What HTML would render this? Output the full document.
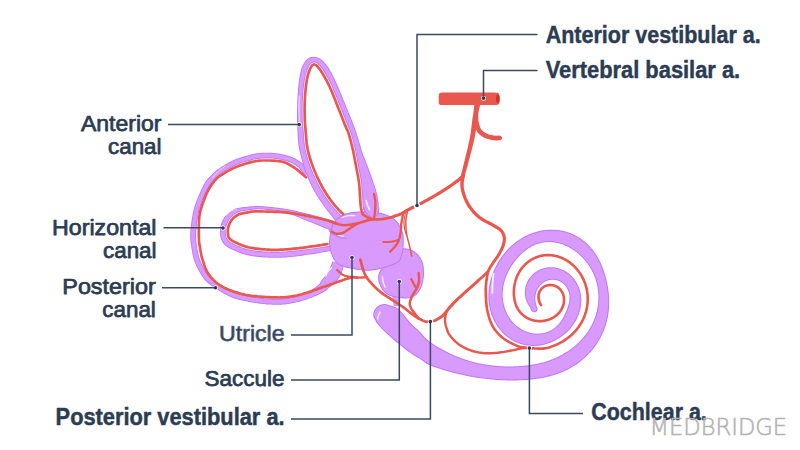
<!DOCTYPE html>
<html><head><meta charset="utf-8"><title>Inner ear arteries</title>
<style>
html,body{margin:0;padding:0;background:#fff;}
body{width:800px;height:450px;overflow:hidden;}
svg{display:block;}
text{font-family:"Liberation Sans",sans-serif;fill:#2b3c53;}
.b{font-weight:bold;}
</style></head><body>
<svg width="800" height="450" viewBox="0 0 800 450">
<rect width="800" height="450" fill="#fff"/>
<path d="M309.0 172.0 L308.6 171.4 L308.2 170.9 L307.8 170.3 L307.3 169.7 L306.9 169.1 L306.5 168.6 L306.1 168.0 L305.7 167.5 L305.4 167.0 L305.0 166.5 L304.7 166.1 L304.5 165.7 L304.3 165.4 L304.2 165.1 L304.0 164.8 L303.8 164.5 L303.6 164.2 L303.2 163.8 L302.8 163.4 L302.2 163.0 L301.5 162.5 L300.6 161.9 L299.7 161.3 L298.7 160.6 L297.6 159.9 L296.5 159.3 L295.3 158.6 L294.1 158.0 L292.8 157.4 L291.6 156.9 L290.3 156.4 L289.0 156.0 L287.5 155.6 L286.1 155.2 L284.6 154.8 L283.1 154.5 L281.6 154.2 L280.2 153.9 L278.8 153.6 L277.4 153.4 L276.1 153.2 L274.8 153.1 L273.5 152.9 L272.2 152.8 L270.9 152.8 L269.7 152.7 L268.5 152.7 L267.3 152.7 L266.1 152.7 L265.0 152.7 L263.9 152.7 L262.8 152.8 L261.8 152.8 L260.7 152.9 L259.7 153.0 L258.7 153.1 L257.8 153.2 L256.8 153.3 L255.9 153.5 L255.0 153.6 L254.1 153.8 L253.3 153.9 L252.5 154.1 L251.8 154.3 L251.0 154.5 L250.3 154.7 L249.6 154.9 L248.8 155.1 L248.0 155.4 L247.2 155.6 L246.3 155.8 L245.5 156.1 L244.5 156.3 L243.6 156.6 L242.7 156.8 L241.7 157.1 L240.8 157.4 L240.0 157.7 L239.1 157.9 L238.3 158.2 L237.6 158.5 L236.9 158.7 L236.2 159.0 L235.5 159.2 L234.9 159.5 L234.3 159.8 L233.7 160.1 L233.1 160.3 L232.4 160.7 L231.7 161.0 L231.0 161.4 L230.2 161.7 L229.5 162.1 L228.7 162.5 L227.9 162.9 L227.1 163.4 L226.4 163.8 L225.6 164.3 L224.8 164.7 L224.0 165.2 L223.2 165.7 L222.4 166.2 L221.6 166.7 L220.7 167.3 L219.9 167.8 L219.1 168.4 L218.3 168.9 L217.5 169.5 L216.8 170.1 L216.1 170.6 L215.4 171.1 L214.8 171.7 L214.2 172.2 L213.7 172.7 L213.1 173.2 L212.6 173.8 L212.1 174.3 L211.6 174.9 L211.0 175.4 L210.5 176.0 L210.0 176.6 L209.4 177.1 L208.9 177.6 L208.4 178.1 L207.9 178.7 L207.4 179.2 L206.8 179.9 L206.3 180.5 L205.8 181.3 L205.2 182.2 L204.6 183.2 L204.0 184.3 L203.4 185.5 L202.7 186.8 L202.1 188.1 L201.4 189.4 L200.8 190.8 L200.2 192.1 L199.6 193.4 L199.0 194.7 L198.5 196.0 L197.9 197.2 L197.4 198.5 L196.9 199.7 L196.4 201.0 L195.9 202.3 L195.5 203.5 L195.1 204.7 L194.7 205.9 L194.3 207.1 L194.0 208.2 L193.7 209.4 L193.4 210.4 L193.2 211.5 L193.0 212.6 L192.7 213.6 L192.6 214.7 L192.4 215.8 L192.2 216.9 L192.0 218.0 L191.8 219.2 L191.6 220.4 L191.4 221.6 L191.3 222.8 L191.1 224.1 L191.0 225.3 L190.8 226.5 L190.7 227.7 L190.6 228.9 L190.5 230.0 L190.4 231.1 L190.4 232.0 L190.3 233.0 L190.2 233.9 L190.2 234.8 L190.2 235.7 L190.2 236.7 L190.2 237.7 L190.3 238.8 L190.4 240.0 L190.5 241.4 L190.7 242.9 L190.9 244.5 L191.2 246.2 L191.4 247.9 L191.7 249.6 L192.0 251.3 L192.3 252.9 L192.5 254.3 L192.8 255.6 L193.1 256.7 L193.3 257.8 L193.6 258.7 L193.8 259.5 L194.1 260.3 L194.3 261.1 L194.6 261.8 L194.9 262.5 L195.2 263.2 L195.5 264.0 L195.8 264.8 L196.1 265.5 L196.4 266.2 L196.7 266.8 L197.0 267.5 L197.4 268.2 L197.7 268.8 L198.1 269.6 L198.5 270.3 L199.0 271.1 L199.5 271.9 L200.0 272.8 L200.5 273.8 L201.1 274.7 L201.7 275.7 L202.3 276.7 L202.9 277.6 L203.6 278.6 L204.4 279.5 L205.2 280.4 L206.0 281.3 L206.9 282.1 L207.8 282.9 L208.8 283.7 L209.8 284.5 L210.8 285.3 L211.9 286.0 L213.1 286.8 L214.3 287.7 L215.6 288.5 L217.0 289.4 L218.5 290.3 L220.0 291.3 L221.7 292.3 L223.3 293.2 L225.0 294.2 L226.7 295.1 L228.4 296.0 L230.1 296.8 L231.7 297.5 L233.3 298.1 L234.8 298.7 L236.4 299.1 L237.9 299.6 L239.5 300.0 L241.0 300.3 L242.6 300.6 L244.1 301.0 L245.6 301.3 L247.2 301.6 L248.8 301.9 L250.4 302.2 L252.0 302.5 L253.6 302.8 L255.2 303.0 L256.8 303.2 L258.4 303.5 L259.9 303.7 L261.4 303.8 L262.8 304.0 L264.2 304.1 L265.5 304.3 L266.8 304.4 L268.0 304.5 L269.2 304.5 L270.4 304.6 L271.6 304.6 L272.8 304.7 L273.9 304.7 L275.0 304.7 L276.1 304.7 L277.1 304.7 L278.1 304.7 L279.1 304.7 L280.0 304.7 L281.0 304.7 L281.9 304.7 L282.9 304.6 L283.9 304.5 L285.0 304.4 L286.1 304.3 L287.2 304.1 L288.3 304.0 L289.5 303.8 L290.6 303.6 L291.8 303.4 L293.0 303.1 L294.2 302.9 L295.5 302.6 L296.7 302.3 L298.0 302.0 L299.3 301.7 L300.6 301.3 L301.9 300.9 L303.2 300.5 L304.6 300.1 L306.0 299.7 L307.3 299.3 L308.7 298.8 L310.0 298.3 L311.4 297.8 L312.8 297.2 L314.2 296.6 L315.6 296.0 L317.1 295.4 L318.5 294.7 L319.8 294.1 L321.1 293.5 L322.2 292.9 L323.3 292.3 L324.2 291.7 L325.1 291.2 L325.8 290.7 L326.5 290.2 L327.1 289.7 L327.6 289.1 L328.2 288.6 L328.8 288.1 L329.4 287.6 L330.0 287.0 L330.7 286.4 L331.4 285.8 L332.1 285.3 L332.8 284.7 L333.5 284.0 L334.2 283.4 L334.9 282.8 L335.5 282.2 L336.1 281.6 L336.7 281.0 L337.2 280.4 L337.7 279.8 L338.2 279.2 L338.6 278.6 L339.0 278.0 L339.4 277.3 L339.7 276.7 L340.1 276.2 L340.4 275.6 L340.7 275.0 L341.0 274.4 L341.2 273.9 L341.5 273.4 L341.7 272.8 L341.9 272.3 L342.0 271.8 L342.2 271.3 L342.4 270.8 L342.5 270.2 L342.7 269.7 L342.9 269.1 L343.0 268.6 L343.1 268.0 L343.3 267.4 L343.4 266.9 L343.5 266.3 L343.6 265.7 L343.8 265.1 L343.9 264.6 L344.0 264.0 L332.3 261.4 L332.1 262.0 L331.9 262.7 L331.7 263.3 L331.6 263.8 L331.4 264.3 L331.2 264.8 L331.1 265.2 L331.0 265.6 L330.8 265.9 L330.7 266.2 L330.5 266.6 L330.3 267.1 L330.2 267.5 L330.0 267.8 L329.9 268.1 L329.8 268.3 L329.7 268.5 L329.6 268.6 L329.5 268.8 L329.4 269.1 L329.2 269.5 L328.9 269.9 L328.7 270.3 L328.5 270.7 L328.3 271.0 L328.1 271.4 L327.9 271.7 L327.7 272.0 L327.5 272.4 L327.4 272.7 L327.2 273.0 L327.0 273.4 L326.6 273.9 L326.2 274.5 L325.8 275.1 L325.2 275.7 L324.7 276.4 L324.1 277.1 L323.5 277.9 L322.9 278.6 L322.2 279.5 L321.6 280.3 L321.1 281.0 L320.8 281.6 L320.5 282.1 L320.3 282.5 L320.0 283.0 L319.8 283.4 L319.4 283.9 L318.9 284.5 L318.1 285.1 L317.2 285.8 L316.2 286.6 L315.0 287.4 L313.8 288.2 L312.6 288.9 L311.3 289.7 L310.0 290.4 L308.8 291.1 L307.5 291.7 L306.4 292.3 L305.1 292.8 L303.9 293.3 L302.7 293.8 L301.4 294.3 L300.1 294.7 L298.9 295.1 L297.6 295.5 L296.4 295.8 L295.2 296.2 L294.1 296.5 L292.9 296.8 L291.8 297.1 L290.7 297.3 L289.6 297.6 L288.5 297.8 L287.4 298.0 L286.4 298.1 L285.4 298.3 L284.3 298.4 L283.4 298.6 L282.5 298.6 L281.6 298.7 L280.8 298.8 L279.9 298.8 L279.0 298.8 L278.1 298.8 L277.2 298.8 L276.2 298.8 L275.1 298.8 L274.0 298.8 L272.9 298.8 L271.8 298.7 L270.7 298.7 L269.6 298.6 L268.4 298.6 L267.2 298.5 L266.0 298.4 L264.7 298.3 L263.4 298.1 L262.1 298.0 L260.6 297.8 L259.1 297.6 L257.6 297.4 L256.1 297.2 L254.5 296.9 L253.0 296.7 L251.4 296.4 L249.9 296.1 L248.4 295.8 L246.8 295.5 L245.3 295.2 L243.8 294.9 L242.3 294.6 L240.9 294.2 L239.5 293.9 L238.1 293.5 L236.7 293.1 L235.3 292.6 L234.0 292.1 L232.5 291.4 L231.0 290.7 L229.5 289.9 L227.9 289.1 L226.2 288.2 L224.6 287.3 L223.1 286.3 L221.5 285.4 L220.1 284.5 L218.7 283.6 L217.5 282.8 L216.3 282.0 L215.3 281.3 L214.3 280.6 L213.3 279.9 L212.4 279.2 L211.6 278.5 L210.8 277.8 L210.1 277.1 L209.4 276.4 L208.8 275.7 L208.2 275.0 L207.7 274.3 L207.1 273.5 L206.6 272.6 L206.1 271.8 L205.6 270.9 L205.0 270.0 L204.5 269.1 L204.0 268.2 L203.6 267.4 L203.2 266.7 L202.8 266.1 L202.5 265.5 L202.2 264.9 L202.0 264.4 L201.7 263.8 L201.4 263.2 L201.2 262.5 L200.9 261.8 L200.6 261.1 L200.3 260.4 L200.0 259.7 L199.8 259.1 L199.6 258.4 L199.4 257.8 L199.1 257.1 L198.9 256.3 L198.7 255.4 L198.5 254.4 L198.2 253.2 L198.0 251.8 L197.7 250.3 L197.4 248.7 L197.2 247.0 L196.9 245.3 L196.7 243.7 L196.5 242.2 L196.3 240.7 L196.2 239.5 L196.1 238.4 L196.0 237.4 L196.0 236.5 L196.0 235.7 L196.0 234.9 L196.0 234.1 L196.1 233.3 L196.1 232.4 L196.2 231.5 L196.3 230.4 L196.4 229.4 L196.5 228.3 L196.6 227.1 L196.7 226.0 L196.9 224.8 L197.0 223.6 L197.2 222.4 L197.4 221.2 L197.5 220.1 L197.7 218.9 L197.9 217.8 L198.1 216.7 L198.2 215.7 L198.4 214.7 L198.6 213.7 L198.8 212.7 L199.0 211.8 L199.2 210.8 L199.5 209.8 L199.8 208.7 L200.1 207.7 L200.5 206.5 L200.9 205.4 L201.3 204.2 L201.7 203.0 L202.2 201.8 L202.7 200.6 L203.2 199.4 L203.7 198.2 L204.2 197.0 L204.8 195.7 L205.3 194.5 L205.9 193.2 L206.6 191.9 L207.2 190.6 L207.8 189.3 L208.4 188.1 L209.0 187.0 L209.6 186.0 L210.1 185.2 L210.5 184.5 L210.9 183.9 L211.3 183.4 L211.7 183.0 L212.1 182.5 L212.5 182.1 L212.9 181.6 L213.5 181.1 L214.0 180.5 L214.6 179.9 L215.2 179.3 L215.7 178.8 L216.2 178.3 L216.7 177.8 L217.1 177.3 L217.6 176.8 L218.1 176.4 L218.6 175.9 L219.1 175.5 L219.7 175.1 L220.3 174.6 L220.9 174.1 L221.6 173.6 L222.4 173.1 L223.1 172.5 L223.9 172.0 L224.7 171.5 L225.5 171.0 L226.2 170.5 L227.0 170.1 L227.7 169.6 L228.4 169.2 L229.2 168.8 L229.9 168.4 L230.6 168.0 L231.4 167.6 L232.1 167.2 L232.8 166.8 L233.5 166.5 L234.2 166.1 L234.9 165.8 L235.5 165.5 L236.1 165.2 L236.6 165.0 L237.2 164.7 L237.7 164.5 L238.3 164.3 L238.9 164.1 L239.5 163.8 L240.2 163.6 L240.9 163.3 L241.7 163.1 L242.5 162.8 L243.3 162.6 L244.2 162.3 L245.1 162.1 L246.1 161.8 L247.0 161.6 L247.9 161.3 L248.7 161.1 L249.6 160.9 L250.4 160.6 L251.2 160.4 L251.9 160.2 L252.6 160.0 L253.2 159.8 L253.9 159.6 L254.5 159.5 L255.2 159.4 L255.9 159.2 L256.8 159.1 L257.6 159.0 L258.5 158.9 L259.4 158.7 L260.3 158.7 L261.2 158.6 L262.1 158.5 L263.1 158.5 L264.0 158.4 L265.1 158.4 L266.2 158.4 L267.3 158.4 L268.4 158.4 L269.5 158.4 L270.7 158.5 L271.8 158.5 L273.0 158.6 L274.2 158.7 L275.3 158.9 L276.5 159.0 L277.8 159.2 L279.1 159.5 L280.5 159.7 L281.9 160.0 L283.3 160.4 L284.7 160.7 L286.0 161.0 L287.3 161.4 L288.5 161.8 L289.5 162.2 L290.5 162.6 L291.6 163.1 L292.6 163.7 L293.6 164.3 L294.6 164.9 L295.6 165.5 L296.5 166.1 L297.4 166.7 L298.1 167.2 L298.8 167.7 L299.2 168.0 L299.3 168.1 L299.2 168.0 L299.1 167.9 L299.0 167.7 L299.0 167.7 L299.1 168.0 L299.4 168.5 L299.8 169.2 L300.3 169.9 L300.7 170.4 L301.1 170.9 L301.4 171.4 L301.8 172.0 L302.2 172.5 L302.6 173.1 L303.1 173.7 L303.5 174.3 L303.9 174.8 L304.3 175.4Z" fill="#c176fc"/>
<path d="M308.3 172.5 L307.9 172.0 L307.5 171.4 L307.0 170.8 L306.6 170.2 L306.2 169.7 L305.8 169.1 L305.4 168.5 L305.0 168.0 L304.6 167.5 L304.3 167.0 L304.0 166.6 L303.7 166.2 L303.5 165.8 L303.4 165.5 L303.2 165.2 L303.1 165.0 L302.9 164.8 L302.6 164.5 L302.2 164.1 L301.7 163.7 L301.0 163.2 L300.1 162.6 L299.2 162.0 L298.2 161.4 L297.1 160.7 L296.0 160.1 L294.9 159.4 L293.7 158.8 L292.5 158.2 L291.3 157.7 L290.0 157.3 L288.7 156.8 L287.3 156.4 L285.9 156.0 L284.4 155.7 L282.9 155.4 L281.5 155.0 L280.0 154.8 L278.6 154.5 L277.3 154.3 L276.0 154.1 L274.7 154.0 L273.4 153.8 L272.1 153.7 L270.9 153.7 L269.7 153.6 L268.5 153.6 L267.3 153.6 L266.1 153.6 L265.0 153.6 L263.9 153.6 L262.9 153.7 L261.8 153.7 L260.8 153.8 L259.8 153.9 L258.8 154.0 L257.9 154.1 L256.9 154.2 L256.0 154.3 L255.1 154.5 L254.3 154.6 L253.5 154.8 L252.7 155.0 L252.0 155.2 L251.3 155.4 L250.5 155.6 L249.8 155.8 L249.0 156.0 L248.3 156.2 L247.4 156.5 L246.6 156.7 L245.7 156.9 L244.8 157.2 L243.9 157.5 L242.9 157.7 L242.0 158.0 L241.1 158.2 L240.2 158.5 L239.4 158.8 L238.6 159.1 L237.9 159.3 L237.2 159.6 L236.5 159.8 L235.9 160.1 L235.3 160.3 L234.7 160.6 L234.1 160.9 L233.4 161.2 L232.8 161.5 L232.1 161.8 L231.4 162.2 L230.6 162.5 L229.9 162.9 L229.1 163.3 L228.4 163.7 L227.6 164.2 L226.8 164.6 L226.0 165.0 L225.2 165.5 L224.5 166.0 L223.7 166.5 L222.9 167.0 L222.1 167.5 L221.2 168.0 L220.4 168.6 L219.6 169.1 L218.8 169.7 L218.1 170.2 L217.3 170.8 L216.7 171.3 L216.0 171.8 L215.4 172.3 L214.9 172.9 L214.3 173.4 L213.8 173.9 L213.3 174.4 L212.7 174.9 L212.2 175.5 L211.7 176.0 L211.2 176.6 L210.6 177.2 L210.1 177.7 L209.6 178.2 L209.0 178.7 L208.5 179.3 L208.0 179.8 L207.5 180.4 L207.0 181.1 L206.5 181.8 L206.0 182.7 L205.4 183.6 L204.8 184.7 L204.2 185.9 L203.5 187.2 L202.9 188.5 L202.2 189.8 L201.6 191.1 L201.0 192.5 L200.4 193.8 L199.8 195.1 L199.3 196.3 L198.8 197.6 L198.2 198.8 L197.7 200.1 L197.2 201.3 L196.8 202.6 L196.3 203.8 L195.9 205.0 L195.5 206.2 L195.2 207.4 L194.8 208.5 L194.5 209.6 L194.3 210.7 L194.0 211.7 L193.8 212.8 L193.6 213.8 L193.4 214.9 L193.3 215.9 L193.1 217.0 L192.9 218.1 L192.7 219.3 L192.5 220.5 L192.3 221.7 L192.2 222.9 L192.0 224.2 L191.9 225.4 L191.7 226.6 L191.6 227.8 L191.5 229.0 L191.4 230.1 L191.3 231.1 L191.2 232.1 L191.2 233.0 L191.1 233.9 L191.1 234.8 L191.1 235.7 L191.1 236.6 L191.1 237.6 L191.2 238.7 L191.3 239.9 L191.4 241.3 L191.6 242.8 L191.8 244.4 L192.1 246.1 L192.3 247.8 L192.6 249.5 L192.9 251.1 L193.1 252.7 L193.4 254.1 L193.7 255.4 L193.9 256.5 L194.2 257.5 L194.4 258.4 L194.7 259.3 L194.9 260.0 L195.2 260.8 L195.5 261.5 L195.7 262.2 L196.0 262.9 L196.3 263.7 L196.6 264.4 L196.9 265.1 L197.2 265.8 L197.5 266.4 L197.8 267.1 L198.2 267.8 L198.5 268.4 L198.9 269.1 L199.3 269.9 L199.8 270.6 L200.3 271.5 L200.8 272.4 L201.3 273.3 L201.9 274.3 L202.4 275.2 L203.0 276.2 L203.7 277.1 L204.4 278.0 L205.1 278.9 L205.9 279.8 L206.7 280.6 L207.5 281.4 L208.4 282.2 L209.4 283.0 L210.3 283.8 L211.4 284.5 L212.4 285.3 L213.6 286.1 L214.8 286.9 L216.1 287.7 L217.5 288.6 L218.9 289.6 L220.5 290.5 L222.1 291.5 L223.8 292.5 L225.5 293.4 L227.2 294.3 L228.8 295.2 L230.5 296.0 L232.0 296.7 L233.6 297.3 L235.1 297.8 L236.6 298.3 L238.2 298.7 L239.7 299.1 L241.2 299.4 L242.7 299.8 L244.3 300.1 L245.8 300.4 L247.4 300.7 L248.9 301.0 L250.5 301.3 L252.1 301.6 L253.7 301.9 L255.3 302.1 L256.9 302.4 L258.5 302.6 L260.0 302.8 L261.5 302.9 L262.9 303.1 L264.3 303.2 L265.6 303.4 L266.8 303.5 L268.1 303.6 L269.3 303.6 L270.5 303.7 L271.6 303.7 L272.8 303.8 L273.9 303.8 L275.0 303.8 L276.1 303.8 L277.1 303.8 L278.1 303.8 L279.1 303.8 L280.0 303.8 L280.9 303.8 L281.9 303.8 L282.9 303.7 L283.9 303.6 L284.9 303.5 L286.0 303.4 L287.1 303.2 L288.2 303.1 L289.3 302.9 L290.5 302.7 L291.7 302.5 L292.8 302.2 L294.0 302.0 L295.3 301.7 L296.5 301.4 L297.7 301.1 L299.0 300.8 L300.3 300.4 L301.7 300.1 L303.0 299.7 L304.3 299.3 L305.7 298.9 L307.0 298.4 L308.4 297.9 L309.7 297.5 L311.0 296.9 L312.4 296.4 L313.8 295.8 L315.3 295.2 L316.7 294.6 L318.1 293.9 L319.4 293.3 L320.7 292.7 L321.8 292.1 L322.9 291.5 L323.8 291.0 L324.6 290.5 L325.3 290.0 L325.9 289.5 L326.5 289.0 L327.0 288.5 L327.6 288.0 L328.2 287.4 L328.8 286.9 L329.4 286.3 L330.1 285.7 L330.8 285.2 L331.5 284.6 L332.2 284.0 L332.9 283.4 L333.6 282.8 L334.3 282.2 L334.9 281.6 L335.5 281.0 L336.0 280.4 L336.5 279.8 L337.0 279.2 L337.4 278.6 L337.8 278.1 L338.2 277.5 L338.6 276.9 L339.0 276.3 L339.3 275.7 L339.6 275.1 L339.9 274.6 L340.2 274.0 L340.4 273.5 L340.6 273.0 L340.8 272.5 L341.0 272.0 L341.2 271.5 L341.4 271.0 L341.5 270.5 L341.7 270.0 L341.8 269.4 L342.0 268.9 L342.1 268.4 L342.3 267.8 L342.4 267.3 L342.5 266.7 L342.6 266.1 L342.8 265.5 L342.9 265.0 L343.0 264.4 L343.1 263.8 L333.2 261.6 L333.0 262.2 L332.8 262.8 L332.6 263.5 L332.4 264.0 L332.3 264.5 L332.1 265.0 L332.0 265.4 L331.8 265.8 L331.7 266.1 L331.6 266.4 L331.4 266.9 L331.2 267.4 L331.0 267.8 L330.9 268.1 L330.8 268.4 L330.6 268.6 L330.5 268.8 L330.4 269.0 L330.3 269.2 L330.2 269.5 L329.9 269.9 L329.7 270.3 L329.5 270.8 L329.2 271.2 L329.0 271.5 L328.8 271.9 L328.6 272.3 L328.4 272.6 L328.2 272.9 L328.1 273.3 L327.9 273.6 L327.6 274.1 L327.2 274.6 L326.8 275.1 L326.3 275.8 L325.8 276.4 L325.3 277.1 L324.7 277.8 L324.1 278.5 L323.4 279.3 L322.8 280.1 L322.2 280.9 L321.7 281.6 L321.4 282.2 L321.1 282.8 L320.8 283.2 L320.6 283.7 L320.3 284.2 L319.9 284.7 L319.3 285.3 L318.5 285.9 L317.6 286.6 L316.6 287.4 L315.4 288.2 L314.2 289.0 L312.9 289.8 L311.6 290.5 L310.4 291.3 L309.1 292.0 L307.9 292.6 L306.7 293.2 L305.4 293.7 L304.2 294.2 L302.9 294.7 L301.7 295.1 L300.4 295.6 L299.1 296.0 L297.9 296.3 L296.6 296.7 L295.4 297.1 L294.3 297.4 L293.1 297.7 L292.0 298.0 L290.8 298.2 L289.7 298.4 L288.6 298.7 L287.6 298.9 L286.5 299.0 L285.5 299.2 L284.4 299.3 L283.5 299.4 L282.6 299.5 L281.7 299.6 L280.8 299.7 L279.9 299.7 L279.0 299.7 L278.1 299.7 L277.2 299.7 L276.2 299.7 L275.1 299.7 L274.0 299.7 L272.9 299.7 L271.8 299.6 L270.6 299.6 L269.5 299.5 L268.3 299.5 L267.1 299.4 L265.9 299.3 L264.7 299.2 L263.3 299.0 L262.0 298.9 L260.5 298.7 L259.0 298.5 L257.5 298.3 L255.9 298.1 L254.4 297.8 L252.8 297.6 L251.3 297.3 L249.7 297.0 L248.2 296.7 L246.6 296.4 L245.1 296.1 L243.6 295.8 L242.1 295.4 L240.7 295.1 L239.2 294.7 L237.8 294.3 L236.4 293.9 L235.0 293.4 L233.6 292.9 L232.2 292.3 L230.6 291.5 L229.1 290.7 L227.4 289.9 L225.8 289.0 L224.2 288.0 L222.6 287.1 L221.1 286.2 L219.6 285.2 L218.3 284.4 L217.0 283.6 L215.8 282.8 L214.7 282.0 L213.7 281.3 L212.8 280.6 L211.9 279.9 L211.0 279.2 L210.2 278.5 L209.5 277.8 L208.8 277.0 L208.1 276.3 L207.5 275.6 L206.9 274.8 L206.4 274.0 L205.8 273.1 L205.3 272.2 L204.8 271.3 L204.3 270.4 L203.7 269.5 L203.2 268.6 L202.8 267.9 L202.4 267.2 L202.0 266.5 L201.7 265.9 L201.4 265.3 L201.2 264.8 L200.9 264.2 L200.6 263.5 L200.3 262.9 L200.0 262.2 L199.7 261.4 L199.5 260.7 L199.2 260.0 L198.9 259.4 L198.7 258.7 L198.5 258.1 L198.3 257.3 L198.0 256.5 L197.8 255.6 L197.6 254.6 L197.3 253.4 L197.1 252.0 L196.8 250.4 L196.5 248.8 L196.3 247.1 L196.0 245.5 L195.8 243.8 L195.6 242.3 L195.4 240.8 L195.3 239.6 L195.2 238.4 L195.1 237.4 L195.1 236.5 L195.1 235.7 L195.1 234.9 L195.1 234.1 L195.2 233.3 L195.2 232.4 L195.3 231.4 L195.4 230.4 L195.5 229.3 L195.6 228.2 L195.7 227.0 L195.8 225.9 L196.0 224.7 L196.1 223.5 L196.3 222.3 L196.5 221.1 L196.7 219.9 L196.8 218.8 L197.0 217.7 L197.2 216.6 L197.4 215.5 L197.5 214.5 L197.7 213.5 L197.9 212.5 L198.1 211.5 L198.3 210.5 L198.6 209.5 L198.9 208.5 L199.2 207.4 L199.6 206.3 L200.0 205.1 L200.4 203.9 L200.9 202.7 L201.4 201.5 L201.8 200.3 L202.4 199.1 L202.9 197.8 L203.4 196.6 L203.9 195.4 L204.5 194.1 L205.1 192.8 L205.7 191.5 L206.4 190.2 L207.0 188.9 L207.6 187.7 L208.2 186.6 L208.8 185.6 L209.3 184.7 L209.7 184.0 L210.2 183.4 L210.6 182.9 L211.0 182.4 L211.4 181.9 L211.8 181.5 L212.3 181.0 L212.8 180.5 L213.4 179.9 L214.0 179.3 L214.5 178.7 L215.0 178.2 L215.5 177.6 L216.0 177.1 L216.5 176.7 L217.0 176.2 L217.5 175.7 L218.0 175.3 L218.5 174.8 L219.1 174.3 L219.7 173.9 L220.4 173.4 L221.1 172.9 L221.8 172.3 L222.6 171.8 L223.4 171.3 L224.2 170.8 L225.0 170.3 L225.8 169.8 L226.5 169.3 L227.2 168.8 L228.0 168.4 L228.7 168.0 L229.5 167.6 L230.2 167.2 L231.0 166.8 L231.7 166.4 L232.4 166.0 L233.1 165.7 L233.8 165.3 L234.5 165.0 L235.1 164.7 L235.7 164.4 L236.3 164.2 L236.8 163.9 L237.4 163.7 L237.9 163.4 L238.5 163.2 L239.2 163.0 L239.9 162.7 L240.6 162.5 L241.4 162.2 L242.2 162.0 L243.1 161.7 L244.0 161.5 L244.9 161.2 L245.8 161.0 L246.7 160.7 L247.6 160.5 L248.5 160.2 L249.3 160.0 L250.1 159.8 L250.9 159.5 L251.6 159.3 L252.3 159.1 L253.0 158.9 L253.7 158.8 L254.3 158.6 L255.0 158.5 L255.8 158.3 L256.6 158.2 L257.5 158.1 L258.4 158.0 L259.3 157.9 L260.2 157.8 L261.1 157.7 L262.1 157.6 L263.0 157.6 L264.0 157.5 L265.1 157.5 L266.1 157.5 L267.3 157.5 L268.4 157.5 L269.6 157.5 L270.7 157.6 L271.9 157.6 L273.1 157.7 L274.3 157.8 L275.5 158.0 L276.7 158.1 L277.9 158.4 L279.3 158.6 L280.7 158.9 L282.1 159.2 L283.5 159.5 L284.9 159.8 L286.2 160.2 L287.5 160.6 L288.8 161.0 L289.9 161.4 L290.9 161.8 L292.0 162.3 L293.0 162.9 L294.1 163.5 L295.1 164.1 L296.1 164.7 L297.0 165.3 L297.9 165.9 L298.7 166.5 L299.3 167.0 L299.7 167.3 L299.9 167.4 L299.9 167.4 L299.8 167.4 L299.8 167.3 L299.8 167.3 L299.9 167.6 L300.2 168.1 L300.6 168.8 L301.0 169.4 L301.4 169.9 L301.8 170.4 L302.2 170.9 L302.5 171.4 L303.0 172.0 L303.4 172.6 L303.8 173.2 L304.2 173.7 L304.6 174.3 L305.0 174.9Z" fill="#d99afd"/>
<path d="M344.0 224.0 L343.5 223.8 L343.0 223.6 L342.5 223.3 L342.0 223.1 L341.5 222.9 L341.0 222.7 L340.5 222.5 L339.9 222.3 L339.2 222.0 L338.5 221.8 L337.7 221.6 L336.9 221.4 L336.0 221.1 L335.0 220.9 L334.0 220.7 L333.0 220.5 L332.0 220.2 L330.9 220.0 L329.8 219.7 L328.7 219.4 L327.5 219.1 L326.3 218.7 L325.1 218.4 L323.8 218.0 L322.5 217.6 L321.1 217.2 L319.8 216.9 L318.5 216.5 L317.2 216.1 L316.0 215.8 L314.8 215.5 L313.6 215.2 L312.5 214.9 L311.3 214.6 L310.2 214.3 L309.0 214.0 L307.9 213.7 L306.8 213.5 L305.6 213.2 L304.4 212.9 L303.2 212.6 L302.0 212.3 L300.7 212.0 L299.5 211.7 L298.2 211.4 L297.0 211.1 L295.7 210.8 L294.5 210.5 L293.2 210.3 L292.0 210.0 L290.8 209.8 L289.6 209.5 L288.4 209.3 L287.2 209.1 L286.0 208.9 L284.9 208.7 L283.7 208.5 L282.5 208.3 L281.2 208.2 L280.0 208.0 L278.7 207.8 L277.4 207.7 L276.1 207.5 L274.8 207.4 L273.5 207.2 L272.1 207.1 L270.8 206.9 L269.5 206.8 L268.2 206.7 L267.0 206.6 L265.8 206.5 L264.7 206.4 L263.6 206.3 L262.6 206.2 L261.5 206.1 L260.4 206.0 L259.3 206.0 L258.2 206.0 L256.9 206.0 L255.6 206.0 L254.1 206.1 L252.5 206.2 L250.8 206.3 L249.0 206.5 L247.2 206.7 L245.4 206.9 L243.7 207.1 L242.1 207.3 L240.7 207.5 L239.4 207.7 L238.3 207.9 L237.4 208.1 L236.6 208.3 L235.9 208.6 L235.3 208.8 L234.7 209.1 L234.2 209.3 L233.6 209.6 L233.1 209.9 L232.5 210.2 L231.9 210.5 L231.3 210.9 L230.7 211.2 L230.1 211.6 L229.6 212.0 L229.0 212.4 L228.5 212.9 L228.0 213.3 L227.5 213.7 L227.0 214.2 L226.5 214.7 L226.1 215.2 L225.6 215.7 L225.2 216.2 L224.8 216.8 L224.4 217.3 L224.0 217.9 L223.7 218.4 L223.3 219.0 L223.0 219.5 L222.7 220.0 L222.4 220.6 L222.2 221.2 L221.9 221.7 L221.7 222.3 L221.5 222.8 L221.3 223.4 L221.1 223.9 L221.0 224.5 L220.8 225.0 L220.7 225.5 L220.5 226.0 L220.4 226.5 L220.3 227.0 L220.2 227.5 L220.2 228.0 L220.1 228.4 L220.1 228.9 L220.0 229.5 L220.0 230.0 L220.0 230.6 L220.0 231.2 L220.0 231.8 L220.0 232.4 L220.0 233.0 L220.0 233.6 L220.1 234.2 L220.1 234.8 L220.2 235.4 L220.3 236.0 L220.4 236.5 L220.5 237.1 L220.6 237.6 L220.7 238.1 L220.8 238.6 L221.0 239.1 L221.2 239.6 L221.3 240.0 L221.6 240.5 L221.8 241.0 L222.1 241.5 L222.4 242.0 L222.7 242.4 L223.0 242.9 L223.4 243.4 L223.8 243.9 L224.2 244.3 L224.6 244.8 L225.0 245.2 L225.5 245.6 L225.9 246.0 L226.3 246.3 L226.7 246.7 L227.1 247.0 L227.6 247.3 L228.1 247.6 L228.6 248.0 L229.3 248.3 L230.2 248.7 L231.2 249.2 L232.4 249.7 L233.7 250.3 L235.1 251.0 L236.6 251.6 L238.2 252.3 L239.9 253.0 L241.7 253.7 L243.6 254.3 L245.5 254.8 L247.5 255.3 L249.6 255.7 L251.9 256.1 L254.2 256.4 L256.7 256.7 L259.2 257.0 L261.8 257.2 L264.3 257.4 L266.9 257.6 L269.4 257.7 L271.9 257.8 L274.3 257.8 L276.6 257.8 L278.9 257.8 L281.2 257.7 L283.5 257.6 L285.9 257.5 L288.3 257.3 L290.8 257.1 L293.4 256.8 L296.2 256.5 L299.2 256.1 L302.5 255.7 L306.0 255.1 L309.6 254.6 L313.3 254.0 L316.8 253.4 L320.2 252.8 L323.4 252.2 L326.3 251.7 L328.7 251.3 L330.7 250.9 L332.3 250.6 L333.6 250.4 L334.7 250.1 L335.7 249.9 L336.5 249.7 L337.3 249.5 L338.1 249.3 L339.0 249.0 L340.0 248.8 L338.8 243.6 L337.7 243.9 L336.8 244.1 L335.9 244.4 L335.2 244.6 L334.4 244.8 L333.6 245.0 L332.5 245.2 L331.3 245.5 L329.7 245.8 L327.8 246.1 L325.3 246.5 L322.5 246.9 L319.3 247.4 L315.9 247.9 L312.3 248.4 L308.7 248.9 L305.1 249.4 L301.7 249.8 L298.4 250.2 L295.5 250.5 L292.8 250.8 L290.2 251.1 L287.8 251.3 L285.5 251.4 L283.2 251.6 L281.0 251.7 L278.8 251.8 L276.6 251.8 L274.4 251.8 L272.0 251.8 L269.7 251.7 L267.2 251.6 L264.7 251.5 L262.3 251.3 L259.8 251.0 L257.4 250.8 L255.0 250.5 L252.8 250.2 L250.7 249.8 L248.8 249.4 L247.0 249.0 L245.3 248.5 L243.6 248.0 L242.0 247.4 L240.5 246.8 L239.0 246.1 L237.5 245.5 L236.2 244.9 L234.9 244.3 L233.7 243.7 L232.7 243.3 L232.0 243.0 L231.5 242.7 L231.2 242.5 L230.9 242.4 L230.7 242.3 L230.5 242.1 L230.2 241.9 L229.9 241.6 L229.4 241.2 L229.1 240.9 L228.8 240.6 L228.5 240.3 L228.2 240.0 L228.0 239.7 L227.7 239.4 L227.5 239.1 L227.3 238.8 L227.1 238.5 L226.9 238.3 L226.8 238.0 L226.7 237.8 L226.6 237.6 L226.5 237.3 L226.4 237.0 L226.3 236.7 L226.3 236.4 L226.2 236.0 L226.1 235.5 L226.0 235.1 L226.0 234.7 L225.9 234.2 L225.9 233.7 L225.8 233.2 L225.8 232.7 L225.8 232.2 L225.8 231.7 L225.8 231.2 L225.8 230.7 L225.8 230.3 L225.8 229.8 L225.8 229.4 L225.9 229.1 L225.9 228.7 L226.0 228.4 L226.0 228.0 L226.1 227.7 L226.2 227.4 L226.3 227.0 L226.4 226.6 L226.5 226.1 L226.6 225.7 L226.8 225.2 L226.9 224.8 L227.1 224.3 L227.2 223.9 L227.4 223.5 L227.6 223.1 L227.8 222.7 L228.0 222.3 L228.2 221.9 L228.4 221.4 L228.7 221.0 L228.9 220.5 L229.2 220.1 L229.5 219.6 L229.8 219.2 L230.1 218.8 L230.4 218.4 L230.7 218.0 L231.0 217.6 L231.4 217.2 L231.8 216.8 L232.2 216.5 L232.6 216.1 L233.0 215.8 L233.4 215.4 L233.8 215.1 L234.3 214.8 L234.8 214.4 L235.3 214.1 L235.8 213.7 L236.3 213.5 L236.6 213.2 L237.0 213.0 L237.4 212.8 L237.9 212.6 L238.5 212.3 L239.2 212.1 L240.1 211.8 L241.3 211.6 L242.7 211.3 L244.2 211.0 L245.9 210.7 L247.6 210.4 L249.4 210.1 L251.1 209.9 L252.8 209.7 L254.3 209.5 L255.7 209.4 L257.0 209.3 L258.1 209.3 L259.2 209.3 L260.2 209.3 L261.3 209.4 L262.3 209.5 L263.3 209.6 L264.4 209.7 L265.5 209.8 L266.7 209.9 L268.0 210.0 L269.2 210.1 L270.5 210.2 L271.8 210.3 L273.1 210.5 L274.4 210.6 L275.7 210.8 L277.0 211.0 L278.3 211.2 L279.5 211.4 L280.8 211.6 L281.9 211.9 L283.1 212.1 L284.3 212.4 L285.4 212.7 L286.5 213.0 L287.7 213.3 L288.8 213.7 L290.0 214.0 L291.1 214.4 L292.3 214.8 L293.4 215.3 L294.6 215.7 L295.8 216.2 L296.9 216.7 L298.1 217.2 L299.3 217.7 L300.5 218.2 L301.7 218.7 L302.9 219.2 L304.0 219.7 L305.1 220.1 L306.3 220.5 L307.3 221.0 L308.4 221.4 L309.5 221.8 L310.6 222.2 L311.7 222.6 L312.8 223.1 L313.9 223.5 L315.1 224.0 L316.3 224.5 L317.5 225.0 L318.7 225.6 L320.0 226.1 L321.3 226.7 L322.5 227.2 L323.8 227.7 L325.0 228.2 L326.2 228.7 L327.4 229.1 L328.6 229.5 L329.7 229.9 L330.8 230.2 L331.8 230.6 L332.7 230.9 L333.6 231.1 L334.3 231.4 L335.0 231.6 L335.5 231.9 L335.9 232.1 L336.3 232.3 L336.6 232.4 L336.9 232.6 L337.2 232.8 L337.6 233.0 L338.0 233.3 L338.6 233.5 L339.2 233.9 L339.8 234.2Z" fill="#c176fc"/>
<path d="M343.7 224.8 L343.1 224.6 L342.6 224.4 L342.1 224.2 L341.6 224.0 L341.2 223.7 L340.7 223.5 L340.1 223.3 L339.6 223.1 L338.9 222.9 L338.2 222.7 L337.5 222.4 L336.6 222.2 L335.8 222.0 L334.8 221.8 L333.8 221.6 L332.8 221.3 L331.8 221.1 L330.7 220.8 L329.6 220.6 L328.5 220.3 L327.3 220.0 L326.1 219.6 L324.8 219.3 L323.5 218.9 L322.2 218.5 L320.9 218.1 L319.6 217.7 L318.3 217.4 L317.0 217.0 L315.8 216.7 L314.6 216.4 L313.4 216.0 L312.2 215.8 L311.1 215.5 L310.0 215.2 L308.8 214.9 L307.7 214.6 L306.5 214.3 L305.4 214.1 L304.2 213.8 L303.0 213.5 L301.8 213.2 L300.5 212.9 L299.3 212.6 L298.0 212.3 L296.8 212.0 L295.5 211.7 L294.3 211.4 L293.0 211.1 L291.8 210.9 L290.6 210.6 L289.4 210.4 L288.2 210.2 L287.1 210.0 L285.9 209.8 L284.7 209.6 L283.5 209.4 L282.3 209.2 L281.1 209.1 L279.9 208.9 L278.6 208.7 L277.3 208.6 L276.0 208.4 L274.7 208.3 L273.4 208.1 L272.0 208.0 L270.7 207.8 L269.4 207.7 L268.2 207.6 L266.9 207.5 L265.7 207.4 L264.6 207.3 L263.5 207.2 L262.5 207.1 L261.4 207.0 L260.4 206.9 L259.3 206.9 L258.2 206.9 L256.9 206.9 L255.6 206.9 L254.2 207.0 L252.6 207.1 L250.9 207.2 L249.1 207.4 L247.3 207.6 L245.5 207.7 L243.8 208.0 L242.2 208.2 L240.8 208.4 L239.6 208.6 L238.5 208.8 L237.6 209.0 L236.9 209.2 L236.2 209.4 L235.6 209.6 L235.1 209.9 L234.6 210.1 L234.1 210.4 L233.5 210.7 L232.9 211.0 L232.3 211.3 L231.8 211.7 L231.2 212.0 L230.6 212.4 L230.1 212.8 L229.6 213.1 L229.1 213.6 L228.6 214.0 L228.1 214.4 L227.6 214.8 L227.2 215.3 L226.7 215.8 L226.3 216.3 L225.9 216.8 L225.5 217.3 L225.1 217.8 L224.8 218.4 L224.4 218.9 L224.1 219.4 L223.8 219.9 L223.5 220.5 L223.2 221.0 L223.0 221.5 L222.8 222.1 L222.5 222.6 L222.3 223.1 L222.2 223.7 L222.0 224.2 L221.8 224.7 L221.7 225.2 L221.5 225.7 L221.4 226.2 L221.3 226.7 L221.2 227.2 L221.1 227.6 L221.1 228.1 L221.0 228.5 L221.0 229.0 L220.9 229.5 L220.9 230.0 L220.9 230.6 L220.9 231.2 L220.9 231.7 L220.9 232.4 L220.9 233.0 L220.9 233.6 L221.0 234.2 L221.0 234.8 L221.1 235.3 L221.2 235.9 L221.3 236.4 L221.4 236.9 L221.5 237.4 L221.6 237.9 L221.7 238.3 L221.8 238.8 L222.0 239.2 L222.2 239.7 L222.4 240.1 L222.6 240.6 L222.8 241.0 L223.1 241.5 L223.4 241.9 L223.7 242.4 L224.1 242.8 L224.5 243.3 L224.8 243.7 L225.2 244.1 L225.7 244.5 L226.1 244.9 L226.5 245.3 L226.9 245.7 L227.3 246.0 L227.7 246.3 L228.1 246.6 L228.5 246.9 L229.1 247.2 L229.8 247.5 L230.6 247.9 L231.6 248.4 L232.7 248.9 L234.0 249.5 L235.4 250.1 L236.9 250.8 L238.5 251.5 L240.2 252.2 L242.0 252.8 L243.8 253.4 L245.7 254.0 L247.7 254.4 L249.8 254.8 L252.0 255.2 L254.3 255.5 L256.8 255.8 L259.3 256.1 L261.8 256.3 L264.4 256.5 L266.9 256.7 L269.5 256.8 L271.9 256.9 L274.3 256.9 L276.6 256.9 L278.9 256.9 L281.2 256.8 L283.5 256.7 L285.8 256.6 L288.2 256.4 L290.7 256.2 L293.3 255.9 L296.1 255.6 L299.1 255.2 L302.4 254.8 L305.9 254.3 L309.5 253.7 L313.1 253.1 L316.7 252.5 L320.1 251.9 L323.3 251.3 L326.1 250.8 L328.5 250.4 L330.5 250.1 L332.1 249.7 L333.5 249.5 L334.5 249.2 L335.5 249.0 L336.3 248.8 L337.1 248.6 L337.9 248.4 L338.8 248.2 L339.8 247.9 L339.0 244.5 L337.9 244.8 L337.0 245.0 L336.2 245.2 L335.4 245.4 L334.6 245.7 L333.8 245.9 L332.7 246.1 L331.5 246.4 L329.9 246.6 L327.9 247.0 L325.5 247.4 L322.6 247.8 L319.5 248.3 L316.0 248.8 L312.5 249.3 L308.9 249.8 L305.3 250.3 L301.8 250.7 L298.6 251.1 L295.6 251.4 L292.9 251.7 L290.3 251.9 L287.9 252.2 L285.5 252.3 L283.3 252.5 L281.0 252.6 L278.8 252.7 L276.6 252.7 L274.3 252.7 L272.0 252.7 L269.6 252.6 L267.2 252.5 L264.7 252.4 L262.2 252.2 L259.7 251.9 L257.3 251.7 L254.9 251.4 L252.7 251.1 L250.5 250.7 L248.6 250.3 L246.8 249.9 L245.0 249.4 L243.4 248.8 L241.7 248.2 L240.1 247.6 L238.6 246.9 L237.2 246.3 L235.8 245.7 L234.5 245.1 L233.3 244.6 L232.3 244.1 L231.6 243.8 L231.1 243.5 L230.7 243.3 L230.4 243.1 L230.2 243.0 L229.9 242.8 L229.6 242.6 L229.3 242.2 L228.8 241.9 L228.5 241.5 L228.1 241.3 L227.8 240.9 L227.5 240.6 L227.3 240.3 L227.0 240.0 L226.7 239.6 L226.5 239.3 L226.3 239.0 L226.1 238.7 L226.0 238.4 L225.8 238.1 L225.7 237.9 L225.6 237.6 L225.5 237.3 L225.5 236.9 L225.4 236.6 L225.3 236.1 L225.2 235.7 L225.1 235.2 L225.1 234.8 L225.0 234.3 L225.0 233.8 L224.9 233.3 L224.9 232.8 L224.9 232.2 L224.9 231.7 L224.9 231.2 L224.9 230.7 L224.9 230.2 L224.9 229.8 L225.0 229.4 L225.0 229.0 L225.0 228.6 L225.1 228.2 L225.2 227.9 L225.2 227.5 L225.3 227.2 L225.4 226.8 L225.5 226.3 L225.6 225.9 L225.8 225.4 L225.9 224.9 L226.1 224.5 L226.2 224.0 L226.4 223.6 L226.6 223.1 L226.8 222.7 L227.0 222.3 L227.2 221.9 L227.4 221.4 L227.7 220.9 L227.9 220.5 L228.2 220.0 L228.5 219.5 L228.8 219.0 L229.1 218.6 L229.4 218.2 L229.8 217.7 L230.1 217.3 L230.4 216.9 L230.8 216.5 L231.2 216.1 L231.6 215.8 L232.0 215.4 L232.5 215.0 L232.9 214.7 L233.4 214.3 L233.8 214.0 L234.3 213.6 L234.9 213.3 L235.4 212.9 L235.8 212.7 L236.2 212.4 L236.6 212.2 L237.1 211.9 L237.6 211.7 L238.2 211.5 L239.0 211.2 L240.0 210.9 L241.2 210.7 L242.6 210.4 L244.1 210.1 L245.8 209.8 L247.5 209.5 L249.3 209.2 L251.0 209.0 L252.7 208.8 L254.3 208.6 L255.7 208.5 L257.0 208.4 L258.1 208.4 L259.2 208.4 L260.3 208.4 L261.3 208.5 L262.3 208.6 L263.4 208.7 L264.5 208.8 L265.6 208.9 L266.8 209.0 L268.0 209.1 L269.3 209.2 L270.6 209.3 L271.9 209.4 L273.2 209.6 L274.5 209.7 L275.8 209.9 L277.1 210.1 L278.4 210.3 L279.7 210.5 L280.9 210.7 L282.1 211.0 L283.2 211.2 L284.4 211.5 L285.6 211.8 L286.7 212.1 L287.8 212.4 L289.0 212.8 L290.1 213.1 L291.3 213.5 L292.4 213.9 L293.6 214.4 L294.8 214.8 L296.0 215.3 L297.2 215.8 L298.3 216.4 L299.5 216.9 L300.7 217.4 L301.9 217.9 L303.1 218.3 L304.2 218.8 L305.4 219.2 L306.5 219.7 L307.6 220.1 L308.6 220.5 L309.7 220.9 L310.8 221.3 L311.9 221.8 L313.0 222.2 L314.2 222.7 L315.3 223.1 L316.5 223.6 L317.7 224.2 L319.0 224.7 L320.2 225.3 L321.5 225.8 L322.8 226.3 L324.0 226.9 L325.3 227.3 L326.5 227.8 L327.7 228.2 L328.8 228.6 L329.9 229.0 L331.0 229.4 L332.0 229.7 L332.9 230.0 L333.8 230.3 L334.5 230.5 L335.2 230.8 L335.7 231.0 L336.2 231.2 L336.6 231.4 L336.9 231.6 L337.2 231.8 L337.6 232.0 L337.9 232.2 L338.4 232.4 L338.9 232.7 L339.5 233.0 L340.1 233.3Z" fill="#d99afd"/>
<path d="M336.0 222.0 L335.7 221.6 L335.5 221.3 L335.3 221.1 L335.1 220.8 L334.9 220.5 L334.6 220.2 L334.4 219.8 L334.0 219.3 L333.6 218.7 L333.0 218.0 L332.3 217.1 L331.6 216.2 L330.7 215.1 L329.8 214.0 L328.9 212.8 L327.9 211.5 L326.8 210.1 L325.8 208.8 L324.8 207.4 L323.8 206.0 L322.8 204.6 L321.8 203.1 L320.7 201.5 L319.6 199.9 L318.6 198.3 L317.5 196.7 L316.4 195.0 L315.4 193.3 L314.4 191.7 L313.5 190.0 L312.6 188.3 L311.7 186.6 L310.9 184.8 L310.0 183.1 L309.2 181.3 L308.4 179.6 L307.7 177.8 L307.0 176.2 L306.3 174.5 L305.7 173.0 L305.1 171.5 L304.7 170.2 L304.2 168.8 L303.8 167.6 L303.5 166.3 L303.1 165.1 L302.8 163.8 L302.5 162.6 L302.1 161.3 L301.8 160.0 L301.4 158.6 L301.1 157.3 L300.7 155.9 L300.4 154.6 L300.0 153.2 L299.7 151.8 L299.4 150.4 L299.1 148.9 L298.8 147.5 L298.6 146.0 L298.4 144.5 L298.2 142.8 L298.1 141.2 L297.9 139.5 L297.8 137.8 L297.7 136.1 L297.6 134.4 L297.6 132.8 L297.5 131.4 L297.4 130.0 L297.3 128.8 L297.3 127.8 L297.2 126.9 L297.1 126.0 L297.1 125.2 L297.1 124.4 L297.0 123.5 L297.0 122.5 L297.0 121.4 L297.0 120.0 L297.0 118.4 L297.0 116.6 L297.0 114.7 L297.0 112.7 L297.1 110.6 L297.1 108.5 L297.2 106.3 L297.2 104.2 L297.3 102.0 L297.4 100.0 L297.5 98.0 L297.6 95.9 L297.7 93.8 L297.9 91.7 L298.0 89.6 L298.2 87.5 L298.4 85.5 L298.6 83.6 L298.8 81.7 L299.0 80.0 L299.2 78.4 L299.5 76.9 L299.7 75.4 L300.0 74.1 L300.3 72.8 L300.6 71.5 L300.9 70.3 L301.2 69.2 L301.6 68.1 L302.0 67.0 L302.4 66.0 L302.9 65.0 L303.4 64.0 L303.9 63.2 L304.5 62.3 L305.0 61.5 L305.6 60.8 L306.1 60.1 L306.7 59.5 L307.3 59.0 L307.9 58.5 L308.5 58.1 L309.1 57.8 L309.7 57.5 L310.3 57.3 L310.9 57.1 L311.5 57.0 L312.2 56.9 L312.8 56.9 L313.5 56.9 L314.2 56.9 L314.9 57.0 L315.6 57.1 L316.4 57.2 L317.1 57.4 L317.9 57.6 L318.7 57.9 L319.4 58.3 L320.2 58.8 L321.0 59.3 L321.8 59.9 L322.6 60.6 L323.3 61.3 L324.1 62.1 L324.9 63.0 L325.7 63.9 L326.5 64.9 L327.3 66.0 L328.2 67.2 L329.0 68.5 L329.8 69.9 L330.7 71.4 L331.6 73.0 L332.5 74.7 L333.3 76.5 L334.2 78.3 L335.1 80.2 L336.0 82.1 L336.9 84.0 L337.8 86.0 L338.7 88.0 L339.6 90.2 L340.5 92.4 L341.5 94.7 L342.4 97.0 L343.3 99.3 L344.2 101.6 L345.1 103.8 L346.0 105.9 L346.8 108.0 L347.6 110.0 L348.4 111.9 L349.2 113.8 L349.9 115.7 L350.7 117.5 L351.4 119.3 L352.1 121.0 L352.7 122.7 L353.4 124.4 L354.0 126.0 L354.6 127.6 L355.1 129.1 L355.6 130.5 L356.1 131.9 L356.6 133.3 L357.0 134.7 L357.4 136.0 L357.9 137.3 L358.3 138.7 L358.7 140.0 L359.1 141.4 L359.5 142.8 L359.9 144.2 L360.3 145.6 L360.7 146.9 L361.1 148.3 L361.5 149.6 L361.8 150.8 L362.2 151.9 L362.5 153.0 L362.8 153.9 L363.1 154.6 L363.3 155.2 L363.5 155.7 L363.7 156.2 L363.9 156.7 L364.2 157.3 L364.5 158.0 L364.9 158.9 L365.3 160.0 L365.8 161.4 L366.4 162.9 L367.1 164.7 L367.8 166.5 L368.5 168.4 L369.3 170.4 L370.0 172.4 L370.7 174.4 L371.4 176.2 L372.0 178.0 L372.6 179.7 L373.2 181.4 L373.7 183.1 L374.3 184.7 L374.8 186.4 L375.3 188.0 L375.8 189.6 L376.2 191.1 L376.6 192.6 L377.0 194.0 L377.3 195.4 L377.6 196.7 L377.8 198.0 L378.0 199.3 L378.2 200.5 L378.4 201.7 L378.5 202.8 L378.6 203.9 L378.6 205.0 L378.7 206.0 L378.7 207.0 L378.7 207.9 L378.7 208.7 L378.6 209.5 L378.5 210.2 L378.5 211.0 L378.3 211.7 L378.2 212.5 L378.1 213.2 L378.0 214.0 L377.9 214.8 L377.8 215.6 L377.6 216.4 L377.5 217.2 L377.3 218.0 L377.1 218.8 L377.0 219.6 L376.8 220.4 L376.7 221.2 L376.5 222.0 L367.0 222.0 L366.8 221.2 L366.6 220.4 L366.4 219.5 L366.2 218.7 L366.0 217.9 L365.8 217.1 L365.6 216.3 L365.4 215.5 L365.2 214.7 L365.0 214.0 L364.8 213.3 L364.6 212.8 L364.4 212.2 L364.2 211.7 L363.9 211.2 L363.7 210.7 L363.5 210.2 L363.3 209.6 L363.2 208.8 L363.0 208.0 L362.9 207.1 L362.7 206.0 L362.6 204.9 L362.5 203.7 L362.4 202.5 L362.4 201.2 L362.3 199.9 L362.2 198.6 L362.1 197.3 L362.0 196.0 L361.9 194.7 L361.8 193.4 L361.8 192.0 L361.7 190.6 L361.6 189.2 L361.5 187.8 L361.4 186.4 L361.3 185.0 L361.2 183.5 L361.0 182.0 L360.8 180.5 L360.5 178.9 L360.2 177.3 L359.9 175.7 L359.6 174.1 L359.3 172.5 L359.0 170.9 L358.6 169.2 L358.3 167.6 L358.0 166.0 L357.7 164.4 L357.4 162.8 L357.1 161.2 L356.9 159.6 L356.6 158.1 L356.3 156.5 L356.0 154.9 L355.7 153.3 L355.4 151.6 L355.0 150.0 L354.6 148.3 L354.2 146.5 L353.7 144.7 L353.3 142.8 L352.8 140.9 L352.3 139.1 L351.9 137.4 L351.4 135.8 L351.0 134.3 L350.6 133.0 L350.3 131.9 L350.0 131.1 L349.7 130.5 L349.5 130.0 L349.3 129.6 L349.0 129.1 L348.8 128.6 L348.4 127.9 L348.1 127.1 L347.6 126.0 L347.1 124.7 L346.5 123.1 L345.8 121.5 L345.1 119.7 L344.4 117.8 L343.6 115.9 L342.8 113.9 L342.1 111.9 L341.3 110.0 L340.5 108.0 L339.7 106.0 L338.9 104.0 L338.1 101.9 L337.2 99.7 L336.4 97.5 L335.5 95.4 L334.7 93.3 L333.8 91.3 L333.0 89.3 L332.2 87.5 L331.4 85.8 L330.6 84.1 L329.8 82.5 L329.0 80.9 L328.2 79.4 L327.5 78.0 L326.7 76.6 L325.9 75.3 L325.2 74.0 L324.5 72.8 L323.8 71.7 L323.1 70.6 L322.4 69.6 L321.7 68.6 L321.1 67.7 L320.4 66.9 L319.8 66.2 L319.2 65.5 L318.6 64.9 L318.1 64.3 L317.6 63.8 L317.1 63.5 L316.6 63.1 L316.2 62.9 L315.8 62.7 L315.4 62.6 L315.0 62.5 L314.6 62.5 L314.2 62.5 L313.8 62.5 L313.4 62.5 L313.1 62.6 L312.7 62.7 L312.4 62.8 L312.0 63.0 L311.7 63.2 L311.4 63.5 L311.0 63.8 L310.7 64.1 L310.4 64.5 L310.1 64.9 L309.8 65.3 L309.4 65.8 L309.1 66.3 L308.8 66.8 L308.5 67.4 L308.2 68.0 L307.9 68.7 L307.6 69.5 L307.3 70.3 L307.0 71.2 L306.7 72.2 L306.4 73.2 L306.1 74.3 L305.8 75.4 L305.5 76.6 L305.2 77.8 L305.0 79.2 L304.7 80.5 L304.5 82.0 L304.3 83.5 L304.1 85.2 L303.9 86.9 L303.7 88.7 L303.5 90.5 L303.3 92.4 L303.2 94.3 L303.0 96.2 L302.9 98.1 L302.8 100.0 L302.7 102.0 L302.7 104.0 L302.6 106.2 L302.6 108.3 L302.6 110.5 L302.7 112.6 L302.7 114.7 L302.7 116.6 L302.8 118.4 L302.8 120.0 L302.8 121.4 L302.9 122.5 L302.9 123.4 L303.0 124.2 L303.1 125.0 L303.1 125.8 L303.2 126.6 L303.3 127.5 L303.5 128.6 L303.6 130.0 L303.7 131.6 L303.9 133.4 L304.0 135.3 L304.1 137.3 L304.3 139.4 L304.5 141.5 L304.7 143.7 L305.0 145.8 L305.3 148.0 L305.7 150.0 L306.1 152.0 L306.7 154.0 L307.2 156.1 L307.8 158.1 L308.4 160.1 L309.1 162.1 L309.8 164.1 L310.5 166.1 L311.3 168.1 L312.0 170.0 L312.8 171.9 L313.5 173.8 L314.4 175.6 L315.2 177.5 L316.0 179.3 L316.9 181.1 L317.8 182.9 L318.7 184.6 L319.6 186.3 L320.5 188.0 L321.4 189.6 L322.4 191.3 L323.3 192.8 L324.3 194.4 L325.3 195.9 L326.3 197.4 L327.3 198.9 L328.2 200.3 L329.2 201.7 L330.2 203.0 L331.2 204.3 L332.2 205.5 L333.3 206.8 L334.3 207.9 L335.3 209.1 L336.4 210.2 L337.3 211.2 L338.2 212.2 L339.1 213.1 L339.8 214.0 L340.4 214.8 L341.0 215.5 L341.5 216.2 L341.9 216.8 L342.2 217.3 L342.6 217.8 L342.9 218.4 L343.2 218.9 L343.6 219.4 L344.0 220.0Z" fill="#c176fc"/>
<path d="M336.7 221.5 L336.4 221.1 L336.2 220.8 L336.0 220.5 L335.8 220.2 L335.6 220.0 L335.4 219.6 L335.1 219.2 L334.7 218.8 L334.3 218.2 L333.7 217.5 L333.0 216.6 L332.3 215.6 L331.4 214.6 L330.5 213.4 L329.6 212.2 L328.6 210.9 L327.6 209.6 L326.5 208.2 L325.5 206.9 L324.5 205.5 L323.5 204.1 L322.5 202.6 L321.5 201.0 L320.4 199.4 L319.3 197.8 L318.3 196.2 L317.2 194.5 L316.2 192.9 L315.2 191.2 L314.3 189.6 L313.4 187.9 L312.5 186.2 L311.7 184.5 L310.8 182.7 L310.0 180.9 L309.2 179.2 L308.5 177.5 L307.8 175.8 L307.1 174.2 L306.5 172.7 L306.0 171.2 L305.5 169.9 L305.1 168.6 L304.7 167.3 L304.3 166.1 L304.0 164.8 L303.7 163.6 L303.3 162.4 L303.0 161.1 L302.7 159.8 L302.3 158.4 L302.0 157.1 L301.6 155.7 L301.2 154.3 L300.9 153.0 L300.6 151.6 L300.3 150.2 L300.0 148.8 L299.7 147.3 L299.5 145.9 L299.3 144.3 L299.1 142.7 L299.0 141.1 L298.8 139.4 L298.7 137.7 L298.6 136.0 L298.5 134.4 L298.5 132.8 L298.4 131.3 L298.3 129.9 L298.2 128.7 L298.2 127.7 L298.1 126.8 L298.0 126.0 L298.0 125.2 L298.0 124.4 L297.9 123.5 L297.9 122.5 L297.9 121.4 L297.9 120.0 L297.9 118.4 L297.9 116.6 L297.9 114.7 L297.9 112.7 L298.0 110.6 L298.0 108.5 L298.1 106.3 L298.1 104.2 L298.2 102.1 L298.3 100.0 L298.4 98.0 L298.5 95.9 L298.6 93.8 L298.8 91.7 L298.9 89.6 L299.1 87.6 L299.3 85.6 L299.5 83.6 L299.7 81.8 L299.9 80.1 L300.1 78.5 L300.4 77.0 L300.6 75.6 L300.9 74.2 L301.1 72.9 L301.4 71.7 L301.8 70.6 L302.1 69.4 L302.4 68.4 L302.8 67.3 L303.3 66.3 L303.7 65.4 L304.2 64.5 L304.7 63.6 L305.2 62.8 L305.7 62.1 L306.3 61.4 L306.8 60.7 L307.4 60.2 L307.9 59.7 L308.4 59.3 L308.9 58.9 L309.5 58.6 L310.0 58.4 L310.5 58.2 L311.1 58.0 L311.7 57.9 L312.2 57.8 L312.8 57.8 L313.5 57.8 L314.1 57.8 L314.8 57.9 L315.5 58.0 L316.2 58.1 L316.9 58.3 L317.6 58.5 L318.3 58.8 L319.0 59.1 L319.7 59.5 L320.5 60.0 L321.2 60.6 L322.0 61.2 L322.7 61.9 L323.5 62.7 L324.2 63.6 L325.0 64.5 L325.8 65.5 L326.6 66.5 L327.4 67.7 L328.2 69.0 L329.1 70.4 L329.9 71.8 L330.8 73.4 L331.7 75.1 L332.5 76.8 L333.4 78.7 L334.3 80.5 L335.2 82.5 L336.1 84.4 L337.0 86.4 L337.9 88.4 L338.8 90.5 L339.7 92.7 L340.6 95.0 L341.6 97.3 L342.5 99.6 L343.4 101.9 L344.3 104.1 L345.1 106.3 L346.0 108.3 L346.8 110.3 L347.6 112.3 L348.3 114.2 L349.1 116.0 L349.8 117.8 L350.6 119.6 L351.2 121.4 L351.9 123.0 L352.5 124.7 L353.2 126.3 L353.7 127.9 L354.3 129.4 L354.8 130.8 L355.3 132.2 L355.7 133.6 L356.1 134.9 L356.6 136.3 L357.0 137.6 L357.4 138.9 L357.8 140.3 L358.3 141.6 L358.7 143.0 L359.1 144.4 L359.5 145.8 L359.9 147.2 L360.2 148.5 L360.6 149.8 L361.0 151.1 L361.3 152.2 L361.6 153.3 L362.0 154.2 L362.2 154.9 L362.5 155.5 L362.7 156.1 L362.9 156.6 L363.1 157.1 L363.4 157.6 L363.7 158.3 L364.0 159.2 L364.5 160.3 L365.0 161.7 L365.6 163.2 L366.2 165.0 L366.9 166.8 L367.7 168.8 L368.4 170.7 L369.1 172.7 L369.9 174.7 L370.5 176.5 L371.1 178.3 L371.7 180.0 L372.3 181.7 L372.9 183.4 L373.4 185.0 L374.0 186.6 L374.5 188.2 L374.9 189.8 L375.4 191.3 L375.8 192.8 L376.1 194.2 L376.4 195.6 L376.7 196.9 L376.9 198.2 L377.1 199.4 L377.3 200.6 L377.5 201.8 L377.6 202.9 L377.7 204.0 L377.7 205.0 L377.8 206.0 L377.8 207.0 L377.8 207.8 L377.8 208.6 L377.7 209.4 L377.7 210.1 L377.6 210.9 L377.5 211.6 L377.3 212.3 L377.2 213.1 L377.1 213.9 L377.0 214.7 L376.9 215.4 L376.7 216.2 L376.6 217.0 L376.4 217.8 L376.3 218.6 L376.1 219.4 L375.9 220.2 L375.8 221.0 L375.6 221.8 L367.9 221.8 L367.7 221.0 L367.5 220.2 L367.3 219.3 L367.1 218.5 L366.9 217.7 L366.7 216.8 L366.5 216.0 L366.3 215.2 L366.1 214.5 L365.9 213.7 L365.6 213.1 L365.4 212.4 L365.2 211.9 L365.0 211.4 L364.8 210.9 L364.6 210.4 L364.4 209.9 L364.2 209.3 L364.0 208.6 L363.9 207.9 L363.8 206.9 L363.6 205.9 L363.5 204.8 L363.4 203.7 L363.3 202.4 L363.3 201.2 L363.2 199.9 L363.1 198.6 L363.0 197.2 L362.9 195.9 L362.8 194.6 L362.7 193.3 L362.7 192.0 L362.6 190.6 L362.5 189.2 L362.4 187.8 L362.3 186.3 L362.2 184.9 L362.1 183.4 L361.9 181.9 L361.7 180.3 L361.4 178.8 L361.1 177.2 L360.8 175.6 L360.5 173.9 L360.2 172.3 L359.8 170.7 L359.5 169.1 L359.2 167.4 L358.9 165.8 L358.6 164.2 L358.3 162.7 L358.0 161.1 L357.8 159.5 L357.5 157.9 L357.2 156.3 L356.9 154.7 L356.6 153.1 L356.2 151.5 L355.9 149.8 L355.5 148.1 L355.1 146.3 L354.6 144.4 L354.1 142.6 L353.7 140.7 L353.2 138.9 L352.7 137.2 L352.3 135.5 L351.9 134.0 L351.5 132.7 L351.1 131.7 L350.8 130.8 L350.6 130.2 L350.3 129.6 L350.1 129.1 L349.8 128.7 L349.6 128.2 L349.3 127.6 L348.9 126.7 L348.4 125.7 L347.9 124.3 L347.3 122.8 L346.6 121.2 L346.0 119.4 L345.2 117.5 L344.5 115.6 L343.7 113.6 L342.9 111.6 L342.1 109.6 L341.3 107.7 L340.6 105.7 L339.7 103.6 L338.9 101.5 L338.1 99.4 L337.2 97.2 L336.4 95.1 L335.5 93.0 L334.7 90.9 L333.8 89.0 L333.0 87.1 L332.2 85.4 L331.4 83.7 L330.6 82.1 L329.8 80.5 L329.0 79.0 L328.2 77.5 L327.5 76.1 L326.7 74.8 L326.0 73.5 L325.3 72.3 L324.6 71.2 L323.9 70.1 L323.2 69.1 L322.5 68.1 L321.8 67.2 L321.1 66.4 L320.5 65.6 L319.9 64.9 L319.3 64.2 L318.7 63.6 L318.2 63.1 L317.6 62.7 L317.1 62.4 L316.6 62.1 L316.1 61.9 L315.6 61.7 L315.1 61.7 L314.6 61.6 L314.2 61.6 L313.8 61.6 L313.3 61.6 L312.8 61.7 L312.4 61.9 L312.0 62.0 L311.6 62.3 L311.2 62.5 L310.8 62.8 L310.4 63.2 L310.1 63.5 L309.7 63.9 L309.4 64.3 L309.0 64.8 L308.7 65.3 L308.4 65.8 L308.0 66.4 L307.7 67.0 L307.4 67.6 L307.1 68.4 L306.8 69.1 L306.4 70.0 L306.1 70.9 L305.8 71.9 L305.5 72.9 L305.2 74.0 L304.9 75.2 L304.6 76.4 L304.4 77.7 L304.1 79.0 L303.8 80.4 L303.6 81.9 L303.4 83.4 L303.2 85.1 L303.0 86.8 L302.8 88.6 L302.6 90.4 L302.4 92.3 L302.3 94.2 L302.1 96.1 L302.0 98.0 L301.9 100.0 L301.8 101.9 L301.8 104.0 L301.7 106.2 L301.7 108.3 L301.7 110.5 L301.8 112.6 L301.8 114.7 L301.8 116.6 L301.9 118.4 L301.9 120.0 L301.9 121.4 L302.0 122.5 L302.0 123.5 L302.1 124.3 L302.2 125.1 L302.3 125.9 L302.3 126.7 L302.4 127.6 L302.6 128.7 L302.7 130.1 L302.8 131.7 L303.0 133.4 L303.1 135.3 L303.2 137.3 L303.4 139.4 L303.6 141.6 L303.8 143.8 L304.1 146.0 L304.4 148.1 L304.8 150.2 L305.3 152.2 L305.8 154.3 L306.3 156.3 L307.0 158.4 L307.6 160.4 L308.3 162.4 L309.0 164.4 L309.7 166.4 L310.4 168.4 L311.2 170.3 L311.9 172.2 L312.7 174.1 L313.5 176.0 L314.4 177.9 L315.2 179.7 L316.1 181.5 L317.0 183.3 L317.9 185.0 L318.8 186.8 L319.7 188.4 L320.6 190.1 L321.6 191.7 L322.6 193.3 L323.5 194.9 L324.5 196.4 L325.5 197.9 L326.5 199.4 L327.5 200.8 L328.5 202.2 L329.5 203.5 L330.5 204.8 L331.5 206.1 L332.6 207.3 L333.6 208.5 L334.7 209.7 L335.7 210.8 L336.7 211.8 L337.6 212.8 L338.4 213.7 L339.1 214.6 L339.7 215.4 L340.3 216.1 L340.7 216.7 L341.1 217.3 L341.5 217.8 L341.8 218.3 L342.2 218.8 L342.5 219.4 L342.9 219.9 L343.3 220.5Z" fill="#d99afd"/>
<path d="M376.0 322.0 L376.7 322.9 L377.4 323.7 L378.1 324.6 L378.8 325.4 L379.5 326.3 L380.3 327.1 L381.1 328.1 L382.0 329.0 L383.0 330.0 L384.0 331.0 L385.2 332.1 L386.3 333.2 L387.5 334.3 L388.7 335.4 L389.9 336.5 L391.0 337.5 L392.1 338.5 L393.2 339.4 L394.3 340.4 L395.4 341.3 L396.6 342.2 L397.7 343.1 L398.8 344.1 L400.0 345.0 L401.2 346.0 L402.4 346.9 L403.7 347.9 L404.9 348.9 L406.2 349.9 L407.5 350.9 L408.7 351.8 L410.0 352.7 L411.3 353.6 L412.5 354.4 L413.8 355.2 L415.0 355.9 L416.3 356.7 L417.5 357.5 L418.8 358.2 L420.0 359.0 L421.2 359.8 L422.2 360.6 L423.2 361.3 L424.3 362.1 L425.4 362.9 L426.6 363.7 L428.1 364.5 L429.7 365.3 L431.7 366.1 L434.0 366.9 L436.4 367.7 L439.0 368.6 L441.7 369.4 L444.3 370.2 L446.9 371.0 L449.3 371.7 L451.6 372.3 L453.9 372.9 L456.2 373.5 L458.4 374.1 L460.6 374.6 L462.8 375.1 L464.9 375.5 L467.1 376.0 L469.2 376.4 L471.2 376.8 L473.3 377.1 L475.3 377.5 L477.3 377.8 L479.3 378.1 L481.2 378.3 L483.2 378.6 L485.1 378.8 L487.0 379.1 L488.8 379.3 L490.7 379.4 L492.5 379.6 L494.3 379.8 L496.1 379.9 L497.8 380.0 L499.6 380.1 L501.3 380.2 L503.0 380.3 L504.7 380.3 L506.4 380.4 L508.0 380.4 L509.6 380.4 L511.3 380.5 L512.9 380.5 L514.4 380.4 L516.0 380.4 L517.6 380.4 L519.1 380.3 L520.6 380.3 L522.1 380.2 L523.6 380.1 L525.1 380.0 L526.6 379.9 L528.1 379.8 L529.5 379.7 L531.0 379.5 L532.4 379.4 L533.8 379.2 L535.2 379.0 L536.6 378.8 L538.0 378.6 L539.4 378.4 L540.7 378.2 L542.1 377.9 L543.4 377.7 L544.7 377.4 L546.1 377.1 L547.4 376.8 L548.7 376.5 L550.0 376.2 L551.2 375.8 L552.5 375.5 L553.8 375.1 L555.0 374.7 L556.3 374.3 L557.5 373.9 L558.7 373.4 L559.9 373.0 L561.1 372.5 L562.3 372.0 L563.5 371.5 L564.6 371.0 L565.8 370.5 L566.9 369.9 L568.0 369.4 L569.1 368.8 L570.2 368.2 L571.3 367.6 L572.4 367.0 L573.4 366.3 L574.4 365.7 L575.5 365.0 L576.5 364.4 L577.5 363.7 L578.4 363.0 L579.4 362.2 L580.4 361.5 L581.3 360.8 L582.2 360.0 L583.1 359.3 L584.0 358.5 L584.9 357.7 L585.8 356.9 L586.6 356.1 L587.4 355.3 L588.2 354.5 L589.0 353.6 L589.8 352.8 L590.6 352.0 L591.3 351.1 L592.1 350.2 L592.8 349.4 L593.5 348.5 L594.2 347.6 L594.8 346.7 L595.5 345.8 L596.1 344.9 L596.8 344.0 L597.4 343.1 L598.0 342.1 L598.5 341.2 L599.1 340.3 L599.6 339.3 L600.1 338.4 L600.7 337.5 L601.1 336.5 L601.6 335.6 L602.1 334.6 L602.5 333.6 L603.0 332.7 L603.4 331.7 L603.8 330.7 L604.2 329.8 L604.5 328.8 L604.9 327.8 L605.2 326.9 L605.5 325.9 L605.8 324.9 L606.1 324.0 L606.4 323.0 L606.7 322.0 L606.9 321.0 L607.1 320.1 L607.4 319.1 L607.6 318.1 L607.8 317.2 L608.0 316.2 L608.1 315.2 L608.3 314.3 L608.4 313.3 L608.5 312.3 L608.7 311.4 L608.8 310.4 L608.9 309.5 L608.9 308.5 L609.0 307.6 L609.1 306.6 L609.1 305.7 L609.1 304.7 L609.2 303.8 L609.2 302.9 L609.2 301.9 L609.2 301.0 L609.2 300.1 L609.1 299.2 L609.1 298.2 L609.1 297.3 L609.0 296.4 L608.9 295.5 L608.9 294.6 L608.8 293.7 L608.7 292.8 L608.6 291.9 L608.5 291.0 L608.4 290.1 L608.2 289.2 L608.1 288.3 L608.0 287.5 L607.8 286.6 L607.7 285.7 L607.5 284.8 L607.3 284.0 L607.2 283.1 L607.0 282.2 L606.8 281.4 L606.6 280.5 L606.4 279.7 L606.2 278.8 L605.9 277.9 L605.7 277.1 L605.5 276.2 L605.3 275.4 L605.0 274.6 L604.8 273.7 L604.5 272.9 L604.2 272.0 L603.9 271.2 L603.7 270.4 L603.4 269.5 L603.1 268.7 L602.7 267.9 L602.4 267.0 L602.1 266.2 L601.7 265.4 L601.4 264.6 L601.0 263.7 L600.6 262.9 L600.3 262.1 L599.9 261.3 L599.5 260.5 L599.1 259.7 L598.6 258.9 L598.2 258.1 L597.7 257.3 L597.3 256.6 L596.8 255.8 L596.3 255.0 L595.8 254.3 L595.3 253.5 L594.8 252.7 L594.3 252.0 L593.7 251.3 L593.2 250.5 L592.6 249.8 L592.0 249.1 L591.4 248.4 L590.8 247.7 L590.2 247.0 L589.6 246.3 L589.0 245.6 L588.3 244.9 L587.7 244.3 L587.0 243.6 L586.3 243.0 L585.6 242.4 L584.9 241.8 L584.2 241.2 L583.4 240.6 L582.7 240.0 L581.9 239.4 L581.2 238.9 L580.4 238.3 L579.6 237.8 L578.8 237.3 L578.0 236.8 L577.2 236.4 L576.3 235.9 L575.5 235.4 L574.7 235.0 L573.8 234.6 L572.9 234.2 L572.1 233.8 L571.2 233.5 L570.3 233.1 L569.4 232.8 L568.5 232.5 L567.6 232.2 L566.7 231.9 L565.8 231.6 L564.9 231.4 L563.9 231.1 L563.0 230.9 L562.1 230.7 L561.1 230.6 L560.2 230.4 L559.3 230.2 L558.3 230.1 L557.4 230.0 L556.4 229.9 L555.5 229.8 L554.5 229.8 L553.6 229.7 L552.6 229.7 L551.7 229.7 L550.7 229.7 L549.8 229.7 L548.8 229.8 L547.9 229.8 L546.9 229.9 L546.0 230.0 L545.0 230.1 L544.1 230.2 L543.1 230.3 L542.2 230.5 L541.3 230.6 L540.3 230.8 L539.4 231.0 L538.5 231.2 L537.6 231.5 L536.7 231.7 L535.8 232.0 L534.9 232.2 L534.0 232.5 L533.1 232.8 L532.2 233.1 L531.3 233.5 L530.4 233.8 L529.5 234.1 L528.7 234.5 L527.8 234.9 L527.0 235.3 L526.1 235.7 L525.3 236.1 L524.5 236.5 L523.6 237.0 L522.8 237.4 L522.0 237.9 L521.2 238.4 L520.4 238.9 L519.6 239.4 L518.9 239.9 L518.1 240.4 L517.3 240.9 L516.6 241.5 L515.9 242.0 L515.1 242.6 L514.4 243.2 L513.7 243.8 L513.0 244.4 L512.3 245.0 L511.6 245.6 L510.9 246.2 L510.2 246.8 L509.6 247.5 L508.9 248.1 L508.3 248.8 L507.7 249.4 L507.0 250.1 L506.4 250.8 L505.8 251.5 L505.2 252.2 L504.6 252.9 L504.0 253.6 L503.5 254.3 L502.9 255.0 L502.4 255.7 L501.8 256.5 L501.3 257.2 L500.8 258.0 L500.3 258.7 L499.8 259.5 L499.3 260.3 L498.8 261.0 L498.3 261.8 L497.8 262.6 L497.4 263.4 L496.9 264.2 L496.5 265.0 L496.1 265.8 L495.7 266.6 L495.3 267.5 L494.9 268.3 L494.5 269.1 L494.1 269.9 L493.7 270.8 L493.4 271.6 L493.0 272.5 L492.7 273.4 L492.4 274.2 L492.1 275.1 L491.8 276.0 L491.5 276.8 L491.2 277.7 L490.9 278.6 L490.7 279.5 L490.4 280.4 L490.2 281.3 L490.0 282.2 L489.8 283.1 L489.6 284.0 L489.4 284.9 L489.2 285.9 L489.1 286.8 L489.0 287.7 L488.8 288.6 L488.7 289.6 L488.6 290.5 L488.5 291.4 L488.5 292.4 L488.4 293.3 L488.4 294.3 L488.4 295.2 L488.4 296.1 L488.4 297.1 L488.4 298.0 L488.4 299.0 L488.5 299.9 L488.6 300.9 L488.6 301.8 L488.7 302.8 L488.9 303.7 L489.0 304.7 L489.1 305.6 L489.3 306.5 L489.5 307.5 L489.7 308.4 L489.9 309.3 L490.1 310.3 L490.4 311.2 L490.6 312.1 L490.9 313.0 L491.2 313.9 L491.5 314.9 L491.9 315.7 L492.2 316.6 L492.6 317.5 L493.0 318.4 L493.3 319.3 L493.8 320.2 L494.2 321.0 L494.6 321.9 L495.1 322.7 L495.6 323.5 L496.1 324.4 L496.6 325.2 L497.1 326.0 L497.6 326.8 L498.2 327.6 L498.8 328.3 L499.3 329.1 L499.9 329.8 L500.6 330.6 L501.2 331.3 L501.8 332.0 L502.5 332.7 L503.2 333.4 L503.8 334.1 L504.5 334.7 L505.3 335.4 L506.0 336.0 L506.7 336.6 L507.5 337.2 L508.2 337.7 L509.0 338.3 L509.8 338.8 L510.6 339.4 L511.4 339.9 L512.2 340.3 L513.0 340.8 L513.9 341.3 L514.7 341.7 L515.5 342.1 L516.4 342.5 L517.3 342.8 L518.1 343.2 L519.0 343.5 L519.9 343.8 L520.8 344.1 L521.7 344.4 L522.6 344.6 L523.5 344.8 L524.4 345.0 L525.3 345.2 L526.2 345.4 L527.1 345.5 L528.0 345.7 L528.9 345.8 L529.8 345.8 L530.7 345.9 L531.7 346.0 L532.6 346.0 L533.5 346.0 L534.4 346.0 L535.3 346.0 L536.2 345.9 L537.0 345.8 L537.9 345.8 L538.8 345.7 L539.7 345.6 L540.6 345.4 L541.4 345.3 L542.3 345.1 L543.1 344.9 L544.0 344.7 L544.8 344.5 L545.6 344.3 L546.4 344.1 L547.3 343.8 L548.1 343.6 L548.9 343.3 L549.6 343.0 L550.4 342.7 L551.2 342.4 L551.9 342.1 L552.7 341.7 L553.4 341.4 L554.2 341.0 L554.9 340.7 L555.6 340.3 L556.3 339.9 L557.0 339.5 L557.7 339.1 L558.3 338.7 L559.0 338.3 L559.6 337.9 L560.3 337.5 L560.9 337.0 L561.5 336.6 L562.1 336.1 L562.7 335.7 L563.3 335.2 L563.9 334.8 L564.4 334.3 L565.0 333.8 L565.5 333.4 L566.1 332.9 L566.6 332.4 L567.1 331.9 L567.6 331.4 L568.1 330.9 L568.6 330.4 L569.1 329.9 L569.6 329.4 L570.0 328.9 L570.5 328.4 L570.9 327.9 L571.3 327.4 L571.7 326.8 L572.1 326.3 L572.5 325.8 L572.9 325.2 L573.3 324.7 L573.7 324.2 L574.0 323.6 L574.4 323.1 L574.7 322.6 L575.1 322.0 L575.4 321.5 L575.7 320.9 L576.0 320.4 L576.3 319.9 L576.6 319.3 L576.9 318.8 L577.1 318.2 L577.4 317.7 L577.6 317.1 L577.9 316.6 L578.1 316.0 L578.3 315.5 L578.6 314.9 L578.8 314.4 L579.0 313.8 L579.1 313.3 L579.3 312.7 L579.5 312.2 L579.7 311.7 L579.8 311.1 L580.0 310.6 L580.1 310.0 L580.2 309.5 L580.4 308.9 L580.5 308.4 L580.6 307.9 L580.7 307.3 L580.8 306.8 L580.9 306.2 L580.9 305.7 L581.0 305.2 L581.1 304.6 L581.1 304.1 L581.2 303.6 L581.2 303.1 L581.2 302.5 L581.3 302.0 L581.3 301.5 L581.3 301.0 L581.3 300.5 L581.3 300.0 L581.3 299.5 L581.3 298.9 L581.3 298.4 L581.2 297.9 L581.2 297.4 L581.2 296.9 L581.1 296.5 L581.0 296.0 L581.0 295.5 L580.9 295.0 L580.8 294.5 L580.8 294.0 L580.7 293.6 L580.6 293.1 L580.5 292.6 L580.4 292.1 L580.3 291.7 L580.2 291.2 L580.0 290.8 L579.9 290.3 L579.8 289.9 L579.6 289.4 L579.5 289.0 L579.3 288.5 L579.2 288.1 L579.0 287.7 L578.9 287.2 L578.7 286.8 L578.5 286.4 L578.3 286.0 L578.2 285.6 L578.0 285.2 L577.8 284.8 L577.6 284.4 L577.4 284.0 L577.2 283.6 L577.0 283.2 L576.7 282.8 L576.5 282.4 L576.3 282.0 L576.1 281.7 L575.8 281.3 L575.6 280.9 L575.4 280.6 L575.1 280.2 L574.9 279.9 L574.6 279.5 L574.4 279.2 L574.1 278.9 L573.8 278.5 L573.6 278.2 L573.3 277.9 L573.0 277.6 L572.7 277.2 L572.5 276.9 L572.2 276.6 L571.9 276.3 L571.6 276.0 L571.3 275.7 L571.0 275.5 L570.7 275.2 L570.4 274.9 L570.1 274.6 L569.8 274.4 L569.5 274.1 L569.2 273.8 L568.8 273.6 L568.5 273.3 L568.2 273.1 L567.9 272.8 L567.6 272.6 L567.2 272.4 L566.9 272.2 L566.6 271.9 L566.2 271.7 L565.9 271.5 L565.5 271.3 L565.2 271.1 L564.9 270.9 L564.5 270.7 L564.2 270.5 L563.8 270.3 L563.5 270.2 L563.1 270.0 L562.7 269.8 L562.4 269.7 L562.0 269.5 L561.7 269.4 L561.3 269.2 L560.9 269.1 L560.6 268.9 L560.2 268.8 L559.9 268.7 L559.5 268.6 L559.1 268.4 L558.7 268.3 L558.4 268.2 L558.0 268.1 L557.6 268.0 L557.3 267.9 L556.9 267.9 L556.5 267.8 L556.1 267.7 L555.7 267.6 L555.4 267.6 L555.0 267.5 L554.6 267.5 L554.2 267.4 L553.9 267.4 L553.5 267.3 L553.1 267.3 L552.7 267.3 L552.3 267.2 L552.0 267.2 L551.6 267.2 L551.2 267.2 L550.8 267.2 L550.4 267.2 L550.1 267.2 L549.7 267.2 L549.3 267.3 L548.9 267.3 L548.6 267.3 L548.2 267.3 L547.8 267.4 L547.4 267.4 L547.1 267.5 L546.7 267.5 L546.3 267.6 L545.9 267.7 L545.6 267.7 L545.2 267.8 L544.8 267.9 L544.5 268.0 L544.1 268.1 L543.7 268.2 L543.4 268.3 L543.0 268.4 L542.7 268.5 L542.3 268.6 L541.9 268.7 L541.6 268.9 L541.2 269.0 L540.9 269.1 L540.5 269.3 L540.2 269.4 L539.8 269.6 L539.5 269.7 L539.2 269.9 L538.8 270.0 L538.5 270.2 L538.2 270.4 L537.8 270.6 L537.5 270.8 L537.2 271.0 L536.9 271.2 L536.5 271.4 L536.2 271.6 L535.9 271.8 L535.6 272.0 L535.3 272.2 L535.0 272.4 L534.7 272.6 L534.4 272.9 L534.1 273.1 L533.8 273.4 L533.5 273.6 L533.2 273.9 L533.0 274.1 L532.7 274.4 L532.4 274.6 L532.1 274.9 L531.9 275.2 L531.6 275.4 L531.4 275.7 L531.1 276.0 L530.9 276.3 L530.6 276.6 L530.4 276.9 L530.1 277.2 L529.9 277.5 L529.7 277.8 L529.5 278.1 L529.2 278.4 L529.0 278.7 L528.8 279.0 L528.6 279.3 L528.4 279.7 L528.2 280.0 L528.0 280.3 L527.9 280.6 L527.7 281.0 L527.5 281.3 L527.3 281.7 L527.2 282.0 L527.0 282.3 L526.9 282.7 L526.7 283.0 L526.6 283.4 L526.4 283.8 L526.3 284.1 L526.2 284.5 L526.0 284.8 L525.9 285.2 L525.8 285.6 L525.7 285.9 L525.6 286.3 L525.5 286.7 L525.4 287.0 L525.4 287.4 L525.3 287.8 L525.2 288.2 L525.2 288.6 L525.1 288.9 L525.0 289.3 L525.0 289.7 L525.0 290.1 L524.9 290.5 L524.9 290.8 L524.9 291.2 L524.9 291.6 L524.8 292.0 L524.8 292.4 L524.8 292.8 L524.9 293.1 L524.9 293.5 L524.9 293.9 L524.9 294.3 L525.0 294.7 L525.0 295.1 L525.0 295.4 L525.1 295.8 L525.1 296.2 L525.2 296.6 L525.3 297.0 L525.4 297.3 L525.4 297.7 L525.5 298.1 L525.6 298.5 L525.7 298.8 L525.8 299.2 L525.9 299.6 L526.0 299.9 L526.2 300.3 L526.3 300.7 L526.4 301.0 L526.6 301.4 L526.7 301.7 L526.9 302.1 L527.0 302.5 L527.2 302.8 L527.4 303.2 L527.6 303.5 L527.8 303.9 L527.9 304.2 L528.1 304.6 L528.3 304.9 L528.5 305.2 L528.7 305.5 L528.9 305.7 L529.0 306.0 L529.2 306.2 L529.4 306.4 L529.5 306.6 L529.7 306.8 L529.8 307.0 L530.0 307.2 L530.2 307.8 L530.4 308.3 L530.6 308.9 L530.8 309.4 L531.0 310.0 L531.3 310.4 L531.6 310.8 L532.0 311.2 L532.4 311.5 L532.8 311.8 L533.2 312.0 L533.6 312.2 L534.0 312.3 L534.5 312.3 L535.0 312.3 L535.4 312.2 L535.8 312.1 L536.2 311.9 L536.5 311.6 L536.8 311.2 L537.1 310.8 L537.3 310.4 L537.5 309.9 L537.6 309.5 L537.6 309.1 L537.6 308.8 L537.5 308.4 L537.4 308.1 L537.3 307.8 L537.3 307.4 L537.2 307.1 L537.1 306.9 L536.9 306.6 L536.8 306.3 L536.7 306.1 L536.6 305.8 L536.5 305.5 L536.4 305.2 L536.3 304.9 L536.2 304.6 L536.2 304.3 L536.1 304.0 L536.0 303.7 L535.9 303.4 L535.8 303.1 L535.8 302.8 L535.7 302.5 L535.7 302.2 L535.6 301.9 L535.6 301.6 L535.5 301.3 L535.5 301.1 L535.5 300.8 L535.4 300.5 L535.4 300.2 L535.4 299.9 L535.4 299.7 L535.3 299.4 L535.3 299.1 L535.3 298.8 L535.3 298.6 L535.3 298.3 L535.3 298.0 L535.3 297.8 L535.3 297.5 L535.4 297.2 L535.4 297.0 L535.4 296.7 L535.4 296.5 L535.4 296.2 L535.5 296.0 L535.5 295.7 L535.5 295.5 L535.6 295.3 L535.6 295.0 L535.7 294.8 L535.7 294.5 L535.8 294.3 L535.8 294.1 L535.9 293.9 L535.9 293.6 L536.0 293.4 L536.0 293.2 L536.1 293.0 L536.2 292.7 L536.2 292.5 L536.3 292.3 L536.4 292.1 L536.4 291.9 L536.5 291.7 L536.6 291.5 L536.7 291.3 L536.7 291.1 L536.8 290.9 L536.9 290.7 L537.0 290.5 L537.1 290.3 L537.2 290.1 L537.2 289.9 L537.3 289.8 L537.4 289.6 L537.5 289.4 L537.6 289.2 L537.7 289.0 L537.8 288.9 L537.9 288.7 L538.0 288.5 L538.1 288.4 L538.2 288.2 L538.3 288.0 L538.4 287.9 L538.5 287.7 L538.6 287.5 L538.7 287.4 L538.9 287.2 L539.0 287.1 L539.1 286.9 L539.2 286.8 L539.3 286.6 L539.4 286.5 L539.5 286.3 L539.7 286.2 L539.8 286.1 L539.9 285.9 L540.0 285.8 L540.1 285.6 L540.2 285.5 L540.4 285.4 L540.5 285.2 L540.6 285.1 L540.7 285.0 L540.9 284.9 L541.0 284.7 L541.1 284.6 L541.3 284.5 L541.4 284.4 L541.5 284.2 L541.6 284.1 L541.8 284.0 L541.9 283.9 L542.0 283.8 L542.2 283.7 L542.3 283.6 L542.4 283.5 L542.6 283.3 L542.7 283.2 L542.9 283.1 L543.0 283.0 L543.1 282.9 L543.3 282.8 L543.4 282.7 L543.6 282.6 L543.7 282.5 L543.9 282.4 L544.0 282.3 L544.2 282.3 L544.3 282.2 L544.5 282.1 L544.6 282.0 L544.8 281.9 L544.9 281.8 L545.1 281.7 L545.2 281.7 L545.4 281.6 L545.5 281.5 L545.7 281.4 L545.8 281.3 L546.0 281.3 L546.2 281.2 L546.3 281.1 L546.5 281.1 L546.6 281.0 L546.8 280.9 L547.0 280.9 L547.1 280.8 L547.3 280.7 L547.5 280.7 L547.6 280.6 L547.8 280.6 L548.0 280.5 L548.2 280.4 L548.3 280.4 L548.5 280.3 L548.7 280.3 L548.9 280.3 L549.0 280.2 L549.2 280.2 L549.4 280.1 L549.6 280.1 L549.7 280.1 L549.9 280.0 L550.1 280.0 L550.3 280.0 L550.5 279.9 L550.7 279.9 L550.9 279.9 L551.0 279.9 L551.2 279.8 L551.4 279.8 L551.6 279.8 L551.8 279.8 L552.0 279.8 L552.2 279.8 L552.4 279.8 L552.6 279.8 L552.8 279.8 L553.0 279.8 L553.2 279.8 L553.4 279.8 L553.6 279.8 L553.8 279.8 L554.0 279.8 L554.2 279.8 L554.4 279.8 L554.6 279.9 L554.8 279.9 L555.0 279.9 L555.2 279.9 L555.4 280.0 L555.6 280.0 L555.8 280.0 L556.0 280.1 L556.2 280.1 L556.4 280.2 L556.6 280.2 L556.8 280.3 L557.0 280.3 L557.3 280.4 L557.5 280.5 L557.7 280.5 L557.9 280.6 L558.1 280.7 L558.3 280.8 L558.5 280.8 L558.7 280.9 L558.9 281.0 L559.1 281.1 L559.3 281.2 L559.5 281.3 L559.7 281.4 L560.0 281.5 L560.2 281.6 L560.4 281.7 L560.6 281.8 L560.8 281.9 L561.0 282.0 L561.2 282.2 L561.4 282.3 L561.6 282.4 L561.8 282.6 L562.0 282.7 L562.2 282.8 L562.4 283.0 L562.6 283.1 L562.8 283.3 L563.0 283.4 L563.1 283.6 L563.3 283.8 L563.5 283.9 L563.7 284.1 L563.9 284.3 L564.1 284.4 L564.3 284.6 L564.4 284.8 L564.6 285.0 L564.8 285.2 L565.0 285.4 L565.1 285.6 L565.3 285.8 L565.5 286.0 L565.6 286.2 L565.8 286.4 L566.0 286.6 L566.1 286.8 L566.3 287.1 L566.4 287.3 L566.6 287.5 L566.7 287.8 L566.9 288.0 L567.0 288.2 L567.2 288.5 L567.3 288.7 L567.4 289.0 L567.6 289.2 L567.7 289.5 L567.8 289.7 L567.9 290.0 L568.0 290.3 L568.1 290.5 L568.2 290.8 L568.4 291.1 L568.5 291.4 L568.5 291.6 L568.6 291.9 L568.7 292.2 L568.8 292.5 L568.9 292.8 L569.0 293.1 L569.0 293.4 L569.1 293.7 L569.2 294.0 L569.2 294.3 L569.3 294.6 L569.3 294.9 L569.4 295.2 L569.4 295.5 L569.4 295.8 L569.5 296.2 L569.5 296.5 L569.5 296.8 L569.5 297.1 L569.5 297.4 L569.5 297.8 L569.5 298.1 L569.5 298.4 L569.5 298.7 L569.5 299.1 L569.5 299.4 L569.5 299.7 L569.4 300.1 L569.4 300.4 L569.3 300.7 L569.3 301.1 L569.2 301.4 L569.2 301.7 L569.1 302.1 L569.1 302.4 L569.0 302.8 L568.9 303.1 L568.8 303.4 L568.7 303.8 L568.6 304.1 L568.5 304.5 L568.4 304.8 L568.3 305.2 L568.2 305.5 L568.1 305.9 L568.0 306.2 L567.9 306.6 L567.8 306.9 L567.6 307.3 L567.5 307.7 L567.4 308.0 L567.2 308.4 L567.1 308.8 L567.0 309.1 L566.8 309.5 L566.7 309.9 L566.5 310.3 L566.4 310.7 L566.2 311.1 L566.0 311.5 L565.9 311.9 L565.7 312.3 L565.5 312.7 L565.3 313.1 L565.1 313.6 L564.9 314.0 L564.7 314.4 L564.5 314.9 L564.3 315.3 L564.1 315.8 L563.9 316.2 L563.7 316.7 L563.4 317.1 L563.2 317.6 L562.9 318.1 L562.6 318.5 L562.4 319.0 L562.1 319.5 L561.8 320.0 L561.5 320.5 L561.2 320.9 L560.8 321.4 L560.5 321.9 L560.1 322.3 L559.8 322.8 L559.4 323.3 L559.0 323.7 L558.6 324.2 L558.2 324.7 L557.8 325.1 L557.3 325.5 L556.9 326.0 L556.4 326.4 L556.0 326.8 L555.5 327.2 L555.0 327.7 L554.5 328.1 L554.0 328.4 L553.4 328.8 L552.9 329.2 L552.4 329.5 L551.8 329.9 L551.2 330.2 L550.6 330.5 L550.1 330.8 L549.5 331.1 L548.9 331.4 L548.2 331.6 L547.6 331.9 L547.0 332.1 L546.4 332.3 L545.7 332.5 L545.1 332.7 L544.4 332.9 L543.8 333.0 L543.1 333.1 L542.4 333.3 L541.7 333.4 L541.1 333.5 L540.4 333.5 L539.7 333.6 L539.0 333.6 L538.3 333.7 L537.6 333.7 L536.9 333.7 L536.2 333.6 L535.5 333.6 L534.8 333.5 L534.2 333.5 L533.5 333.4 L532.8 333.3 L532.1 333.2 L531.4 333.0 L530.7 332.9 L530.0 332.7 L529.3 332.5 L528.6 332.3 L528.0 332.1 L527.3 331.9 L526.6 331.6 L525.9 331.4 L525.3 331.1 L524.6 330.8 L524.0 330.5 L523.3 330.2 L522.7 329.9 L522.1 329.5 L521.4 329.2 L520.8 328.8 L520.2 328.4 L519.6 328.0 L519.0 327.6 L518.4 327.2 L517.8 326.8 L517.2 326.3 L516.7 325.9 L516.1 325.4 L515.6 324.9 L515.0 324.4 L514.5 323.9 L514.0 323.4 L513.5 322.9 L513.0 322.3 L512.5 321.8 L512.0 321.2 L511.6 320.7 L511.1 320.1 L510.7 319.5 L510.2 318.9 L509.8 318.3 L509.4 317.7 L509.0 317.1 L508.6 316.5 L508.3 315.8 L507.9 315.2 L507.6 314.5 L507.2 313.9 L506.9 313.2 L506.6 312.6 L506.3 311.9 L506.0 311.2 L505.7 310.5 L505.4 309.9 L505.2 309.2 L504.9 308.5 L504.7 307.8 L504.5 307.1 L504.3 306.4 L504.1 305.7 L503.9 305.0 L503.8 304.2 L503.6 303.5 L503.5 302.8 L503.3 302.1 L503.2 301.4 L503.1 300.7 L503.0 299.9 L502.9 299.2 L502.9 298.5 L502.8 297.8 L502.8 297.0 L502.7 296.3 L502.7 295.6 L502.7 294.9 L502.7 294.1 L502.7 293.4 L502.7 292.7 L502.8 292.0 L502.8 291.2 L502.9 290.5 L502.9 289.8 L503.0 289.1 L503.1 288.4 L503.2 287.7 L503.3 287.0 L503.4 286.2 L503.6 285.5 L503.7 284.8 L503.8 284.1 L504.0 283.4 L504.2 282.8 L504.4 282.1 L504.5 281.4 L504.7 280.7 L505.0 280.0 L505.2 279.3 L505.4 278.6 L505.6 278.0 L505.9 277.3 L506.1 276.6 L506.4 276.0 L506.6 275.3 L506.9 274.7 L507.2 274.0 L507.5 273.4 L507.8 272.7 L508.1 272.1 L508.4 271.5 L508.7 270.8 L509.1 270.2 L509.4 269.6 L509.8 269.0 L510.1 268.3 L510.5 267.7 L510.8 267.1 L511.2 266.5 L511.6 265.9 L512.0 265.3 L512.4 264.7 L512.8 264.2 L513.2 263.6 L513.6 263.0 L514.0 262.4 L514.4 261.8 L514.9 261.3 L515.3 260.7 L515.7 260.2 L516.2 259.6 L516.7 259.1 L517.1 258.5 L517.6 258.0 L518.1 257.4 L518.6 256.9 L519.1 256.4 L519.6 255.8 L520.1 255.3 L520.6 254.8 L521.1 254.3 L521.6 253.8 L522.2 253.3 L522.7 252.8 L523.3 252.3 L523.8 251.8 L524.4 251.4 L525.0 250.9 L525.6 250.5 L526.2 250.0 L526.8 249.6 L527.4 249.2 L528.0 248.7 L528.6 248.3 L529.3 247.9 L529.9 247.5 L530.5 247.2 L531.2 246.8 L531.9 246.4 L532.5 246.1 L533.2 245.8 L533.9 245.4 L534.6 245.1 L535.3 244.8 L536.0 244.6 L536.7 244.3 L537.4 244.0 L538.1 243.8 L538.9 243.6 L539.6 243.4 L540.3 243.2 L541.1 243.0 L541.8 242.8 L542.6 242.7 L543.3 242.5 L544.1 242.4 L544.8 242.3 L545.6 242.2 L546.3 242.2 L547.1 242.1 L547.9 242.1 L548.6 242.1 L549.4 242.1 L550.1 242.1 L550.9 242.1 L551.7 242.2 L552.4 242.2 L553.2 242.3 L553.9 242.4 L554.7 242.5 L555.4 242.6 L556.2 242.8 L556.9 242.9 L557.7 243.1 L558.4 243.2 L559.1 243.4 L559.9 243.6 L560.6 243.9 L561.3 244.1 L562.0 244.3 L562.7 244.6 L563.4 244.8 L564.1 245.1 L564.8 245.4 L565.5 245.7 L566.2 246.0 L566.9 246.3 L567.6 246.7 L568.2 247.0 L568.9 247.3 L569.5 247.7 L570.2 248.1 L570.8 248.4 L571.5 248.8 L572.1 249.2 L572.7 249.6 L573.3 250.0 L573.9 250.4 L574.5 250.8 L575.1 251.3 L575.7 251.7 L576.3 252.1 L576.9 252.6 L577.4 253.0 L578.0 253.5 L578.6 254.0 L579.1 254.5 L579.7 254.9 L580.2 255.4 L580.7 255.9 L581.2 256.4 L581.8 256.9 L582.3 257.4 L582.8 258.0 L583.3 258.5 L583.7 259.0 L584.2 259.6 L584.7 260.1 L585.2 260.7 L585.6 261.2 L586.1 261.8 L586.5 262.3 L586.9 262.9 L587.4 263.5 L587.8 264.1 L588.2 264.7 L588.6 265.2 L589.0 265.8 L589.4 266.4 L589.8 267.1 L590.2 267.7 L590.5 268.3 L590.9 268.9 L591.2 269.5 L591.6 270.2 L591.9 270.8 L592.2 271.4 L592.6 272.1 L592.9 272.7 L593.2 273.4 L593.5 274.0 L593.8 274.7 L594.0 275.4 L594.3 276.0 L594.6 276.7 L594.8 277.4 L595.1 278.0 L595.3 278.7 L595.5 279.4 L595.7 280.1 L596.0 280.8 L596.2 281.5 L596.4 282.2 L596.5 282.9 L596.7 283.6 L596.9 284.3 L597.0 285.0 L597.2 285.7 L597.3 286.4 L597.5 287.1 L597.6 287.9 L597.7 288.6 L597.8 289.3 L597.9 290.0 L598.0 290.8 L598.1 291.5 L598.1 292.2 L598.2 293.0 L598.3 293.7 L598.3 294.5 L598.3 295.2 L598.4 295.9 L598.4 296.7 L598.4 297.4 L598.4 298.2 L598.4 298.9 L598.3 299.7 L598.3 300.4 L598.3 301.2 L598.2 301.9 L598.1 302.7 L598.1 303.5 L598.0 304.2 L597.9 305.0 L597.8 305.7 L597.7 306.5 L597.6 307.3 L597.4 308.0 L597.3 308.8 L597.1 309.5 L597.0 310.3 L596.8 311.1 L596.6 311.8 L596.4 312.6 L596.2 313.3 L596.0 314.1 L595.8 314.9 L595.5 315.6 L595.3 316.4 L595.0 317.1 L594.8 317.9 L594.5 318.6 L594.2 319.4 L593.9 320.1 L593.6 320.9 L593.3 321.6 L592.9 322.4 L592.6 323.1 L592.2 323.9 L591.9 324.6 L591.5 325.4 L591.1 326.1 L590.7 326.8 L590.3 327.6 L589.9 328.3 L589.5 329.0 L589.0 329.7 L588.6 330.5 L588.1 331.2 L587.6 331.9 L587.1 332.6 L586.6 333.3 L586.1 334.0 L585.6 334.7 L585.1 335.4 L584.5 336.1 L584.0 336.8 L583.4 337.4 L582.8 338.1 L582.3 338.8 L581.7 339.4 L581.0 340.1 L580.4 340.8 L579.8 341.4 L579.1 342.1 L578.5 342.7 L577.8 343.3 L577.1 344.0 L576.5 344.6 L575.8 345.2 L575.0 345.8 L574.3 346.4 L573.6 347.0 L572.8 347.6 L572.1 348.2 L571.3 348.8 L570.5 349.3 L569.8 349.9 L568.9 350.5 L568.1 351.0 L567.3 351.5 L566.5 352.1 L565.6 352.6 L564.8 353.1 L563.9 353.6 L563.0 354.2 L562.1 354.7 L561.2 355.1 L560.3 355.6 L559.4 356.1 L558.5 356.6 L557.5 357.0 L556.5 357.5 L555.6 357.9 L554.6 358.3 L553.6 358.7 L552.6 359.2 L551.6 359.5 L550.5 359.9 L549.5 360.3 L548.5 360.7 L547.4 361.0 L546.3 361.4 L545.2 361.7 L544.1 362.0 L543.0 362.4 L541.9 362.6 L540.8 362.9 L539.6 363.2 L538.5 363.5 L537.3 363.7 L536.1 364.0 L534.9 364.2 L533.7 364.4 L532.5 364.6 L531.3 364.8 L530.0 365.0 L528.8 365.2 L527.5 365.3 L526.2 365.5 L525.0 365.6 L523.6 365.8 L522.3 365.9 L521.0 366.0 L519.6 366.1 L518.3 366.2 L516.9 366.2 L515.5 366.3 L514.1 366.3 L512.7 366.4 L511.2 366.4 L509.7 366.4 L508.3 366.4 L506.8 366.4 L505.3 366.4 L503.7 366.3 L502.2 366.3 L500.6 366.2 L499.0 366.1 L497.4 366.0 L495.8 365.8 L494.1 365.7 L492.5 365.5 L490.8 365.3 L489.1 365.1 L487.4 364.8 L485.7 364.6 L484.0 364.3 L482.2 364.0 L480.5 363.6 L478.7 363.2 L476.9 362.8 L475.1 362.4 L473.3 361.9 L471.4 361.4 L469.6 360.9 L467.7 360.3 L465.8 359.8 L464.0 359.1 L462.1 358.5 L460.2 357.8 L458.3 357.0 L456.4 356.3 L454.4 355.5 L452.5 354.6 L450.6 353.7 L448.6 352.8 L446.7 351.8 L444.8 350.8 L442.8 349.8 L440.8 348.6 L438.7 347.4 L436.6 346.2 L434.6 345.0 L432.7 343.7 L430.9 342.5 L429.3 341.3 L427.8 340.1 L426.5 339.0 L425.4 337.8 L424.3 336.7 L423.3 335.5 L422.2 334.3 L421.2 333.2 L420.0 332.0 L418.8 330.8 L417.5 329.6 L416.2 328.4 L414.9 327.2 L413.6 326.0 L412.4 324.7 L411.2 323.5 L410.0 322.3 L408.9 321.0 L407.8 319.7 L406.7 318.4 L405.7 317.1 L404.7 315.8 L403.7 314.6 L402.8 313.5 L402.0 312.5 L401.2 311.7 L400.6 311.0 L399.9 310.3 L399.4 309.8 L398.8 309.3 L398.2 308.9 L397.7 308.4 L397.0 308.0 L396.3 307.6 L395.6 307.2 L394.8 306.9 L394.1 306.6 L393.3 306.3 L392.5 306.1 L391.8 305.8 L391.0 305.5 L390.2 305.6 L389.5 305.3 L388.8 305.0 L388.0 304.7 L387.2 304.4 L386.5 304.2 L385.8 304.1 L385.0 304.0 L384.2 304.0 L383.5 304.1 L382.7 304.2 L381.9 304.4 L381.1 304.6 L380.4 304.8 L379.7 305.1 L379.0 305.5 L378.3 305.9 L377.7 306.4 L377.1 306.9 L376.4 307.5 L375.9 308.1 L375.4 308.7 L374.9 309.3 L374.5 310.0 L374.2 310.7 L373.9 311.4 L373.6 312.2 L373.5 312.9 L373.3 313.7 L373.2 314.5 L373.2 315.3 L373.3 316.0 L373.5 316.7 L373.7 317.4 L374.0 318.1 L374.4 318.8 L374.8 319.5 L375.2 320.1 L375.6 320.8Z" fill="#c176fc"/>
<path d="M376.9 321.5 L377.5 322.2 L378.2 323.1 L378.9 323.9 L379.6 324.8 L380.3 325.6 L381.0 326.5 L381.8 327.4 L382.7 328.3 L383.7 329.3 L384.7 330.3 L385.8 331.4 L387.0 332.5 L388.2 333.6 L389.4 334.7 L390.5 335.7 L391.7 336.8 L392.8 337.7 L393.9 338.7 L395.0 339.6 L396.1 340.5 L397.2 341.4 L398.3 342.4 L399.5 343.3 L400.6 344.2 L401.8 345.2 L403.1 346.2 L404.3 347.1 L405.6 348.1 L406.8 349.1 L408.1 350.1 L409.3 351.0 L410.6 351.9 L411.8 352.7 L413.0 353.5 L414.3 354.3 L415.5 355.1 L416.8 355.8 L418.0 356.6 L419.3 357.4 L420.5 358.2 L421.7 359.0 L422.8 359.8 L423.8 360.5 L424.9 361.3 L425.9 362.1 L427.1 362.8 L428.5 363.6 L430.1 364.3 L432.1 365.1 L434.3 366.0 L436.8 366.8 L439.3 367.6 L442.0 368.5 L444.6 369.3 L447.1 370.0 L449.6 370.7 L451.9 371.4 L454.1 372.0 L456.4 372.5 L458.6 373.1 L460.8 373.6 L463.0 374.1 L465.1 374.5 L467.3 375.0 L469.4 375.4 L471.4 375.8 L473.5 376.1 L475.5 376.5 L477.5 376.8 L479.4 377.1 L481.4 377.4 L483.3 377.6 L485.2 377.9 L487.1 378.1 L488.9 378.3 L490.8 378.4 L492.6 378.6 L494.4 378.8 L496.2 378.9 L497.9 379.0 L499.6 379.1 L501.4 379.2 L503.1 379.3 L504.7 379.3 L506.4 379.4 L508.0 379.4 L509.6 379.4 L511.3 379.5 L512.9 379.5 L514.4 379.4 L516.0 379.4 L517.5 379.4 L519.1 379.3 L520.6 379.3 L522.1 379.2 L523.6 379.1 L525.1 379.0 L526.5 378.9 L528.0 378.8 L529.4 378.7 L530.9 378.5 L532.3 378.4 L533.7 378.2 L535.1 378.0 L536.5 377.8 L537.8 377.6 L539.2 377.4 L540.5 377.2 L541.9 376.9 L543.2 376.7 L544.5 376.4 L545.8 376.1 L547.1 375.8 L548.4 375.5 L549.7 375.2 L551.0 374.8 L552.2 374.5 L553.5 374.1 L554.7 373.7 L555.9 373.3 L557.2 372.9 L558.4 372.5 L559.5 372.1 L560.7 371.6 L561.9 371.1 L563.1 370.6 L564.2 370.1 L565.3 369.6 L566.4 369.1 L567.5 368.5 L568.6 367.9 L569.7 367.3 L570.8 366.7 L571.8 366.1 L572.9 365.5 L573.9 364.8 L574.9 364.2 L575.9 363.5 L576.9 362.8 L577.9 362.1 L578.8 361.4 L579.8 360.7 L580.7 360.0 L581.6 359.3 L582.5 358.5 L583.4 357.7 L584.2 357.0 L585.1 356.2 L585.9 355.4 L586.7 354.6 L587.5 353.8 L588.3 353.0 L589.1 352.1 L589.8 351.3 L590.6 350.4 L591.3 349.6 L592.0 348.7 L592.7 347.9 L593.4 347.0 L594.0 346.1 L594.7 345.2 L595.3 344.3 L595.9 343.4 L596.5 342.5 L597.1 341.6 L597.7 340.7 L598.2 339.8 L598.8 338.8 L599.3 337.9 L599.8 337.0 L600.3 336.1 L600.7 335.1 L601.2 334.2 L601.6 333.2 L602.0 332.3 L602.5 331.3 L602.8 330.4 L603.2 329.4 L603.6 328.5 L603.9 327.5 L604.3 326.5 L604.6 325.6 L604.9 324.6 L605.2 323.7 L605.4 322.7 L605.7 321.8 L605.9 320.8 L606.2 319.8 L606.4 318.9 L606.6 317.9 L606.8 317.0 L607.0 316.0 L607.1 315.1 L607.3 314.1 L607.4 313.2 L607.5 312.2 L607.7 311.3 L607.8 310.3 L607.9 309.4 L607.9 308.4 L608.0 307.5 L608.1 306.6 L608.1 305.6 L608.1 304.7 L608.2 303.8 L608.2 302.9 L608.2 301.9 L608.2 301.0 L608.2 300.1 L608.1 299.2 L608.1 298.3 L608.1 297.4 L608.0 296.5 L607.9 295.6 L607.9 294.7 L607.8 293.8 L607.7 292.9 L607.6 292.0 L607.5 291.1 L607.4 290.3 L607.2 289.4 L607.1 288.5 L607.0 287.6 L606.8 286.8 L606.7 285.9 L606.5 285.0 L606.3 284.2 L606.2 283.3 L606.0 282.5 L605.8 281.6 L605.6 280.7 L605.4 279.9 L605.2 279.0 L605.0 278.2 L604.8 277.4 L604.5 276.5 L604.3 275.7 L604.0 274.8 L603.8 274.0 L603.5 273.2 L603.3 272.3 L603.0 271.5 L602.7 270.7 L602.4 269.9 L602.1 269.0 L601.8 268.2 L601.5 267.4 L601.2 266.6 L600.8 265.8 L600.5 265.0 L600.1 264.2 L599.7 263.4 L599.4 262.6 L599.0 261.8 L598.6 261.0 L598.2 260.2 L597.7 259.4 L597.3 258.6 L596.9 257.8 L596.4 257.1 L596.0 256.3 L595.5 255.6 L595.0 254.8 L594.5 254.1 L594.0 253.3 L593.5 252.6 L592.9 251.8 L592.4 251.1 L591.8 250.4 L591.3 249.7 L590.7 249.0 L590.1 248.3 L589.5 247.6 L588.9 247.0 L588.2 246.3 L587.6 245.6 L587.0 245.0 L586.3 244.4 L585.6 243.7 L584.9 243.1 L584.2 242.5 L583.5 241.9 L582.8 241.4 L582.1 240.8 L581.3 240.2 L580.6 239.7 L579.8 239.2 L579.1 238.7 L578.3 238.2 L577.5 237.7 L576.7 237.2 L575.9 236.8 L575.0 236.3 L574.2 235.9 L573.4 235.5 L572.5 235.1 L571.7 234.7 L570.8 234.4 L570.0 234.0 L569.1 233.7 L568.2 233.4 L567.3 233.1 L566.4 232.8 L565.5 232.6 L564.6 232.3 L563.7 232.1 L562.8 231.9 L561.9 231.7 L561.0 231.5 L560.0 231.4 L559.1 231.2 L558.2 231.1 L557.3 231.0 L556.3 230.9 L555.4 230.8 L554.5 230.8 L553.5 230.7 L552.6 230.7 L551.7 230.7 L550.7 230.7 L549.8 230.7 L548.9 230.8 L547.9 230.8 L547.0 230.9 L546.1 231.0 L545.1 231.1 L544.2 231.2 L543.3 231.3 L542.4 231.5 L541.5 231.6 L540.5 231.8 L539.6 232.0 L538.7 232.2 L537.8 232.4 L536.9 232.7 L536.0 232.9 L535.1 233.2 L534.3 233.5 L533.4 233.8 L532.5 234.1 L531.6 234.4 L530.8 234.7 L529.9 235.1 L529.1 235.4 L528.2 235.8 L527.4 236.2 L526.6 236.6 L525.7 237.0 L524.9 237.4 L524.1 237.9 L523.3 238.3 L522.5 238.8 L521.7 239.2 L521.0 239.7 L520.2 240.2 L519.4 240.7 L518.7 241.2 L517.9 241.8 L517.2 242.3 L516.5 242.8 L515.7 243.4 L515.0 244.0 L514.3 244.5 L513.6 245.1 L512.9 245.7 L512.3 246.3 L511.6 246.9 L510.9 247.5 L510.3 248.2 L509.6 248.8 L509.0 249.5 L508.4 250.1 L507.8 250.8 L507.2 251.4 L506.6 252.1 L506.0 252.8 L505.4 253.5 L504.8 254.2 L504.3 254.9 L503.7 255.6 L503.2 256.3 L502.6 257.1 L502.1 257.8 L501.6 258.5 L501.1 259.3 L500.6 260.0 L500.1 260.8 L499.6 261.6 L499.2 262.3 L498.7 263.1 L498.3 263.9 L497.8 264.7 L497.4 265.5 L497.0 266.3 L496.6 267.1 L496.2 267.9 L495.8 268.7 L495.4 269.5 L495.0 270.4 L494.6 271.2 L494.3 272.0 L494.0 272.9 L493.6 273.7 L493.3 274.6 L493.0 275.4 L492.7 276.3 L492.4 277.1 L492.1 278.0 L491.9 278.9 L491.6 279.8 L491.4 280.6 L491.2 281.5 L491.0 282.4 L490.8 283.3 L490.6 284.2 L490.4 285.1 L490.2 286.0 L490.1 286.9 L489.9 287.8 L489.8 288.8 L489.7 289.7 L489.6 290.6 L489.5 291.5 L489.5 292.4 L489.4 293.4 L489.4 294.3 L489.4 295.2 L489.4 296.1 L489.4 297.1 L489.4 298.0 L489.4 298.9 L489.5 299.9 L489.6 300.8 L489.6 301.7 L489.7 302.7 L489.9 303.6 L490.0 304.5 L490.1 305.4 L490.3 306.4 L490.5 307.3 L490.7 308.2 L490.9 309.1 L491.1 310.0 L491.3 310.9 L491.6 311.8 L491.9 312.7 L492.2 313.6 L492.5 314.5 L492.8 315.4 L493.1 316.3 L493.5 317.1 L493.9 318.0 L494.3 318.9 L494.7 319.7 L495.1 320.6 L495.5 321.4 L496.0 322.2 L496.4 323.0 L496.9 323.9 L497.4 324.7 L497.9 325.4 L498.5 326.2 L499.0 327.0 L499.6 327.7 L500.1 328.5 L500.7 329.2 L501.3 329.9 L501.9 330.6 L502.6 331.3 L503.2 332.0 L503.9 332.7 L504.5 333.3 L505.2 334.0 L505.9 334.6 L506.6 335.2 L507.3 335.8 L508.1 336.4 L508.8 336.9 L509.6 337.5 L510.3 338.0 L511.1 338.5 L511.9 339.0 L512.7 339.5 L513.5 339.9 L514.3 340.4 L515.1 340.8 L516.0 341.2 L516.8 341.6 L517.6 341.9 L518.5 342.3 L519.3 342.6 L520.2 342.9 L521.1 343.1 L522.0 343.4 L522.8 343.6 L523.7 343.9 L524.6 344.1 L525.5 344.2 L526.4 344.4 L527.3 344.5 L528.1 344.7 L529.0 344.8 L529.9 344.8 L530.8 344.9 L531.7 345.0 L532.6 345.0 L533.5 345.0 L534.3 345.0 L535.2 345.0 L536.1 344.9 L537.0 344.8 L537.8 344.8 L538.7 344.7 L539.5 344.6 L540.4 344.4 L541.2 344.3 L542.1 344.1 L542.9 344.0 L543.7 343.8 L544.6 343.6 L545.4 343.4 L546.2 343.1 L547.0 342.9 L547.7 342.6 L548.5 342.4 L549.3 342.1 L550.1 341.8 L550.8 341.5 L551.5 341.2 L552.3 340.8 L553.0 340.5 L553.7 340.1 L554.4 339.8 L555.1 339.4 L555.8 339.0 L556.5 338.7 L557.1 338.3 L557.8 337.9 L558.4 337.5 L559.1 337.1 L559.7 336.6 L560.3 336.2 L560.9 335.8 L561.5 335.3 L562.1 334.9 L562.7 334.5 L563.2 334.0 L563.8 333.5 L564.3 333.1 L564.9 332.6 L565.4 332.1 L565.9 331.7 L566.4 331.2 L566.9 330.7 L567.4 330.2 L567.9 329.7 L568.4 329.2 L568.8 328.7 L569.3 328.2 L569.7 327.7 L570.1 327.2 L570.5 326.7 L571.0 326.2 L571.4 325.7 L571.7 325.2 L572.1 324.7 L572.5 324.1 L572.9 323.6 L573.2 323.1 L573.6 322.6 L573.9 322.0 L574.2 321.5 L574.5 321.0 L574.8 320.5 L575.1 319.9 L575.4 319.4 L575.7 318.9 L576.0 318.3 L576.2 317.8 L576.5 317.3 L576.7 316.7 L577.0 316.2 L577.2 315.6 L577.4 315.1 L577.6 314.6 L577.8 314.0 L578.0 313.5 L578.2 313.0 L578.4 312.4 L578.5 311.9 L578.7 311.4 L578.9 310.8 L579.0 310.3 L579.1 309.8 L579.3 309.2 L579.4 308.7 L579.5 308.2 L579.6 307.7 L579.7 307.1 L579.8 306.6 L579.9 306.1 L580.0 305.6 L580.0 305.1 L580.1 304.5 L580.1 304.0 L580.2 303.5 L580.2 303.0 L580.2 302.5 L580.3 302.0 L580.3 301.5 L580.3 301.0 L580.3 300.5 L580.3 300.0 L580.3 299.5 L580.3 299.0 L580.3 298.5 L580.2 298.0 L580.2 297.5 L580.2 297.0 L580.1 296.6 L580.1 296.1 L580.0 295.6 L579.9 295.1 L579.9 294.7 L579.8 294.2 L579.7 293.7 L579.6 293.3 L579.5 292.8 L579.4 292.4 L579.3 291.9 L579.2 291.5 L579.1 291.0 L578.9 290.6 L578.8 290.2 L578.7 289.7 L578.5 289.3 L578.4 288.9 L578.2 288.4 L578.1 288.0 L577.9 287.6 L577.8 287.2 L577.6 286.8 L577.4 286.4 L577.3 286.0 L577.1 285.6 L576.9 285.2 L576.7 284.8 L576.5 284.4 L576.3 284.0 L576.1 283.7 L575.9 283.3 L575.7 282.9 L575.4 282.6 L575.2 282.2 L575.0 281.9 L574.8 281.5 L574.5 281.2 L574.3 280.8 L574.1 280.5 L573.8 280.1 L573.6 279.8 L573.3 279.5 L573.1 279.2 L572.8 278.8 L572.5 278.5 L572.3 278.2 L572.0 277.9 L571.7 277.6 L571.5 277.3 L571.2 277.0 L570.9 276.7 L570.6 276.5 L570.3 276.2 L570.0 275.9 L569.7 275.6 L569.4 275.4 L569.1 275.1 L568.8 274.9 L568.5 274.6 L568.2 274.4 L567.9 274.1 L567.6 273.9 L567.3 273.7 L567.0 273.4 L566.7 273.2 L566.3 273.0 L566.0 272.8 L565.7 272.6 L565.4 272.4 L565.0 272.2 L564.7 272.0 L564.4 271.8 L564.0 271.6 L563.7 271.4 L563.4 271.2 L563.0 271.1 L562.7 270.9 L562.3 270.7 L562.0 270.6 L561.6 270.4 L561.3 270.3 L560.9 270.1 L560.6 270.0 L560.2 269.9 L559.9 269.8 L559.5 269.6 L559.2 269.5 L558.8 269.4 L558.5 269.3 L558.1 269.2 L557.7 269.1 L557.4 269.0 L557.0 268.9 L556.7 268.8 L556.3 268.8 L555.9 268.7 L555.6 268.6 L555.2 268.6 L554.8 268.5 L554.5 268.4 L554.1 268.4 L553.8 268.4 L553.4 268.3 L553.0 268.3 L552.7 268.3 L552.3 268.2 L551.9 268.2 L551.6 268.2 L551.2 268.2 L550.8 268.2 L550.5 268.2 L550.1 268.2 L549.7 268.2 L549.4 268.3 L549.0 268.3 L548.6 268.3 L548.3 268.3 L547.9 268.4 L547.6 268.4 L547.2 268.5 L546.8 268.5 L546.5 268.6 L546.1 268.6 L545.8 268.7 L545.4 268.8 L545.1 268.9 L544.7 268.9 L544.4 269.0 L544.0 269.1 L543.7 269.2 L543.3 269.3 L543.0 269.4 L542.6 269.6 L542.3 269.7 L541.9 269.8 L541.6 269.9 L541.3 270.1 L540.9 270.2 L540.6 270.3 L540.3 270.5 L539.9 270.6 L539.6 270.8 L539.3 270.9 L539.0 271.1 L538.6 271.3 L538.3 271.5 L538.0 271.6 L537.7 271.8 L537.4 272.0 L537.1 272.2 L536.8 272.4 L536.5 272.6 L536.2 272.8 L535.9 273.0 L535.6 273.2 L535.3 273.4 L535.0 273.7 L534.7 273.9 L534.5 274.1 L534.2 274.4 L533.9 274.6 L533.6 274.8 L533.4 275.1 L533.1 275.3 L532.9 275.6 L532.6 275.9 L532.3 276.1 L532.1 276.4 L531.9 276.7 L531.6 276.9 L531.4 277.2 L531.2 277.5 L530.9 277.8 L530.7 278.1 L530.5 278.4 L530.3 278.6 L530.1 278.9 L529.9 279.2 L529.7 279.6 L529.5 279.9 L529.3 280.2 L529.1 280.5 L528.9 280.8 L528.7 281.1 L528.6 281.4 L528.4 281.8 L528.2 282.1 L528.1 282.4 L527.9 282.8 L527.8 283.1 L527.6 283.4 L527.5 283.8 L527.4 284.1 L527.2 284.5 L527.1 284.8 L527.0 285.1 L526.9 285.5 L526.8 285.8 L526.7 286.2 L526.6 286.6 L526.5 286.9 L526.4 287.3 L526.3 287.6 L526.3 288.0 L526.2 288.3 L526.1 288.7 L526.1 289.1 L526.0 289.4 L526.0 289.8 L526.0 290.2 L525.9 290.5 L525.9 290.9 L525.9 291.3 L525.9 291.6 L525.8 292.0 L525.8 292.4 L525.8 292.7 L525.9 293.1 L525.9 293.5 L525.9 293.8 L525.9 294.2 L525.9 294.6 L526.0 294.9 L526.0 295.3 L526.1 295.7 L526.1 296.0 L526.2 296.4 L526.3 296.8 L526.3 297.1 L526.4 297.5 L526.5 297.9 L526.6 298.2 L526.7 298.6 L526.8 298.9 L526.9 299.3 L527.0 299.6 L527.1 300.0 L527.2 300.3 L527.4 300.7 L527.5 301.0 L527.6 301.4 L527.8 301.7 L527.9 302.0 L528.1 302.4 L528.3 302.7 L528.4 303.0 L528.6 303.4 L528.8 303.7 L529.0 304.0 L529.2 304.4 L529.4 304.7 L529.6 304.9 L529.7 305.2 L529.9 305.4 L530.0 305.6 L530.2 305.8 L530.3 306.0 L530.5 306.2 L530.6 306.4 L530.9 306.8 L531.1 307.4 L531.3 308.0 L531.5 308.6 L531.7 309.1 L531.9 309.5 L532.1 309.8 L532.4 310.1 L532.7 310.5 L533.0 310.7 L533.3 311.0 L533.6 311.1 L533.9 311.2 L534.2 311.3 L534.5 311.3 L534.8 311.3 L535.2 311.3 L535.4 311.2 L535.6 311.1 L535.8 310.9 L536.0 310.7 L536.2 310.3 L536.4 310.0 L536.5 309.6 L536.6 309.3 L536.6 309.1 L536.6 308.9 L536.6 308.7 L536.5 308.4 L536.4 308.0 L536.3 307.7 L536.2 307.5 L536.1 307.2 L536.0 307.0 L535.9 306.7 L535.8 306.4 L535.7 306.1 L535.6 305.8 L535.5 305.5 L535.4 305.2 L535.3 304.9 L535.2 304.6 L535.1 304.3 L535.0 304.0 L534.9 303.6 L534.9 303.3 L534.8 303.0 L534.7 302.7 L534.7 302.4 L534.6 302.1 L534.6 301.8 L534.5 301.5 L534.5 301.2 L534.5 300.9 L534.4 300.6 L534.4 300.3 L534.4 300.0 L534.4 299.7 L534.3 299.4 L534.3 299.1 L534.3 298.8 L534.3 298.6 L534.3 298.3 L534.3 298.0 L534.3 297.7 L534.3 297.5 L534.4 297.2 L534.4 296.9 L534.4 296.6 L534.4 296.4 L534.5 296.1 L534.5 295.9 L534.5 295.6 L534.6 295.3 L534.6 295.1 L534.6 294.8 L534.7 294.6 L534.7 294.3 L534.8 294.1 L534.8 293.9 L534.9 293.6 L534.9 293.4 L535.0 293.1 L535.1 292.9 L535.1 292.7 L535.2 292.5 L535.3 292.2 L535.3 292.0 L535.4 291.8 L535.5 291.6 L535.6 291.4 L535.6 291.1 L535.7 290.9 L535.8 290.7 L535.9 290.5 L536.0 290.3 L536.1 290.1 L536.2 289.9 L536.3 289.7 L536.3 289.5 L536.4 289.3 L536.5 289.1 L536.6 288.9 L536.7 288.7 L536.8 288.6 L536.9 288.4 L537.0 288.2 L537.2 288.0 L537.3 287.8 L537.4 287.7 L537.5 287.5 L537.6 287.3 L537.7 287.1 L537.8 287.0 L537.9 286.8 L538.0 286.7 L538.2 286.5 L538.3 286.3 L538.4 286.2 L538.5 286.0 L538.6 285.9 L538.8 285.7 L538.9 285.6 L539.0 285.4 L539.1 285.3 L539.3 285.1 L539.4 285.0 L539.5 284.8 L539.6 284.7 L539.8 284.6 L539.9 284.4 L540.0 284.3 L540.2 284.1 L540.3 284.0 L540.4 283.9 L540.6 283.8 L540.7 283.6 L540.8 283.5 L541.0 283.4 L541.1 283.3 L541.3 283.1 L541.4 283.0 L541.5 282.9 L541.7 282.8 L541.8 282.7 L542.0 282.6 L542.1 282.4 L542.3 282.3 L542.4 282.2 L542.6 282.1 L542.7 282.0 L542.9 281.9 L543.0 281.8 L543.2 281.7 L543.3 281.6 L543.5 281.5 L543.6 281.4 L543.8 281.3 L543.9 281.2 L544.1 281.1 L544.3 281.0 L544.4 280.9 L544.6 280.9 L544.7 280.8 L544.9 280.7 L545.1 280.6 L545.2 280.5 L545.4 280.4 L545.6 280.4 L545.7 280.3 L545.9 280.2 L546.1 280.1 L546.3 280.1 L546.4 280.0 L546.6 279.9 L546.8 279.9 L547.0 279.8 L547.1 279.7 L547.3 279.7 L547.5 279.6 L547.7 279.5 L547.9 279.5 L548.0 279.4 L548.2 279.4 L548.4 279.3 L548.6 279.3 L548.8 279.2 L549.0 279.2 L549.2 279.1 L549.4 279.1 L549.6 279.1 L549.8 279.0 L549.9 279.0 L550.1 279.0 L550.3 278.9 L550.5 278.9 L550.7 278.9 L550.9 278.9 L551.1 278.8 L551.3 278.8 L551.5 278.8 L551.7 278.8 L551.9 278.8 L552.2 278.8 L552.4 278.8 L552.6 278.8 L552.8 278.8 L553.0 278.8 L553.2 278.8 L553.4 278.8 L553.6 278.8 L553.8 278.8 L554.0 278.8 L554.3 278.8 L554.5 278.8 L554.7 278.9 L554.9 278.9 L555.1 278.9 L555.3 279.0 L555.6 279.0 L555.8 279.0 L556.0 279.1 L556.2 279.1 L556.4 279.2 L556.7 279.2 L556.9 279.3 L557.1 279.3 L557.3 279.4 L557.5 279.4 L557.8 279.5 L558.0 279.6 L558.2 279.7 L558.4 279.7 L558.6 279.8 L558.9 279.9 L559.1 280.0 L559.3 280.1 L559.5 280.2 L559.7 280.3 L560.0 280.4 L560.2 280.5 L560.4 280.6 L560.6 280.7 L560.8 280.8 L561.1 280.9 L561.3 281.1 L561.5 281.2 L561.7 281.3 L561.9 281.4 L562.1 281.6 L562.3 281.7 L562.6 281.9 L562.8 282.0 L563.0 282.2 L563.2 282.3 L563.4 282.5 L563.6 282.7 L563.8 282.8 L564.0 283.0 L564.2 283.2 L564.4 283.4 L564.6 283.5 L564.8 283.7 L565.0 283.9 L565.2 284.1 L565.4 284.3 L565.5 284.5 L565.7 284.7 L565.9 284.9 L566.1 285.1 L566.3 285.4 L566.4 285.6 L566.6 285.8 L566.8 286.0 L566.9 286.3 L567.1 286.5 L567.3 286.7 L567.4 287.0 L567.6 287.2 L567.7 287.5 L567.9 287.7 L568.0 288.0 L568.2 288.3 L568.3 288.5 L568.4 288.8 L568.6 289.1 L568.7 289.3 L568.8 289.6 L568.9 289.9 L569.1 290.2 L569.2 290.5 L569.3 290.7 L569.4 291.0 L569.5 291.3 L569.6 291.6 L569.7 291.9 L569.8 292.2 L569.9 292.5 L569.9 292.8 L570.0 293.2 L570.1 293.5 L570.1 293.8 L570.2 294.1 L570.3 294.4 L570.3 294.8 L570.4 295.1 L570.4 295.4 L570.4 295.7 L570.5 296.1 L570.5 296.4 L570.5 296.7 L570.5 297.1 L570.5 297.4 L570.5 297.7 L570.5 298.1 L570.5 298.4 L570.5 298.8 L570.5 299.1 L570.5 299.5 L570.5 299.8 L570.4 300.2 L570.4 300.5 L570.3 300.9 L570.3 301.2 L570.2 301.6 L570.2 301.9 L570.1 302.3 L570.0 302.6 L570.0 303.0 L569.9 303.3 L569.8 303.7 L569.7 304.0 L569.6 304.4 L569.5 304.7 L569.4 305.1 L569.3 305.4 L569.2 305.8 L569.1 306.2 L569.0 306.5 L568.8 306.9 L568.7 307.3 L568.6 307.6 L568.5 308.0 L568.3 308.4 L568.2 308.7 L568.0 309.1 L567.9 309.5 L567.8 309.9 L567.6 310.3 L567.4 310.7 L567.3 311.1 L567.1 311.5 L567.0 311.9 L566.8 312.3 L566.6 312.7 L566.4 313.1 L566.2 313.5 L566.1 314.0 L565.9 314.4 L565.7 314.8 L565.4 315.3 L565.2 315.7 L565.0 316.2 L564.8 316.7 L564.6 317.1 L564.3 317.6 L564.0 318.1 L563.8 318.6 L563.5 319.0 L563.2 319.5 L562.9 320.0 L562.6 320.5 L562.3 321.0 L562.0 321.5 L561.6 322.0 L561.3 322.5 L560.9 322.9 L560.5 323.4 L560.2 323.9 L559.8 324.4 L559.4 324.9 L558.9 325.3 L558.5 325.8 L558.0 326.2 L557.6 326.7 L557.1 327.1 L556.6 327.6 L556.1 328.0 L555.6 328.4 L555.1 328.8 L554.6 329.2 L554.0 329.6 L553.5 330.0 L552.9 330.4 L552.3 330.7 L551.7 331.1 L551.1 331.4 L550.5 331.7 L549.9 332.0 L549.3 332.3 L548.6 332.6 L548.0 332.8 L547.3 333.0 L546.7 333.3 L546.0 333.5 L545.3 333.7 L544.6 333.8 L544.0 334.0 L543.3 334.1 L542.6 334.3 L541.9 334.4 L541.2 334.5 L540.5 334.5 L539.8 334.6 L539.1 334.6 L538.3 334.7 L537.6 334.7 L536.9 334.7 L536.2 334.6 L535.5 334.6 L534.8 334.5 L534.0 334.5 L533.3 334.4 L532.6 334.3 L531.9 334.1 L531.2 334.0 L530.5 333.8 L529.8 333.7 L529.0 333.5 L528.3 333.3 L527.6 333.1 L527.0 332.8 L526.3 332.6 L525.6 332.3 L524.9 332.0 L524.2 331.7 L523.5 331.4 L522.9 331.1 L522.2 330.8 L521.6 330.4 L520.9 330.1 L520.3 329.7 L519.7 329.3 L519.0 328.9 L518.4 328.4 L517.8 328.0 L517.2 327.6 L516.6 327.1 L516.0 326.6 L515.5 326.1 L514.9 325.6 L514.4 325.1 L513.8 324.6 L513.3 324.1 L512.8 323.5 L512.3 323.0 L511.8 322.4 L511.3 321.9 L510.8 321.3 L510.3 320.7 L509.9 320.1 L509.4 319.5 L509.0 318.9 L508.6 318.2 L508.2 317.6 L507.8 317.0 L507.4 316.3 L507.0 315.7 L506.7 315.0 L506.3 314.3 L506.0 313.7 L505.7 313.0 L505.4 312.3 L505.1 311.6 L504.8 310.9 L504.5 310.2 L504.2 309.5 L504.0 308.8 L503.8 308.1 L503.5 307.4 L503.3 306.6 L503.1 305.9 L503.0 305.2 L502.8 304.5 L502.6 303.7 L502.5 303.0 L502.4 302.3 L502.2 301.5 L502.1 300.8 L502.0 300.1 L501.9 299.3 L501.9 298.6 L501.8 297.8 L501.8 297.1 L501.7 296.4 L501.7 295.6 L501.7 294.9 L501.7 294.1 L501.7 293.4 L501.7 292.7 L501.8 291.9 L501.8 291.2 L501.9 290.4 L501.9 289.7 L502.0 289.0 L502.1 288.3 L502.2 287.5 L502.3 286.8 L502.4 286.1 L502.6 285.4 L502.7 284.6 L502.9 283.9 L503.0 283.2 L503.2 282.5 L503.4 281.8 L503.6 281.1 L503.8 280.4 L504.0 279.7 L504.2 279.0 L504.4 278.3 L504.7 277.6 L504.9 277.0 L505.2 276.3 L505.4 275.6 L505.7 274.9 L506.0 274.3 L506.3 273.6 L506.6 273.0 L506.9 272.3 L507.2 271.7 L507.5 271.0 L507.9 270.4 L508.2 269.7 L508.5 269.1 L508.9 268.5 L509.2 267.8 L509.6 267.2 L510.0 266.6 L510.4 266.0 L510.7 265.4 L511.1 264.8 L511.5 264.2 L511.9 263.6 L512.4 263.0 L512.8 262.4 L513.2 261.8 L513.6 261.2 L514.1 260.7 L514.5 260.1 L515.0 259.5 L515.4 259.0 L515.9 258.4 L516.4 257.9 L516.8 257.3 L517.3 256.8 L517.8 256.2 L518.3 255.7 L518.8 255.1 L519.4 254.6 L519.9 254.1 L520.4 253.6 L521.0 253.1 L521.5 252.6 L522.1 252.1 L522.6 251.6 L523.2 251.1 L523.8 250.6 L524.4 250.1 L525.0 249.7 L525.6 249.2 L526.2 248.8 L526.8 248.3 L527.4 247.9 L528.1 247.5 L528.7 247.1 L529.4 246.7 L530.0 246.3 L530.7 245.9 L531.4 245.6 L532.1 245.2 L532.8 244.9 L533.5 244.5 L534.2 244.2 L534.9 243.9 L535.6 243.6 L536.3 243.4 L537.1 243.1 L537.8 242.8 L538.6 242.6 L539.3 242.4 L540.1 242.2 L540.8 242.0 L541.6 241.8 L542.4 241.7 L543.1 241.6 L543.9 241.4 L544.7 241.3 L545.5 241.2 L546.3 241.2 L547.0 241.1 L547.8 241.1 L548.6 241.1 L549.4 241.1 L550.2 241.1 L551.0 241.1 L551.7 241.2 L552.5 241.2 L553.3 241.3 L554.1 241.4 L554.8 241.5 L555.6 241.6 L556.4 241.8 L557.1 241.9 L557.9 242.1 L558.7 242.3 L559.4 242.5 L560.1 242.7 L560.9 242.9 L561.6 243.1 L562.4 243.4 L563.1 243.6 L563.8 243.9 L564.5 244.2 L565.2 244.5 L565.9 244.8 L566.6 245.1 L567.3 245.4 L568.0 245.8 L568.7 246.1 L569.4 246.5 L570.0 246.8 L570.7 247.2 L571.3 247.6 L572.0 248.0 L572.6 248.4 L573.2 248.8 L573.9 249.2 L574.5 249.6 L575.1 250.0 L575.7 250.5 L576.3 250.9 L576.9 251.3 L577.5 251.8 L578.1 252.3 L578.6 252.7 L579.2 253.2 L579.8 253.7 L580.3 254.2 L580.9 254.7 L581.4 255.2 L581.9 255.7 L582.5 256.2 L583.0 256.7 L583.5 257.3 L584.0 257.8 L584.5 258.4 L585.0 258.9 L585.5 259.5 L585.9 260.0 L586.4 260.6 L586.9 261.2 L587.3 261.7 L587.7 262.3 L588.2 262.9 L588.6 263.5 L589.0 264.1 L589.4 264.7 L589.8 265.3 L590.2 265.9 L590.6 266.5 L591.0 267.2 L591.4 267.8 L591.8 268.4 L592.1 269.0 L592.5 269.7 L592.8 270.3 L593.1 271.0 L593.5 271.6 L593.8 272.3 L594.1 273.0 L594.4 273.6 L594.7 274.3 L595.0 275.0 L595.2 275.6 L595.5 276.3 L595.8 277.0 L596.0 277.7 L596.2 278.4 L596.5 279.1 L596.7 279.8 L596.9 280.5 L597.1 281.2 L597.3 281.9 L597.5 282.6 L597.7 283.3 L597.9 284.1 L598.0 284.8 L598.2 285.5 L598.3 286.2 L598.5 287.0 L598.6 287.7 L598.7 288.4 L598.8 289.2 L598.9 289.9 L599.0 290.7 L599.1 291.4 L599.1 292.2 L599.2 292.9 L599.3 293.7 L599.3 294.4 L599.3 295.2 L599.4 295.9 L599.4 296.7 L599.4 297.4 L599.4 298.2 L599.4 299.0 L599.3 299.7 L599.3 300.5 L599.3 301.3 L599.2 302.0 L599.1 302.8 L599.1 303.6 L599.0 304.3 L598.9 305.1 L598.8 305.9 L598.7 306.7 L598.5 307.4 L598.4 308.2 L598.3 309.0 L598.1 309.7 L597.9 310.5 L597.8 311.3 L597.6 312.1 L597.4 312.8 L597.2 313.6 L597.0 314.4 L596.7 315.1 L596.5 315.9 L596.2 316.7 L596.0 317.5 L595.7 318.2 L595.4 319.0 L595.1 319.8 L594.8 320.5 L594.5 321.3 L594.2 322.0 L593.9 322.8 L593.5 323.6 L593.1 324.3 L592.8 325.1 L592.4 325.8 L592.0 326.6 L591.6 327.3 L591.2 328.1 L590.8 328.8 L590.3 329.5 L589.9 330.3 L589.4 331.0 L588.9 331.7 L588.5 332.4 L588.0 333.2 L587.5 333.9 L586.9 334.6 L586.4 335.3 L585.9 336.0 L585.3 336.7 L584.8 337.4 L584.2 338.1 L583.6 338.8 L583.0 339.4 L582.4 340.1 L581.8 340.8 L581.1 341.5 L580.5 342.1 L579.8 342.8 L579.2 343.4 L578.5 344.1 L577.8 344.7 L577.1 345.3 L576.4 345.9 L575.7 346.6 L575.0 347.2 L574.2 347.8 L573.5 348.4 L572.7 349.0 L571.9 349.6 L571.1 350.1 L570.3 350.7 L569.5 351.3 L568.7 351.8 L567.9 352.4 L567.0 352.9 L566.2 353.5 L565.3 354.0 L564.4 354.5 L563.5 355.0 L562.6 355.5 L561.7 356.0 L560.8 356.5 L559.8 357.0 L558.9 357.5 L557.9 357.9 L557.0 358.4 L556.0 358.8 L555.0 359.2 L554.0 359.7 L553.0 360.1 L551.9 360.5 L550.9 360.9 L549.8 361.3 L548.8 361.6 L547.7 362.0 L546.6 362.3 L545.5 362.7 L544.4 363.0 L543.3 363.3 L542.2 363.6 L541.0 363.9 L539.9 364.2 L538.7 364.5 L537.5 364.7 L536.3 365.0 L535.1 365.2 L533.9 365.4 L532.7 365.6 L531.4 365.8 L530.2 366.0 L528.9 366.2 L527.6 366.3 L526.4 366.5 L525.1 366.6 L523.7 366.8 L522.4 366.9 L521.1 367.0 L519.7 367.1 L518.3 367.2 L516.9 367.2 L515.5 367.3 L514.1 367.3 L512.7 367.4 L511.2 367.4 L509.7 367.4 L508.3 367.4 L506.8 367.4 L505.2 367.4 L503.7 367.3 L502.1 367.3 L500.5 367.2 L498.9 367.1 L497.3 367.0 L495.7 366.8 L494.1 366.7 L492.4 366.5 L490.7 366.3 L489.0 366.1 L487.3 365.8 L485.6 365.5 L483.8 365.3 L482.0 364.9 L480.3 364.6 L478.5 364.2 L476.6 363.8 L474.8 363.4 L473.0 362.9 L471.2 362.4 L469.3 361.9 L467.4 361.3 L465.5 360.7 L463.6 360.1 L461.7 359.4 L459.8 358.7 L457.9 358.0 L456.0 357.2 L454.0 356.4 L452.1 355.5 L450.2 354.6 L448.2 353.7 L446.3 352.7 L444.3 351.7 L442.3 350.6 L440.3 349.5 L438.2 348.3 L436.1 347.1 L434.1 345.8 L432.1 344.6 L430.3 343.3 L428.7 342.1 L427.2 340.9 L425.8 339.7 L424.6 338.5 L423.5 337.3 L422.5 336.2 L421.5 335.0 L420.4 333.9 L419.3 332.7 L418.1 331.5 L416.8 330.3 L415.5 329.1 L414.2 327.9 L412.9 326.7 L411.7 325.5 L410.4 324.2 L409.3 323.0 L408.1 321.7 L407.0 320.4 L405.9 319.0 L404.9 317.7 L403.9 316.4 L403.0 315.2 L402.1 314.1 L401.3 313.2 L400.5 312.4 L399.8 311.7 L399.2 311.1 L398.7 310.5 L398.2 310.1 L397.6 309.7 L397.1 309.3 L396.5 308.9 L395.8 308.5 L395.2 308.1 L394.4 307.8 L393.7 307.6 L393.0 307.3 L392.2 307.0 L391.4 306.7 L390.8 306.5 L390.1 306.5 L389.1 306.2 L388.4 305.9 L387.7 305.6 L386.9 305.4 L386.3 305.2 L385.6 305.1 L385.0 305.0 L384.3 305.0 L383.6 305.1 L382.9 305.2 L382.1 305.3 L381.4 305.5 L380.8 305.8 L380.1 306.0 L379.5 306.4 L378.9 306.7 L378.3 307.2 L377.7 307.7 L377.2 308.2 L376.6 308.7 L376.1 309.3 L375.7 309.9 L375.4 310.5 L375.1 311.1 L374.8 311.7 L374.6 312.4 L374.4 313.1 L374.3 313.8 L374.2 314.6 L374.2 315.2 L374.3 315.9 L374.4 316.4 L374.6 317.0 L374.9 317.6 L375.3 318.3 L375.7 318.9 L376.1 319.6 L376.6 320.4Z" fill="#d99afd"/>
<path d="M392 294 L393.5 306 L400 306 L400.5 294Z" fill="#d99afd"/>
<path d="M402.5 248.4 L403.4 248.3 L404.3 248.3 L405.2 248.3 L406.2 248.4 L407.2 248.5 L408.2 248.8 L409.2 249.0 L410.2 249.3 L411.1 249.7 L412.1 250.1 L413.0 250.5 L413.8 251.0 L414.6 251.5 L415.4 252.2 L416.2 252.8 L417.0 253.5 L417.8 254.3 L418.5 255.1 L419.2 256.0 L419.8 256.9 L420.5 257.8 L421.0 258.7 L421.5 259.7 L422.0 260.6 L422.4 261.6 L422.7 262.6 L423.0 263.6 L423.3 264.7 L423.5 265.8 L423.7 266.9 L423.8 268.1 L423.9 269.2 L424.0 270.4 L424.0 271.5 L424.0 272.7 L424.0 273.8 L424.0 274.9 L423.9 276.1 L423.8 277.3 L423.6 278.5 L423.4 279.7 L423.2 280.9 L423.0 282.1 L422.7 283.3 L422.4 284.4 L422.1 285.5 L421.7 286.5 L421.3 287.5 L420.9 288.4 L420.4 289.4 L419.9 290.3 L419.4 291.1 L418.8 292.0 L418.2 292.8 L417.6 293.6 L416.9 294.3 L416.2 295.0 L415.5 295.6 L414.8 296.1 L414.0 296.6 L413.2 297.0 L412.4 297.4 L411.5 297.7 L410.6 297.9 L409.7 298.1 L408.7 298.2 L407.8 298.3 L406.7 298.4 L405.7 298.4 L404.7 298.4 L403.6 298.4 L402.5 298.3 L401.3 298.2 L400.1 298.1 L398.8 297.9 L397.5 297.7 L396.1 297.5 L394.8 297.2 L393.4 296.9 L392.1 296.6 L390.8 296.2 L389.6 295.8 L388.5 295.3 L387.5 294.8 L386.6 294.2 L385.8 293.6 L385.0 292.9 L384.2 292.2 L383.6 291.4 L382.9 290.6 L382.3 289.8 L381.8 288.9 L381.3 288.1 L380.8 287.2 L380.4 286.4 L380.0 285.6 L379.6 284.8 L379.3 284.0 L379.0 283.2 L378.7 282.4 L378.5 281.6 L378.3 280.9 L378.2 280.0 L378.1 279.2 L378.1 278.4 L378.1 277.6 L378.1 276.8 L378.2 276.0 L378.3 275.2 L378.5 274.4 L378.8 273.6 L379.1 272.8 L379.4 272.0 L379.8 271.1 L380.2 270.3 L380.7 269.5 L381.2 268.7 L381.8 267.8 L382.4 266.9 L383.0 266.0 L383.7 265.0 L384.5 264.0 L385.4 263.0 L386.3 261.9 L387.3 260.8 L388.3 259.7 L389.3 258.6 L390.3 257.6 L391.3 256.6 L392.2 255.7 L393.2 254.8 L394.0 254.0 L394.8 253.3 L395.5 252.6 L396.2 252.0 L396.9 251.4 L397.6 250.8 L398.2 250.3 L398.9 249.8 L399.6 249.4 L400.2 249.1 L401.0 248.8 L401.7 248.6Z" fill="#c176fc"/>
<path d="M402.7 249.4 L403.4 249.3 L404.3 249.3 L405.1 249.3 L406.1 249.4 L407.0 249.5 L407.9 249.7 L408.9 250.0 L409.8 250.3 L410.8 250.6 L411.6 251.0 L412.5 251.4 L413.3 251.8 L414.0 252.4 L414.8 252.9 L415.6 253.6 L416.3 254.3 L417.0 255.0 L417.7 255.8 L418.4 256.6 L419.0 257.5 L419.6 258.3 L420.2 259.2 L420.7 260.1 L421.1 261.0 L421.5 261.9 L421.8 262.9 L422.1 263.9 L422.3 264.9 L422.5 266.0 L422.7 267.1 L422.8 268.2 L422.9 269.3 L423.0 270.4 L423.0 271.5 L423.0 272.7 L423.0 273.8 L423.0 274.9 L422.9 276.0 L422.8 277.2 L422.6 278.4 L422.5 279.5 L422.2 280.7 L422.0 281.9 L421.7 283.0 L421.4 284.1 L421.1 285.2 L420.8 286.2 L420.4 287.1 L420.0 288.0 L419.5 288.9 L419.0 289.8 L418.5 290.6 L418.0 291.4 L417.4 292.2 L416.8 292.9 L416.2 293.6 L415.6 294.2 L414.9 294.8 L414.2 295.3 L413.5 295.7 L412.8 296.1 L412.0 296.4 L411.2 296.7 L410.4 296.9 L409.5 297.1 L408.6 297.2 L407.7 297.3 L406.7 297.4 L405.7 297.4 L404.7 297.4 L403.6 297.4 L402.6 297.3 L401.4 297.2 L400.2 297.1 L399.0 296.9 L397.6 296.7 L396.3 296.5 L395.0 296.3 L393.6 296.0 L392.3 295.6 L391.1 295.2 L390.0 294.8 L388.9 294.4 L388.0 293.9 L387.2 293.4 L386.4 292.8 L385.7 292.2 L385.0 291.5 L384.3 290.8 L383.7 290.0 L383.2 289.2 L382.7 288.4 L382.2 287.6 L381.7 286.7 L381.3 285.9 L380.9 285.2 L380.5 284.4 L380.2 283.7 L379.9 282.9 L379.7 282.2 L379.5 281.4 L379.3 280.7 L379.2 279.9 L379.1 279.2 L379.1 278.4 L379.1 277.7 L379.1 276.9 L379.2 276.2 L379.3 275.4 L379.5 274.6 L379.7 273.9 L380.0 273.1 L380.3 272.4 L380.7 271.6 L381.1 270.8 L381.6 270.0 L382.1 269.2 L382.6 268.3 L383.2 267.5 L383.8 266.6 L384.5 265.7 L385.3 264.7 L386.1 263.6 L387.1 262.6 L388.0 261.5 L389.0 260.4 L390.0 259.3 L391.0 258.3 L392.0 257.3 L392.9 256.4 L393.8 255.5 L394.7 254.7 L395.5 254.0 L396.2 253.3 L396.9 252.7 L397.6 252.1 L398.2 251.6 L398.8 251.1 L399.4 250.7 L400.0 250.3 L400.7 250.0 L401.3 249.7 L401.9 249.5Z" fill="#d99afd"/>
<path d="M329.6 236.0 L329.8 234.8 L329.9 233.7 L330.1 232.5 L330.4 231.3 L330.6 230.1 L330.9 228.9 L331.2 227.7 L331.6 226.6 L332.0 225.5 L332.5 224.5 L333.0 223.4 L333.6 222.5 L334.2 221.6 L334.9 220.7 L335.6 219.9 L336.4 219.1 L337.2 218.3 L338.1 217.6 L339.0 216.9 L339.9 216.2 L340.9 215.6 L342.0 215.0 L343.1 214.5 L344.2 214.0 L345.4 213.6 L346.6 213.2 L347.9 212.9 L349.3 212.6 L350.7 212.3 L352.1 212.1 L353.6 211.9 L355.1 211.8 L356.6 211.7 L358.2 211.6 L359.7 211.5 L361.3 211.5 L362.9 211.5 L364.6 211.5 L366.4 211.5 L368.2 211.5 L370.0 211.6 L371.8 211.7 L373.7 211.8 L375.5 212.0 L377.2 212.2 L378.9 212.5 L380.5 212.8 L382.0 213.1 L383.4 213.5 L384.8 213.9 L386.1 214.4 L387.4 214.9 L388.7 215.4 L389.9 216.0 L391.0 216.6 L392.1 217.3 L393.1 218.0 L394.1 218.7 L395.1 219.5 L396.0 220.3 L396.8 221.2 L397.6 222.1 L398.4 223.1 L399.1 224.1 L399.7 225.2 L400.3 226.3 L400.9 227.4 L401.4 228.5 L401.9 229.7 L402.3 230.8 L402.7 231.9 L403.0 233.0 L403.3 234.1 L403.5 235.2 L403.7 236.4 L403.8 237.5 L403.8 238.7 L403.8 239.9 L403.8 241.0 L403.8 242.1 L403.8 243.2 L403.7 244.3 L403.6 245.3 L403.6 246.3 L403.6 247.2 L403.5 248.1 L403.4 248.9 L403.4 249.8 L403.3 250.5 L403.2 251.3 L403.0 252.0 L402.9 252.8 L402.7 253.5 L402.5 254.2 L402.3 254.9 L402.0 255.6 L401.7 256.3 L401.5 257.0 L401.4 257.6 L401.2 258.3 L401.0 258.9 L400.7 259.5 L400.4 260.2 L400.0 260.8 L399.4 261.4 L398.7 262.0 L397.9 262.6 L396.8 263.2 L395.5 263.8 L394.0 264.5 L392.2 265.2 L390.4 265.9 L388.4 266.6 L386.3 267.3 L384.1 267.9 L382.0 268.5 L379.8 269.1 L377.8 269.6 L375.8 270.0 L374.0 270.3 L372.3 270.5 L370.6 270.7 L368.9 270.7 L367.3 270.8 L365.7 270.7 L364.2 270.6 L362.6 270.5 L361.1 270.3 L359.5 270.1 L358.0 269.9 L356.5 269.7 L355.0 269.4 L353.5 269.1 L351.9 268.9 L350.3 268.6 L348.7 268.3 L347.1 267.9 L345.6 267.5 L344.1 267.1 L342.6 266.6 L341.2 266.1 L339.9 265.4 L338.7 264.8 L337.6 264.0 L336.6 263.1 L335.7 262.2 L334.8 261.1 L334.0 260.0 L333.3 258.8 L332.7 257.5 L332.1 256.3 L331.6 255.0 L331.1 253.7 L330.6 252.4 L330.3 251.2 L329.9 250.0 L329.6 248.8 L329.4 247.7 L329.2 246.5 L329.1 245.3 L329.0 244.1 L329.0 243.0 L329.0 241.8 L329.1 240.6 L329.2 239.5 L329.3 238.3 L329.5 237.1Z" fill="#c176fc"/>
<path d="M330.6 236.1 L330.8 235.0 L330.9 233.8 L331.1 232.6 L331.4 231.5 L331.6 230.3 L331.9 229.2 L332.2 228.0 L332.6 226.9 L333.0 225.9 L333.4 224.9 L333.9 223.9 L334.4 223.0 L335.0 222.2 L335.7 221.4 L336.4 220.6 L337.1 219.8 L337.9 219.0 L338.7 218.3 L339.6 217.7 L340.5 217.0 L341.4 216.4 L342.4 215.9 L343.5 215.4 L344.6 214.9 L345.7 214.5 L346.9 214.2 L348.2 213.8 L349.5 213.6 L350.8 213.3 L352.2 213.1 L353.7 212.9 L355.2 212.8 L356.7 212.7 L358.2 212.6 L359.8 212.5 L361.3 212.5 L362.9 212.5 L364.6 212.5 L366.4 212.5 L368.2 212.5 L370.0 212.6 L371.8 212.7 L373.6 212.8 L375.4 213.0 L377.1 213.2 L378.7 213.4 L380.3 213.7 L381.8 214.1 L383.1 214.4 L384.5 214.9 L385.8 215.3 L387.0 215.8 L388.2 216.3 L389.4 216.9 L390.5 217.5 L391.6 218.1 L392.6 218.8 L393.5 219.5 L394.4 220.2 L395.3 221.0 L396.1 221.8 L396.9 222.7 L397.6 223.7 L398.2 224.6 L398.9 225.7 L399.5 226.7 L400.0 227.8 L400.5 228.9 L400.9 230.0 L401.3 231.1 L401.7 232.2 L402.0 233.3 L402.3 234.3 L402.5 235.4 L402.7 236.5 L402.8 237.6 L402.8 238.7 L402.8 239.9 L402.8 241.0 L402.8 242.1 L402.8 243.2 L402.7 244.3 L402.6 245.3 L402.6 246.3 L402.6 247.2 L402.5 248.0 L402.4 248.9 L402.4 249.7 L402.3 250.4 L402.2 251.1 L402.1 251.9 L401.9 252.6 L401.7 253.2 L401.5 253.9 L401.3 254.6 L401.1 255.3 L400.8 256.0 L400.6 256.7 L400.4 257.4 L400.2 258.0 L400.0 258.6 L399.8 259.1 L399.5 259.6 L399.2 260.1 L398.7 260.7 L398.1 261.2 L397.3 261.7 L396.3 262.3 L395.1 262.9 L393.6 263.6 L391.9 264.3 L390.0 265.0 L388.0 265.7 L386.0 266.3 L383.8 267.0 L381.7 267.6 L379.6 268.1 L377.6 268.6 L375.6 269.0 L373.9 269.3 L372.2 269.5 L370.5 269.7 L368.9 269.7 L367.3 269.8 L365.8 269.7 L364.2 269.6 L362.7 269.5 L361.2 269.3 L359.7 269.1 L358.2 268.9 L356.7 268.7 L355.2 268.4 L353.6 268.1 L352.1 267.9 L350.5 267.6 L348.9 267.3 L347.4 266.9 L345.9 266.6 L344.4 266.1 L343.0 265.7 L341.6 265.1 L340.4 264.6 L339.2 263.9 L338.2 263.2 L337.3 262.4 L336.4 261.5 L335.6 260.5 L334.9 259.4 L334.2 258.3 L333.6 257.1 L333.0 255.9 L332.5 254.6 L332.0 253.4 L331.6 252.1 L331.2 250.9 L330.9 249.7 L330.6 248.6 L330.4 247.5 L330.2 246.4 L330.1 245.2 L330.0 244.1 L330.0 243.0 L330.0 241.8 L330.1 240.7 L330.2 239.6 L330.3 238.4 L330.4 237.3Z" fill="#d99afd"/>
<path d="M363.2 203 C364 209.5 366.2 214 370 216.3 C373 217.9 376.6 217 378.1 213 C378.9 210 379 206.5 378.7 203 Z" fill="#d99afd"/>
<path d="M363.7 207.5 C364.8 211.5 366.8 214.6 370 216.3 C373 217.9 376.6 217 378.1 213 C378.6 211.2 378.8 209.5 378.9 207.5" fill="none" stroke="#c176fc" stroke-width="1.0"/>
<path d="M329.0 230.5 L329.6 231.0 L330.2 231.6 L330.8 232.1 L331.4 232.6 L332.1 233.2 L332.7 233.7 L333.3 234.1 L334.0 234.6 L334.7 235.0 L335.4 235.4 L336.2 235.8 L336.9 236.2 L337.7 236.5 L338.4 236.9 L339.2 237.1 L340.0 237.4 L340.8 237.6 L341.6 237.8 L342.4 237.9 L343.2 238.0 L344.0 238.1 L344.9 238.2 L345.7 238.3 L346.5 238.4" fill="none" stroke="#c176fc" stroke-width="1.1" stroke-linecap="round"/>
<path d="M338.5 235.3 L338.8 235.4 L339.1 235.5 L339.4 235.6 L339.8 235.7 L340.1 235.8 L340.4 235.9 L340.7 235.9 L341.0 236.0 L341.3 236.1 L341.6 236.1 L341.9 236.1 L342.2 236.2 L342.6 236.2 L342.9 236.2 L343.2 236.3 L343.5 236.3" fill="none" stroke="#fff" stroke-opacity="0.8" stroke-width="1.2" stroke-linecap="round"/>
<path d="M299.3 96.0 L299.3 97.5 L299.2 99.0 L299.2 100.5 L299.1 101.9 L299.1 103.4 L299.0 104.9 L299.0 106.5 L299.0 108.0 L299.0 109.6 L299.0 111.2 L299.0 112.8 L299.1 114.4 L299.1 116.1 L299.1 117.7 L299.2 119.4 L299.2 121.0" fill="none" stroke="#fff" stroke-opacity="0.75" stroke-width="1.0" stroke-linecap="round"/>
<path d="M212.7 177.5 L213.4 176.7 L214.1 175.8 L214.8 175.0 L215.6 174.1 L216.3 173.3 L217.0 172.5 L217.7 171.7 L218.5 171.0 L219.3 170.3 L220.1 169.7 L220.9 169.1 L221.7 168.5 L222.5 167.9 L223.4 167.4 L224.2 166.8 L225.0 166.2" fill="none" stroke="#fff" stroke-opacity="0.55" stroke-width="1.0" stroke-linecap="round"/>
<path d="M226.5 215.5 L227.0 215.0 L227.5 214.5 L227.9 213.9 L228.4 213.4 L228.9 212.9 L229.4 212.4 L229.9 211.9 L230.5 211.5 L231.2 211.1 L231.9 210.8 L232.6 210.5 L233.4 210.2 L234.2 209.9 L235.0 209.6 L235.7 209.3 L236.5 209.0" fill="none" stroke="#fff" stroke-opacity="0.6" stroke-width="0.9" stroke-linecap="round"/>
<path d="M342.5 217.5 L343.3 217.2 L344.1 217.0 L344.8 216.7 L345.6 216.4 L346.4 216.2 L347.2 215.9 L348.0 215.7 L348.8 215.6 L349.5 215.5 L350.3 215.5 L351.1 215.5 L351.9 215.5 L352.7 215.5 L353.4 215.6 L354.2 215.6 L355.0 215.6" fill="none" stroke="#fff" stroke-opacity="0.8" stroke-width="1.3" stroke-linecap="round"/>
<path d="M366.2 200.6 L366.4 201.2 L366.5 201.7 L366.7 202.2 L366.8 202.8 L367.0 203.3 L367.1 203.9 L367.3 204.4 L367.5 205.0 L367.7 205.6 L367.9 206.1 L368.2 206.7 L368.4 207.2 L368.7 207.8 L368.9 208.3 L369.2 208.8 L369.4 209.4" fill="none" stroke="#fff" stroke-opacity="0.8" stroke-width="1.7" stroke-linecap="round"/>
<path d="M382.4 277.0 L382.5 277.6 L382.6 278.2 L382.7 278.9 L382.7 279.5 L382.8 280.1 L382.9 280.8 L383.1 281.4 L383.2 282.0 L383.4 282.6 L383.6 283.2 L383.8 283.9 L384.0 284.5 L384.3 285.1 L384.5 285.8 L384.8 286.4 L385.0 287.0" fill="none" stroke="#fff" stroke-opacity="0.8" stroke-width="1.4" stroke-linecap="round"/>
<path d="M377.6 319.0 L377.7 318.6 L377.8 318.1 L377.9 317.7 L377.9 317.2 L378.0 316.8 L378.1 316.4 L378.3 315.9 L378.4 315.5 L378.6 315.1 L378.8 314.6 L379.0 314.2 L379.2 313.8 L379.5 313.3 L379.7 312.9 L380.0 312.4 L380.2 312.0" fill="none" stroke="#fff" stroke-opacity="0.8" stroke-width="1.5" stroke-linecap="round"/>
<path d="M493.5 273.8 L493.4 274.9 L493.3 276.1 L493.1 277.2 L493.0 278.4 L492.9 279.5 L492.8 280.7 L492.7 281.8 L492.6 283.0 L492.5 284.2 L492.5 285.4 L492.4 286.6 L492.4 287.9 L492.4 289.1 L492.4 290.3 L492.3 291.6 L492.3 292.8" fill="none" stroke="#fff" stroke-opacity="0.8" stroke-width="1.9" stroke-linecap="round"/>
<path d="M325.8 276.0 L326.1 275.4 L326.4 274.8 L326.7 274.2 L327.0 273.6 L327.3 273.0 L327.6 272.4 L328.0 271.8 L328.3 271.3 L328.7 270.8 L329.1 270.3 L329.4 269.8 L329.9 269.3 L330.3 268.9 L330.7 268.4 L331.1 268.0 L331.5 267.5" fill="none" stroke="#fff" stroke-opacity="0.8" stroke-width="1.4" stroke-linecap="round"/>
<rect x="438.7" y="92.6" width="59" height="12.5" rx="3.2" fill="#e9584f"/>
<ellipse cx="497.4" cy="98.85" rx="2.5" ry="6.25" fill="#e9584f"/>
<ellipse cx="497.7" cy="98.7" rx="1.7" ry="4.1" fill="#d92d26"/>
<path d="M474.5 102.5 L474.4 103.6 L474.3 104.8 L474.2 105.9 L474.1 107.0 L473.9 108.2 L473.8 109.3 L473.7 110.5 L473.5 111.6 L473.4 112.7 L473.2 113.7 L473.1 114.6 L473.0 115.6 L472.8 116.6 L472.6 117.8 L472.4 119.1 L472.2 120.6 L472.0 122.5 L471.7 124.5 L471.5 126.6 L471.2 128.9 L470.9 131.2 L470.6 133.7 L470.2 136.1 L469.7 138.5 L469.2 141.1 L468.6 143.8 L468.0 146.6 L467.3 149.4 L466.6 152.3 L465.9 155.0 L465.3 157.7 L464.7 160.2 L464.1 162.5 L463.6 164.6 L463.1 166.7 L462.6 168.7 L462.1 170.6 L461.6 172.6 L461.2 174.5 L460.7 176.5 L460.6 177.0 L460.7 177.5 L460.9 178.0 L461.2 178.4 L461.6 178.7 L462.0 178.8 L462.5 178.9 L463.0 178.8 L463.5 178.6 L463.9 178.3 L464.2 177.9 L464.3 177.5 L464.9 175.5 L465.4 173.5 L465.9 171.6 L466.5 169.7 L467.0 167.7 L467.6 165.7 L468.1 163.5 L468.7 161.2 L469.4 158.7 L470.1 156.1 L470.8 153.3 L471.6 150.5 L472.3 147.6 L473.0 144.8 L473.7 142.1 L474.3 139.5 L474.8 136.9 L475.2 134.4 L475.6 131.9 L476.0 129.5 L476.3 127.2 L476.6 125.1 L476.9 123.1 L477.2 121.4 L477.4 119.8 L477.6 118.5 L477.7 117.3 L477.9 116.3 L478.0 115.3 L478.1 114.4 L478.3 113.4 L478.5 112.4 L478.7 111.3 L478.9 110.2 L479.2 109.1 L479.4 108.0 L479.7 106.8 L479.9 105.7 L480.2 104.6 L480.5 103.5Z" fill="#e9584f"/>
<path d="M474.0 113.1 L474.0 114.3 L474.0 115.6 L474.0 116.9 L473.9 118.2 L473.9 119.5 L474.0 120.8 L474.1 122.1 L474.2 123.4 L474.5 124.6 L474.8 125.8 L475.1 127.0 L475.5 128.1 L475.9 129.3 L476.4 130.3 L476.9 131.4 L477.6 132.4 L478.3 133.3 L479.1 134.1 L480.0 134.9 L480.8 135.6 L481.7 136.2 L482.6 136.7 L483.5 137.2 L484.5 137.7 L485.4 138.2 L486.5 138.6 L487.5 138.9 L488.6 139.2 L489.6 139.5 L490.7 139.7 L491.7 139.9 L492.6 140.1 L493.6 140.3 L494.6 140.3 L495.5 140.4 L496.4 140.4 L497.3 140.4 L498.1 140.3 L498.9 140.3 L499.7 140.3 L500.3 140.3 L500.8 140.1 L501.3 139.7 L501.7 139.2 L502.0 138.6 L502.0 138.0 L502.0 137.4 L501.8 136.9 L501.4 136.4 L500.9 136.0 L500.3 135.7 L499.7 135.7 L498.9 135.6 L498.0 135.6 L497.2 135.7 L496.4 135.7 L495.6 135.7 L494.9 135.6 L494.1 135.6 L493.4 135.5 L492.5 135.3 L491.6 135.1 L490.7 134.9 L489.8 134.7 L488.9 134.4 L488.1 134.2 L487.3 133.8 L486.5 133.5 L485.8 133.1 L485.0 132.7 L484.3 132.2 L483.6 131.8 L483.0 131.3 L482.4 130.8 L481.9 130.2 L481.4 129.6 L481.0 129.0 L480.6 128.2 L480.2 127.4 L479.9 126.5 L479.5 125.6 L479.3 124.6 L479.0 123.6 L478.8 122.6 L478.6 121.6 L478.4 120.5 L478.3 119.3 L478.3 118.1 L478.2 116.8 L478.1 115.5 L478.1 114.2 L478.0 112.9Z" fill="#e9584f"/>
<path d="M461.8 174.7 L461.2 175.2 L460.7 175.7 L460.1 176.2 L459.6 176.8 L459.1 177.3 L458.5 177.8 L457.9 178.3 L457.2 178.9 L456.4 179.5 L455.7 180.1 L454.9 180.7 L454.1 181.3 L453.2 182.0 L452.3 182.6 L451.3 183.4 L450.1 184.2 L448.8 185.0 L447.4 186.0 L445.9 187.0 L444.3 188.0 L442.6 189.1 L441.0 190.1 L439.3 191.2 L437.8 192.1 L436.2 193.1 L434.6 194.0 L432.9 195.0 L431.2 195.9 L429.6 196.8 L428.1 197.7 L426.7 198.5 L425.4 199.2 L424.3 199.8 L423.4 200.3 L422.6 200.8 L421.8 201.2 L421.1 201.5 L420.4 201.9 L419.6 202.3 L418.9 202.7 L420.3 205.5 L421.1 205.1 L421.8 204.7 L422.6 204.4 L423.3 204.0 L424.0 203.6 L424.9 203.1 L425.9 202.6 L427.0 202.0 L428.3 201.3 L429.7 200.5 L431.2 199.6 L432.8 198.7 L434.5 197.8 L436.2 196.8 L437.8 195.8 L439.4 194.9 L441.0 193.9 L442.7 192.9 L444.3 191.8 L446.0 190.7 L447.6 189.7 L449.1 188.7 L450.6 187.7 L451.9 186.8 L453.1 186.0 L454.2 185.3 L455.1 184.6 L456.0 183.9 L456.9 183.3 L457.7 182.7 L458.5 182.1 L459.2 181.5 L460.0 180.9 L460.7 180.4 L461.3 179.8 L461.9 179.3 L462.5 178.8 L463.0 178.3 L463.6 177.8 L464.2 177.3 L464.5 177.0 L464.7 176.6 L464.8 176.1 L464.8 175.6 L464.6 175.2 L464.3 174.8 L464.0 174.5 L463.6 174.3 L463.1 174.2 L462.6 174.2 L462.2 174.4Z" fill="#e9584f"/>
<path d="M413.3 205.3 L413.0 205.4 L412.9 205.5 L412.7 205.6 L412.5 205.7 L412.3 205.8 L412.0 205.9 L411.7 206.1 L411.2 206.3 L410.7 206.6 L410.1 206.9 L409.5 207.2 L408.8 207.6 L408.0 208.0 L407.3 208.4 L406.5 208.8 L405.8 209.2 L405.1 209.6 L404.4 210.0 L403.8 210.5 L403.1 210.9 L402.5 211.3 L401.8 211.7 L401.1 212.0 L400.5 212.4 L399.7 212.7 L398.9 213.1 L398.0 213.4 L397.1 213.7 L396.2 214.0 L395.3 214.3 L394.4 214.6 L393.7 214.9 L393.0 215.1 L392.5 215.4 L392.2 215.5 L391.9 215.7 L391.6 215.8 L391.2 215.9 L390.7 216.1 L389.9 216.3 L388.9 216.5 L387.7 216.7 L386.3 217.0 L384.9 217.2 L383.4 217.5 L381.9 217.7 L380.5 217.9 L379.2 218.1 L378.0 218.1 L376.9 218.2 L375.9 218.2 L374.8 218.1 L373.6 218.1 L372.4 218.2 L371.1 218.3 L369.8 218.5 L368.3 218.8 L366.7 219.2 L365.2 219.7 L363.6 220.3 L362.0 220.8 L360.4 221.3 L358.8 221.8 L357.2 222.1 L355.6 222.5 L353.9 222.8 L352.2 223.1 L350.5 223.4 L348.8 223.6 L347.2 223.8 L345.8 223.9 L344.4 224.0 L343.2 223.9 L342.1 223.8 L341.1 223.6 L340.1 223.4 L339.2 223.1 L338.2 222.8 L337.3 222.5 L336.4 222.2 L335.5 221.9 L334.6 221.7 L333.8 221.4 L333.0 221.1 L332.3 220.8 L331.5 220.5 L330.7 220.1 L329.8 219.8 L329.5 219.8 L329.2 219.8 L328.9 219.9 L328.6 220.0 L328.4 220.3 L328.2 220.6 L328.2 220.9 L328.2 221.2 L328.3 221.5 L328.4 221.8 L328.7 222.0 L329.0 222.2 L329.8 222.5 L330.6 222.8 L331.3 223.1 L332.1 223.4 L333.0 223.7 L333.8 224.0 L334.7 224.3 L335.6 224.6 L336.6 224.9 L337.5 225.2 L338.4 225.5 L339.5 225.8 L340.6 226.0 L341.7 226.3 L343.0 226.4 L344.4 226.4 L345.9 226.4 L347.5 226.3 L349.1 226.1 L350.9 225.9 L352.6 225.6 L354.4 225.3 L356.1 225.0 L357.8 224.7 L359.4 224.3 L361.1 223.8 L362.8 223.3 L364.4 222.8 L366.0 222.3 L367.5 221.8 L368.9 221.4 L370.2 221.1 L371.5 220.9 L372.6 220.9 L373.7 220.8 L374.7 220.8 L375.8 220.8 L376.9 220.9 L378.1 220.8 L379.4 220.7 L380.8 220.6 L382.3 220.4 L383.8 220.2 L385.3 220.0 L386.8 219.8 L388.2 219.5 L389.4 219.3 L390.5 219.1 L391.4 218.9 L392.0 218.8 L392.6 218.6 L393.0 218.4 L393.4 218.2 L393.8 218.1 L394.2 217.9 L394.7 217.7 L395.4 217.5 L396.2 217.2 L397.1 216.9 L398.1 216.6 L399.0 216.3 L400.0 215.9 L400.9 215.6 L401.7 215.2 L402.6 214.8 L403.3 214.4 L404.1 214.0 L404.8 213.6 L405.4 213.1 L406.1 212.7 L406.7 212.4 L407.4 212.0 L408.1 211.6 L408.8 211.3 L409.5 210.9 L410.3 210.5 L411.0 210.2 L411.6 209.8 L412.2 209.5 L412.8 209.3 L413.2 209.1 L413.5 208.9 L413.7 208.8 L413.9 208.7 L414.1 208.6 L414.3 208.5 L414.5 208.4 L414.7 208.3Z" fill="#e9584f"/>
<path d="M357.0 223.8 L356.0 224.5 L355.0 225.1 L353.9 225.8 L352.9 226.5 L351.9 227.1 L350.9 227.8 L349.9 228.4 L349.0 229.0 L348.1 229.6 L347.3 230.2 L346.4 230.7 L345.6 231.3 L344.8 231.8 L344.1 232.3 L343.3 232.7 L342.5 233.0 L341.7 233.3 L340.9 233.5 L340.2 233.6 L339.4 233.7 L338.7 233.8 L337.9 233.8 L337.2 233.8 L336.5 233.7 L335.8 233.6 L335.2 233.4 L334.6 233.1 L333.9 232.8 L333.3 232.5 L332.7 232.2 L332.1 231.9 L331.5 231.6" fill="none" stroke="#e9584f" stroke-width="2.5" stroke-linecap="round" stroke-linejoin="round"/>
<path d="M461.1 174.8 L461.0 176.1 L460.8 177.4 L460.7 178.7 L460.5 180.0 L460.4 181.4 L460.3 182.8 L460.2 184.2 L460.3 185.6 L460.4 187.0 L460.6 188.4 L460.9 189.8 L461.2 191.2 L461.5 192.6 L461.9 194.0 L462.4 195.4 L462.8 196.8 L463.4 198.1 L463.9 199.5 L464.5 200.8 L465.1 202.2 L465.8 203.6 L466.6 205.0 L467.4 206.4 L468.3 207.7 L469.4 209.1 L470.4 210.5 L471.6 212.0 L472.8 213.4 L474.1 214.8 L475.5 216.2 L477.0 217.5 L478.5 218.8 L480.2 220.0 L482.1 221.2 L484.0 222.3 L486.0 223.3 L487.9 224.3 L489.7 225.2 L491.4 226.1 L492.9 226.9 L494.2 227.7 L495.4 228.4 L496.5 229.1 L497.4 229.7 L498.3 230.2 L499.0 230.8 L499.7 231.4 L500.3 232.0 L500.8 232.7 L501.3 233.4 L501.7 234.2 L502.0 234.9 L502.2 235.7 L502.4 236.5 L502.6 237.3 L502.7 238.1 L502.8 239.0 L502.7 239.8 L502.7 240.7 L502.6 241.6 L502.4 242.5 L502.1 243.5 L501.9 244.5 L501.5 245.5 L501.2 246.5 L500.7 247.6 L500.2 248.7 L499.7 249.8 L499.1 250.9 L498.5 252.1 L497.8 253.2 L497.2 254.2 L496.6 255.2 L495.9 256.2 L495.3 257.2 L494.6 258.2 L493.9 259.2 L493.1 260.2 L492.4 261.2 L491.8 262.2 L491.2 263.2 L490.5 264.2 L489.9 265.1 L489.3 266.1 L488.7 267.1 L488.1 268.2 L487.6 269.3 L487.1 270.5 L486.7 271.7 L486.3 273.0 L486.0 274.3 L485.8 275.6 L485.6 276.9 L485.4 278.3 L485.2 279.6 L485.1 280.8 L484.9 282.0 L484.8 283.2 L484.7 284.3 L484.6 285.4 L484.5 286.6 L484.4 287.9 L484.4 289.4 L484.5 291.0 L484.5 292.9 L484.5 294.9 L484.6 297.2 L484.7 299.5 L484.8 301.9 L485.0 304.3 L485.3 306.7 L485.7 308.9 L486.1 311.1 L486.6 313.3 L487.2 315.6 L487.8 317.7 L488.5 319.9 L489.3 322.0 L490.1 324.0 L491.0 325.9 L492.1 327.7 L493.1 329.4 L494.3 331.1 L495.5 332.6 L496.8 334.1 L498.2 335.6 L499.6 337.0 L501.2 338.3 L502.8 339.6 L504.7 340.9 L506.6 342.1 L508.6 343.2 L510.6 344.2 L512.5 345.2 L514.3 346.1 L516.0 346.8 L517.6 347.4 L519.0 347.9 L520.4 348.2 L521.7 348.4 L523.0 348.6 L524.2 348.8 L525.4 349.0 L526.6 349.3 L527.2 346.7 L525.9 346.5 L524.6 346.3 L523.4 346.1 L522.2 345.9 L521.0 345.7 L519.7 345.4 L518.4 345.0 L517.0 344.4 L515.4 343.7 L513.6 342.9 L511.8 341.9 L509.8 340.9 L507.9 339.8 L506.1 338.7 L504.4 337.5 L502.8 336.3 L501.4 335.0 L500.0 333.7 L498.7 332.4 L497.5 331.0 L496.4 329.5 L495.3 328.0 L494.3 326.4 L493.4 324.7 L492.5 322.9 L491.7 321.0 L491.0 319.0 L490.3 317.0 L489.7 314.9 L489.2 312.7 L488.7 310.6 L488.3 308.5 L488.0 306.3 L487.7 304.0 L487.5 301.7 L487.4 299.4 L487.3 297.1 L487.2 294.9 L487.2 292.8 L487.1 291.0 L487.1 289.4 L487.1 288.0 L487.2 286.7 L487.2 285.6 L487.3 284.5 L487.4 283.5 L487.6 282.4 L487.7 281.2 L487.9 279.9 L488.1 278.6 L488.3 277.4 L488.5 276.1 L488.7 274.9 L489.0 273.7 L489.3 272.6 L489.7 271.5 L490.1 270.5 L490.6 269.5 L491.1 268.6 L491.7 267.6 L492.3 266.7 L492.9 265.7 L493.6 264.8 L494.2 263.8 L494.9 262.8 L495.5 261.9 L496.2 260.9 L496.9 259.9 L497.7 258.9 L498.4 257.9 L499.1 256.9 L499.8 255.8 L500.4 254.7 L501.1 253.5 L501.7 252.4 L502.4 251.2 L503.0 250.0 L503.5 248.8 L504.0 247.7 L504.5 246.5 L504.8 245.4 L505.2 244.3 L505.4 243.2 L505.7 242.1 L505.8 241.1 L505.9 240.0 L506.0 238.9 L505.9 237.9 L505.8 236.8 L505.6 235.8 L505.3 234.8 L505.0 233.8 L504.5 232.8 L504.0 231.8 L503.4 230.9 L502.7 230.0 L501.9 229.1 L501.1 228.3 L500.2 227.6 L499.2 227.0 L498.2 226.3 L497.1 225.6 L495.9 224.9 L494.5 224.1 L493.0 223.2 L491.3 222.3 L489.4 221.3 L487.5 220.4 L485.6 219.4 L483.7 218.3 L482.0 217.3 L480.5 216.2 L479.1 215.0 L477.8 213.8 L476.5 212.5 L475.3 211.2 L474.1 209.9 L473.0 208.5 L472.0 207.2 L471.1 205.9 L470.2 204.6 L469.4 203.3 L468.7 202.0 L468.1 200.8 L467.5 199.5 L466.9 198.2 L466.4 196.9 L466.0 195.6 L465.5 194.3 L465.1 193.1 L464.7 191.8 L464.4 190.5 L464.2 189.2 L463.9 187.9 L463.8 186.6 L463.7 185.4 L463.7 184.2 L463.7 183.0 L463.9 181.7 L464.1 180.5 L464.3 179.2 L464.5 177.9 L464.7 176.5 L464.9 175.2 L464.9 174.7 L464.7 174.2 L464.5 173.8 L464.1 173.5 L463.7 173.2 L463.2 173.1 L462.7 173.1 L462.2 173.3 L461.8 173.5 L461.5 173.9 L461.2 174.3Z" fill="#e9584f"/>
<path d="M532.0 348.4 L533.6 348.4 L535.2 348.5 L536.8 348.5 L538.4 348.6 L540.0 348.6 L541.5 348.6 L543.0 348.6 L544.3 348.4 L545.6 348.3 L546.8 348.0 L547.9 347.8 L549.0 347.5 L550.0 347.1 L551.0 346.8 L552.0 346.4 L553.1 346.0 L554.1 345.6 L555.1 345.2 L556.1 344.8 L557.1 344.3 L558.1 343.9 L559.1 343.4 L560.0 342.9 L561.0 342.4 L561.9 341.9 L562.8 341.4 L563.7 340.8 L564.5 340.3 L565.4 339.7 L566.2 339.1 L567.1 338.5 L567.9 337.9 L568.7 337.3 L569.4 336.7 L570.2 336.1 L570.9 335.4 L571.7 334.7 L572.4 334.1 L573.1 333.4 L573.7 332.7 L574.4 332.0 L575.1 331.3 L575.7 330.6 L576.3 329.9 L576.9 329.2 L577.5 328.4 L578.0 327.7 L578.6 327.0 L579.1 326.2 L579.6 325.5 L580.1 324.7 L580.6 323.9 L581.0 323.2 L581.5 322.4 L581.9 321.6 L582.3 320.8 L582.7 320.1 L583.1 319.3 L583.5 318.5 L583.8 317.7 L584.2 316.9 L584.5 316.1 L584.8 315.3 L585.1 314.5 L585.3 313.8 L585.6 313.0 L585.8 312.2 L586.1 311.4 L586.3 310.6 L586.5 309.8 L586.6 309.0 L586.8 308.2 L587.0 307.4 L587.1 306.6 L587.2 305.8 L587.3 305.0 L587.4 304.3 L587.5 303.5 L587.6 302.7 L587.7 301.9 L587.7 301.1 L587.7 300.4 L587.7 299.6 L587.7 298.8 L587.7 298.1 L587.7 297.3 L587.7 296.5 L587.6 295.8 L587.6 295.0 L587.5 294.3 L587.4 293.5 L587.3 292.8 L587.2 292.1 L587.1 291.3 L587.0 290.6 L586.9 289.9 L586.7 289.2 L586.6 288.5 L586.4 287.8 L586.2 287.1 L586.0 286.4 L585.8 285.7 L585.6 285.0 L585.4 284.3 L585.2 283.6 L584.9 283.0 L584.7 282.3 L584.4 281.6 L584.1 281.0 L583.8 280.3 L583.6 279.7 L583.3 279.1 L582.9 278.4 L582.6 277.8 L582.3 277.2 L582.0 276.6 L581.6 276.0 L581.3 275.4 L580.9 274.8 L580.5 274.2 L580.2 273.6 L579.8 273.0 L579.4 272.5 L579.0 271.9 L578.6 271.3 L578.1 270.8 L577.7 270.2 L577.3 269.7 L576.8 269.2 L576.4 268.6 L575.9 268.1 L575.5 267.6 L575.0 267.1 L574.5 266.6 L574.0 266.1 L573.5 265.7 L573.0 265.2 L572.5 264.7 L572.0 264.3 L571.4 263.8 L570.9 263.4 L570.3 262.9 L569.8 262.5 L569.2 262.1 L568.6 261.7 L568.1 261.3 L567.5 260.9 L566.9 260.6 L566.3 260.2 L565.7 259.8 L565.1 259.5 L564.4 259.2 L563.8 258.9 L563.2 258.6 L562.5 258.3 L561.9 258.0 L561.2 257.7 L560.6 257.4 L559.9 257.2 L559.2 257.0 L558.5 256.7 L557.9 256.5 L557.2 256.3 L556.5 256.2 L555.8 256.0 L555.1 255.8 L554.4 255.7 L553.7 255.6 L553.0 255.5 L552.2 255.4 L551.5 255.3 L550.8 255.2 L550.1 255.2 L549.3 255.1 L548.6 255.1 L547.9 255.1 L547.2 255.1 L546.4 255.1 L545.7 255.2 L545.0 255.2 L544.3 255.3 L543.5 255.4 L542.8 255.5 L542.1 255.6 L541.4 255.8 L540.7 255.9 L540.0 256.1 L539.3 256.3 L538.5 256.5 L537.9 256.7 L537.2 257.0 L536.5 257.2 L535.8 257.5 L535.1 257.8 L534.5 258.1 L533.8 258.4 L533.1 258.7 L532.5 259.1 L531.9 259.4 L531.2 259.8 L530.6 260.2 L530.0 260.6 L529.4 261.0 L528.8 261.4 L528.2 261.9 L527.6 262.3 L527.1 262.8 L526.5 263.3 L526.0 263.7 L525.4 264.2 L524.9 264.7 L524.4 265.3 L523.9 265.8 L523.4 266.3 L522.9 266.9 L522.5 267.4 L522.0 268.0 L521.6 268.6 L521.1 269.2 L520.7 269.7 L520.3 270.3 L519.9 271.0 L519.5 271.6 L519.2 272.2 L518.8 272.8 L518.5 273.4 L518.1 274.1 L517.8 274.7 L517.5 275.4 L517.2 276.0 L516.9 276.7 L516.7 277.3 L516.4 278.0 L516.2 278.7 L515.9 279.4 L515.7 280.0 L515.5 280.7 L515.3 281.4 L515.1 282.1 L515.0 282.8 L514.8 283.5 L514.7 284.2 L514.5 284.9 L514.4 285.6 L514.3 286.3 L514.2 287.0 L514.1 287.7 L514.0 288.4 L514.0 289.1 L513.9 289.8 L513.9 290.5 L513.9 291.2 L513.8 291.9 L513.8 292.6 L513.8 293.3 L513.9 294.1 L513.9 294.8 L513.9 295.5 L514.0 296.2 L514.1 296.9 L514.2 297.6 L514.3 298.3 L514.4 299.0 L514.5 299.7 L514.6 300.4 L514.8 301.1 L515.0 301.8 L515.2 302.5 L515.4 303.2 L515.6 303.9 L515.8 304.5 L516.1 305.2 L516.3 305.9 L516.6 306.5 L516.9 307.2 L517.3 307.8 L517.6 308.4 L517.9 309.1 L518.3 309.7 L518.7 310.3 L519.1 310.8 L519.5 311.4 L520.0 312.0 L520.4 312.5 L520.9 313.1 L521.4 313.6 L521.9 314.1 L522.4 314.6 L522.9 315.0 L523.5 315.5 L524.0 315.9 L524.6 316.3 L525.2 316.7 L525.7 317.1 L526.3 317.5 L526.9 317.8 L527.6 318.2 L528.2 318.5 L528.8 318.8 L529.4 319.0 L530.1 319.3 L530.7 319.5 L531.4 319.8 L532.0 320.0 L532.7 320.2 L533.3 320.3 L534.0 320.5 L534.6 320.6 L535.3 320.7 L535.9 320.8 L536.6 320.9 L537.2 321.0 L537.9 321.0 L538.5 321.1 L539.2 321.1 L539.8 321.1 L540.5 321.1 L541.1 321.1 L541.7 321.0 L542.4 321.0 L543.0 320.9 L543.6 320.9 L544.2 320.8 L544.8 320.7 L545.4 320.5 L546.0 320.4 L546.6 320.3 L547.2 320.1 L547.7 320.0 L548.3 319.8 L548.9 319.6 L549.4 319.4 L549.9 319.2 L550.5 319.0 L551.0 318.7 L551.5 318.5 L552.0 318.2 L552.5 318.0 L553.0 317.7 L553.5 317.4 L553.9 317.1 L554.4 316.8 L554.8 316.5 L555.3 316.2 L555.7 315.9 L556.1 315.6 L556.5 315.3 L556.9 314.9 L557.3 314.6 L557.7 314.2 L558.0 313.9 L558.4 313.5 L558.7 313.1 L559.0 312.8 L559.4 312.4 L559.7 312.0 L560.0 311.6 L560.2 311.3 L560.5 310.9 L560.8 310.5 L561.0 310.1 L561.3 309.7 L561.5 309.3 L561.7 308.9 L561.9 308.5 L562.1 308.1 L562.3 307.7 L562.5 307.3 L562.7 306.9 L562.8 306.5 L563.0 306.1 L563.1 305.7 L563.2 305.3 L563.4 304.9 L563.5 304.5 L563.6 304.1 L563.7 303.7 L563.7 303.3 L563.8 302.9 L563.9 302.5 L563.9 302.2 L564.0 301.8 L564.0 301.4 L564.0 301.0 L564.0 300.6 L564.1 300.3 L564.1 299.9 L564.1 299.5 L564.0 299.2 L564.0 298.8 L564.0 298.5 L564.0 298.1 L563.9 297.8 L563.9 297.5 L563.8 297.1 L563.8 296.8 L563.7 296.5 L563.6 296.2 L563.6 295.9 L563.5 295.5 L563.4 295.2 L563.3 295.0 L563.2 294.7 L563.1 294.4 L563.0 294.1 L562.9 293.8 L562.8 293.5 L562.7 293.3 L562.6 293.0 L562.5 292.8 L562.3 292.5 L562.2 292.3 L562.1 292.0 L561.9 291.8 L561.8 291.6 L561.7 291.3 L561.5 291.1 L561.4 290.9 L561.2 290.7 L561.1 290.5 L560.9 290.3 L560.8 290.1 L560.6 289.9 L560.5 289.7 L560.3 289.5 L560.2 289.4 L560.0 289.2 L559.9 289.0 L559.7 288.9 L559.5 288.7 L559.4 288.6 L559.2 288.4 L559.1 288.3 L558.9 288.1 L558.7 288.0 L558.6 287.9 L558.4 287.7 L558.2 287.6 L558.1 287.5 L557.9 287.4 L557.8 287.3 L557.6 287.2 L557.4 287.1 L557.3 287.0 L557.1 286.9 L556.9 286.8 L556.8 286.7 L556.6 286.6 L556.5 286.5 L556.3 286.4 L556.1 286.3 L556.0 286.3 L555.8 286.2 L555.7 286.1 L555.5 286.1 L555.3 286.0 L555.2 285.9 L555.0 285.9 L554.9 285.8 L554.7 285.8 L554.6 285.7 L554.4 285.7 L554.3 285.6 L554.1 285.6 L554.0 285.5 L553.8 285.5 L553.7 285.5 L553.5 285.4 L553.4 285.4 L553.2 285.4 L553.1 285.3 L552.9 285.3 L552.8 285.3 L552.7 285.3 L552.5 285.2 L552.4 285.2 L552.2 285.2 L552.1 285.2 L551.9 285.2 L551.8 285.1 L551.7 285.1 L551.5 285.1 L551.4 285.1 L551.2 285.1 L551.1 285.1 L551.0 285.1 L550.8 285.1 L550.7 285.1 L550.6 285.1 L550.4 285.1 L550.3 285.1 L550.2 285.1 L550.0 285.1 L549.9 285.1 L549.7 285.1 L549.6 285.1 L549.5 285.1 L549.3 285.1 L549.2 285.1 L549.1 285.1 L548.9 285.1 L548.8 285.1 L548.7 285.1 L548.5 285.2 L548.4 285.2 L548.2 285.2 L548.1 285.2 L548.0 285.2 L547.8 285.3 L547.7 285.3 L547.6 285.3 L547.4 285.4 L547.3 285.4 L547.1 285.4 L547.0 285.5 L546.9 285.5 L546.7 285.5 L546.6 285.6 L546.4 285.6 L546.3 285.7 L546.2 285.7 L546.0 285.7 L545.9 285.8 L545.7 285.9 L545.6 285.9 L545.4 286.0 L545.3 286.0 L545.2 286.1 L545.0 286.1 L544.9 286.2 L544.7 286.3 L544.6 286.4 L544.5 286.4 L544.3 286.5 L544.2 286.6 L544.0 286.7 L543.9 286.8 L543.7 286.8 L543.6 286.9 L543.5 287.0 L543.3 287.1 L543.2 287.2 L543.0 287.3 L542.9 287.4 L542.8 287.5 L542.6 287.7 L542.5 287.8 L542.3 287.9 L542.2 288.0 L542.1 288.1 L541.9 288.3 L541.8 288.4 L541.7 288.5 L541.5 288.7 L541.4 288.8 L541.3 289.0 L541.2 289.1 L541.0 289.3 L540.9 289.4 L540.8 289.6 L540.7 289.7 L540.6 289.9 L540.4 290.1 L540.3 290.3 L540.2 290.4 L540.1 290.6 L540.0 290.8 L539.9 291.0 L539.8 291.2 L539.7 291.4 L539.6 291.6 L539.5 291.8 L539.4 292.0 L539.3 292.2 L539.3 292.4 L539.2 292.6 L539.1 292.8 L539.0 293.1 L539.0 293.3 L538.9 293.5 L538.8 293.7 L538.8 294.0 L538.7 294.2 L538.7 294.5 L538.6 294.7 L538.6 294.9 L538.6 295.2 L538.5 295.5 L538.5 295.7 L538.5 296.0 L538.5 296.2 L538.5 296.5 L538.5 296.8 L538.5 297.0 L538.5 297.3 L538.5 297.6 L538.5 297.8 L538.5 298.1 L538.5 298.4 L538.6 298.7 L538.6 298.9 L538.7 299.2 L538.7 299.5 L538.8 299.8 L538.8 300.1 L538.9 300.4 L539.0 300.6 L539.1 300.9 L539.2 301.2 L539.3 301.5 L539.4 301.8 L539.5 302.1 L539.6 302.4 L539.7 302.7 L539.9 303.0 L540.0 303.2 L540.1 303.5 L540.2 303.7 L540.4 304.0 L540.5 304.2 L540.7 304.4 L540.8 304.7 L541.0 304.9 L541.1 305.1" fill="none" stroke="#e9584f" stroke-width="2.6" stroke-linecap="round" stroke-linejoin="round"/>
<path d="M487.6 270.0 L486.5 271.0 L485.5 272.0 L484.4 272.9 L483.4 273.9 L482.3 274.9 L481.3 275.9 L480.2 276.9 L479.0 277.9 L477.8 279.0 L476.6 280.1 L475.4 281.2 L474.2 282.3 L472.9 283.4 L471.6 284.5 L470.3 285.7 L469.0 286.9 L467.6 288.1 L466.2 289.3 L464.8 290.6 L463.3 291.9 L461.9 293.2 L460.5 294.4 L459.1 295.7 L457.8 296.9 L456.5 298.1 L455.3 299.3 L454.1 300.5 L453.0 301.6 L451.9 302.7 L450.9 303.8 L449.9 304.9 L448.9 306.0 L448.0 307.1 L447.1 308.1 L446.3 309.2 L445.5 310.2 L444.8 311.1 L444.1 312.0 L443.4 312.8 L442.7 313.5 L442.0 314.2 L441.3 314.9 L440.5 315.5 L439.7 316.0 L438.9 316.6 L438.2 317.1 L437.4 317.5 L436.7 318.0 L436.2 318.3 L435.6 318.6 L435.2 318.8 L434.7 319.0 L434.2 319.2 L433.7 319.5 L433.2 319.7 L432.6 319.9 L433.8 322.5 L434.3 322.3 L434.8 322.1 L435.3 321.9 L435.8 321.7 L436.3 321.4 L436.9 321.2 L437.6 320.8 L438.3 320.4 L439.0 320.0 L439.7 319.5 L440.5 319.0 L441.4 318.5 L442.2 317.9 L443.1 317.2 L444.0 316.5 L444.9 315.7 L445.7 314.8 L446.5 313.9 L447.2 313.0 L447.9 312.0 L448.7 311.0 L449.4 310.0 L450.3 309.0 L451.1 308.0 L452.1 307.0 L453.1 305.9 L454.1 304.8 L455.2 303.7 L456.3 302.6 L457.4 301.4 L458.6 300.3 L459.8 299.1 L461.1 297.9 L462.5 296.7 L463.9 295.4 L465.3 294.1 L466.8 292.9 L468.2 291.6 L469.6 290.3 L471.0 289.1 L472.3 287.9 L473.6 286.8 L474.9 285.6 L476.2 284.5 L477.4 283.4 L478.6 282.2 L479.8 281.1 L481.0 280.1 L482.1 279.0 L483.2 278.0 L484.3 277.0 L485.3 276.0 L486.3 275.0 L487.4 274.0 L488.4 273.0 L489.4 272.0Z" fill="#e9584f"/>
<path d="M446.5 311.0 L446.3 312.1 L446.1 313.3 L445.8 314.4 L445.6 315.6 L445.3 316.7 L445.2 317.8 L445.0 318.9 L445.0 320.0 L445.0 321.1 L445.1 322.1 L445.3 323.1 L445.4 324.1 L445.7 325.1 L445.9 326.1 L446.2 327.0 L446.5 328.0 L446.8 329.0 L447.1 329.9 L447.4 330.8 L447.8 331.7 L448.2 332.6 L448.7 333.5 L449.3 334.5 L450.0 335.5 L450.8 336.6 L451.8 337.7 L452.8 338.9 L454.0 340.1 L455.2 341.3 L456.4 342.4 L457.7 343.5 L459.0 344.5 L460.3 345.4 L461.8 346.3 L463.2 347.1 L464.7 347.9 L466.3 348.6 L467.8 349.3 L469.4 349.9 L471.0 350.5 L472.6 351.0 L474.3 351.5 L476.0 351.9 L477.7 352.3 L479.4 352.6 L481.1 352.8 L482.8 353.0 L484.5 353.2 L486.2 353.3 L487.9 353.3 L489.6 353.3 L491.3 353.2 L493.0 353.1 L494.7 353.0 L496.4 352.9 L498.0 352.7 L499.6 352.5 L501.1 352.3 L502.6 352.1 L504.1 351.9 L505.6 351.6 L507.0 351.3 L508.5 351.1 L510.0 350.8 L511.5 350.5 L513.2 350.2 L514.8 349.8 L516.4 349.5 L518.0 349.1 L519.5 348.8 L520.8 348.5 L522.0 348.3 L523.0 348.1 L523.8 348.1 L524.4 348.0 L525.0 348.0 L525.5 348.0 L526.1 348.0 L526.6 347.9 L527.2 347.9" fill="none" stroke="#e9584f" stroke-width="2.4" stroke-linecap="butt" stroke-linejoin="round"/>
<path d="M427.6 321.5 L427.3 321.5 L427.0 321.5 L426.7 321.6 L426.4 321.6 L426.1 321.6 L425.7 321.6 L425.2 321.5 L424.5 321.2 L423.6 320.8 L422.6 320.4 L421.5 319.9 L420.3 319.3 L419.1 318.7 L417.8 318.0 L416.5 317.2 L415.2 316.4 L413.9 315.5 L412.6 314.5 L411.2 313.4 L409.7 312.3 L408.3 311.2 L406.9 310.0 L405.6 309.0 L404.3 308.0 L403.1 307.1 L402.0 306.4 L400.9 305.7 L399.9 305.0 L398.8 304.2 L397.7 303.5 L396.4 302.7 L395.0 301.7 L393.4 300.6 L391.6 299.5 L389.6 298.2 L387.6 297.0 L385.6 295.6 L383.6 294.3 L381.7 292.9 L380.0 291.6 L378.4 290.2 L376.8 288.8 L375.2 287.3 L373.8 285.8 L372.4 284.4 L371.1 282.9 L369.9 281.6 L368.8 280.3 L367.9 279.1 L367.1 278.1 L366.5 277.1 L365.9 276.2 L365.4 275.3 L365.0 274.3 L364.5 273.2 L364.0 272.0 L363.5 270.7 L363.0 269.2 L362.5 267.7 L362.1 266.1 L361.6 264.5 L361.2 262.9 L360.8 261.3 L360.3 259.7" fill="none" stroke="#e9584f" stroke-width="2.7" stroke-linecap="round" stroke-linejoin="round"/>
<path d="M419.0 318.6 L418.2 317.6 L417.3 316.5 L416.4 315.5 L415.5 314.5 L414.7 313.4 L413.9 312.4 L413.1 311.4 L412.5 310.5 L411.9 309.6 L411.4 308.8 L411.0 308.0 L410.6 307.2 L410.3 306.4 L410.0 305.6 L409.9 304.8 L409.8 303.9 L409.8 303.0 L410.0 302.0 L410.2 301.1 L410.5 300.1 L410.8 299.1 L411.2 298.1 L411.7 297.1 L412.1 296.1 L412.6 295.1 L413.2 294.1 L413.8 293.2 L414.5 292.2 L415.1 291.2 L415.7 290.2 L416.3 289.3 L416.8 288.3 L417.2 287.3 L417.6 286.4 L417.9 285.4 L418.2 284.4 L418.5 283.5 L418.7 282.5 L418.9 281.6 L419.0 280.6 L419.1 279.6 L419.1 278.7 L419.0 277.7 L419.0 276.8 L418.9 275.8 L418.8 274.9 L418.7 273.9 L418.6 273.0" fill="none" stroke="#e9584f" stroke-width="2.5" stroke-linecap="round" stroke-linejoin="round"/>
<path d="M416.3 288.5 L415.9 287.7 L415.4 286.8 L415.0 286.0 L414.5 285.1 L414.1 284.3 L413.6 283.5 L413.2 282.7 L412.9 282.1 L412.6 281.6 L412.4 281.1 L412.1 280.7 L411.9 280.3 L411.8 280.0 L411.6 279.7 L411.4 279.4 L411.2 279.0" fill="none" stroke="#e9584f" stroke-width="2.2" stroke-linecap="round" stroke-linejoin="round"/>
<path d="M357.5 277.5 L355.8 277.3 L354.1 277.1 L352.3 277.0 L350.6 276.8 L348.9 276.6 L347.3 276.3 L345.8 276.0 L344.4 275.6 L343.2 275.1 L342.1 274.5 L341.2 273.8 L340.3 273.0 L339.5 272.3 L338.7 271.5 L337.9 270.7 L337.0 270.0" fill="none" stroke="#e9584f" stroke-width="2.2" stroke-linecap="round" stroke-linejoin="round"/>
<path d="M357.0 277.8 L358.2 277.7 L359.4 277.6 L360.6 277.6 L361.8 277.5 L362.9 277.4 L364.1 277.4 L365.3 277.3 L366.5 277.2" fill="none" stroke="#e9584f" stroke-width="2.3" stroke-linecap="round" stroke-linejoin="round"/>
<path d="M403.2 213.4 L403.0 214.7 L402.7 215.9 L402.4 217.2 L402.2 218.5 L401.9 219.7 L401.7 221.0 L401.5 222.2 L401.3 223.3 L401.2 224.4 L401.1 225.4 L401.1 226.3 L401.1 227.2 L401.0 228.2 L401.0 229.1 L400.9 230.1 L400.8 231.1 L400.6 232.2 L400.4 233.4 L400.2 234.6 L400.0 235.8 L399.8 237.1 L399.5 238.3 L399.2 239.4 L398.8 240.4 L398.4 241.3 L398.0 242.2 L397.5 243.0 L397.0 243.8 L396.5 244.6 L396.0 245.3 L395.4 246.0 L394.9 246.7 L394.4 247.4 L393.8 248.0 L393.2 248.6 L392.6 249.2 L392.0 249.8 L391.4 250.4 L390.8 251.0 L390.2 251.6" fill="none" stroke="#e9584f" stroke-width="2.3" stroke-linecap="round" stroke-linejoin="round"/>
<path d="M398.8 239.9 L397.9 240.1 L397.1 240.4 L396.2 240.6 L395.4 240.9 L394.5 241.1 L393.7 241.4 L392.8 241.5 L391.8 241.7 L390.8 241.8 L389.8 241.9 L388.7 241.9 L387.6 241.9 L386.5 242.0 L385.4 242.0 L384.3 242.0 L383.2 242.0" fill="none" stroke="#e9584f" stroke-width="2.0" stroke-linecap="round" stroke-linejoin="round"/>
<path d="M407.4 211.8 L407.2 213.0 L406.9 214.2 L406.7 215.4 L406.4 216.7 L406.2 217.9 L406.0 219.1 L405.9 220.4 L405.8 221.8 L405.8 223.2 L405.8 224.7 L405.9 226.3 L406.0 227.8 L406.1 229.4 L406.3 231.0 L406.5 232.6 L406.7 234.2 L407.0 235.8 L407.3 237.4 L407.7 239.0 L408.1 240.6 L408.6 242.2 L409.0 243.8 L409.4 245.3 L409.7 246.7 L410.0 248.0 L410.3 249.2 L410.5 250.4 L410.8 251.5 L411.0 252.7 L411.2 253.7 L411.5 254.9 L411.7 256.0" fill="none" stroke="#e9584f" stroke-width="1.5" stroke-linecap="round" stroke-linejoin="round"/>
<path d="M405.4 213.0 L405.2 214.1 L405.0 215.3 L404.7 216.4 L404.5 217.6 L404.3 218.7 L404.1 219.8 L404.0 220.9 L403.9 222.0 L403.9 223.1 L404.0 224.1 L404.1 225.2 L404.2 226.2 L404.4 227.2 L404.5 228.2 L404.7 229.1 L404.9 230.0 L405.1 230.8 L405.3 231.6 L405.5 232.4 L405.7 233.1 L406.0 233.8 L406.2 234.5 L406.5 235.3 L406.7 236.0" fill="none" stroke="#e9584f" stroke-width="1.2" stroke-linecap="round" stroke-linejoin="round"/>
<path d="M374.0 194.0 L374.2 195.0 L374.4 196.0 L374.6 196.9 L374.8 197.9 L375.0 198.9 L375.2 199.9 L375.3 200.9 L375.4 202.0 L375.4 203.2 L375.4 204.4 L375.4 205.8 L375.3 207.1 L375.3 208.4 L375.2 209.7 L375.1 210.9 L375.0 212.0 L374.9 213.0 L374.8 213.9 L374.7 214.7 L374.5 215.5 L374.4 216.2 L374.3 217.0 L374.1 217.7 L374.0 218.5" fill="none" stroke="#e9584f" stroke-width="2.3" stroke-linecap="round" stroke-linejoin="round"/>
<path d="M343.2 214.2 L342.8 213.8 L342.4 213.4 L342.0 213.0 L341.5 212.7 L341.1 212.3 L340.7 211.8 L340.2 211.4 L339.7 210.8 L339.2 210.3 L338.6 209.7 L338.0 209.0 L337.3 208.3 L336.7 207.6 L336.0 206.9 L335.4 206.2 L334.8 205.4 L334.1 204.7 L333.5 203.9 L332.9 203.2 L332.3 202.4 L331.7 201.6 L331.1 200.8 L330.5 200.0 L329.9 199.1 L329.3 198.3 L328.7 197.4 L328.0 196.5 L327.4 195.6 L326.8 194.7 L326.2 193.7 L325.6 192.8 L325.0 191.8 L324.4 190.8 L323.9 189.8 L323.3 188.9 L322.7 187.8 L322.1 186.8 L321.6 185.8 L321.0 184.8 L320.5 183.7 L319.9 182.6 L319.4 181.5 L318.8 180.5 L318.3 179.3 L317.7 178.2 L317.2 177.1 L316.7 176.0 L316.2 174.8 L315.7 173.7 L315.2 172.5 L314.7 171.4 L314.2 170.2 L313.8 169.0 L313.3 167.8 L312.9 166.6 L312.4 165.4 L312.0 164.2 L311.5 163.0 L311.1 161.8 L310.7 160.5 L310.3 159.3 L309.9 158.0 L309.5 156.8 L309.1 155.5 L308.8 154.3 L308.5 153.0 L308.2 151.8 L307.9 150.6 L307.6 149.3 L307.4 148.1 L307.2 146.8 L307.0 145.6 L306.8 144.3 L306.6 142.9 L306.5 141.6 L306.4 140.2 L306.3 138.9 L306.2 137.6 L306.1 136.3 L306.0 135.1 L305.9 134.0 L305.8 132.9 L305.7 131.8 L305.6 130.8 L305.5 129.8 L305.5 128.9 L305.4 128.1 L305.3 127.3 L305.3 126.6 L305.2 126.1 L305.2 125.6 L305.1 125.2 L305.1 124.8 L305.0 124.4 L305.0 123.9 L304.9 123.3 L304.9 122.6 L304.9 121.9 L304.8 121.1 L304.8 120.3 L304.8 119.5 L304.8 118.6 L304.7 117.6 L304.7 116.6 L304.7 115.4 L304.7 114.2 L304.7 112.9 L304.6 111.6 L304.6 110.2 L304.6 108.8 L304.6 107.5 L304.6 106.2 L304.7 104.9 L304.7 103.7 L304.7 102.4 L304.8 101.2 L304.8 99.9 L304.9 98.7 L304.9 97.5 L305.0 96.3 L305.1 95.1 L305.2 93.9 L305.3 92.7 L305.4 91.6 L305.5 90.4 L305.6 89.3 L305.7 88.2 L305.8 87.1 L306.0 86.1 L306.1 85.1 L306.2 84.1 L306.4 83.1 L306.5 82.2 L306.6 81.3 L306.8 80.4 L306.9 79.5 L307.1 78.7 L307.3 77.9 L307.4 77.2 L307.6 76.4 L307.8 75.7 L308.0 75.0 L308.2 74.4 L308.3 73.7 L308.5 73.1 L308.7 72.5 L308.9 71.9 L309.0 71.4 L309.2 70.9 L309.4 70.4 L309.6 69.9 L309.7 69.5 L309.9 69.1 L310.1 68.7 L310.3 68.3 L310.4 68.0 L310.6 67.7 L310.8 67.4 L310.9 67.2 L311.1 66.9 L311.3 66.6 L311.4 66.4 L311.6 66.2 L311.8 65.9 L312.0 65.7 L312.1 65.6 L312.3 65.4 L312.4 65.2 L312.6 65.1 L312.7 65.0 L312.8 64.9 L312.9 64.8 L313.0 64.7 L313.1 64.7 L313.3 64.6 L313.4 64.6 L313.5 64.5 L313.6 64.5 L313.8 64.5 L313.9 64.5 L314.0 64.5 L314.2 64.5 L314.3 64.5 L314.4 64.5 L314.6 64.5 L314.7 64.5 L314.8 64.5 L315.0 64.6 L315.1 64.6 L315.2 64.7 L315.4 64.7 L315.6 64.9 L315.8 65.0 L316.1 65.2 L316.3 65.4 L316.6 65.6 L316.8 65.9 L317.1 66.1 L317.4 66.5 L317.7 66.8 L318.1 67.2 L318.4 67.6 L318.8 68.1 L319.2 68.5 L319.6 69.0 L320.0 69.6 L320.4 70.1 L320.8 70.7 L321.2 71.3 L321.6 72.0 L322.0 72.6 L322.4 73.3 L322.9 74.0 L323.3 74.7 L323.8 75.5 L324.2 76.2 L324.7 77.0 L325.1 77.9 L325.6 78.7 L326.1 79.6 L326.6 80.5 L327.0 81.4 L327.5 82.4 L328.0 83.4 L328.5 84.4 L329.0 85.4 L329.5 86.4 L330.0 87.5 L330.5 88.6 L331.0 89.7 L331.5 90.9 L332.0 92.0 L332.5 93.3 L333.0 94.6 L333.6 95.9 L334.1 97.2 L334.6 98.6 L335.2 99.9 L335.7 101.3 L336.2 102.6 L336.7 103.9 L337.2 105.1 L337.7 106.4 L338.2 107.7 L338.7 108.9 L339.2 110.2 L339.7 111.4 L340.2 112.7 L340.7 113.9 L341.2 115.2 L341.7 116.4 L342.2 117.7 L342.6 118.9 L343.1 120.1 L343.5 121.2 L343.9 122.2 L344.3 123.2 L344.7 124.2 L345.1 125.1 L345.4 125.9 L345.8 126.8 L346.1 127.5 L346.4 128.2 L346.6 128.8 L346.9 129.3 L347.0 129.6 L347.2 129.9 L347.3 130.1 L347.5 130.3 L347.6 130.6 L347.7 130.9 L347.9 131.3 L348.1 131.8 L348.2 132.3 L348.4 132.8 L348.6 133.4 L348.8 134.0 L349.0 134.7 L349.3 135.5 L349.5 136.3 L349.7 137.2 L350.0 138.3 L350.3 139.4 L350.6 140.5 L350.9 141.7 L351.2 142.9 L351.5 144.0 L351.8 145.1 L352.1 146.2 L352.3 147.3 L352.6 148.4 L352.8 149.5 L353.1 150.5 L353.3 151.6 L353.5 152.6 L353.7 153.7 L353.9 154.7 L354.1 155.7 L354.3 156.7 L354.5 157.6 L354.6 158.6 L354.8 159.6 L355.0 160.6 L355.2 161.6 L355.4 162.6 L355.5 163.6 L355.7 164.6 L355.9 165.6 L356.1 166.6 L356.3 167.6 L356.5 168.6 L356.7 169.6 L356.9 170.6 L357.1 171.7 L357.3 172.7 L357.5 173.7 L357.7 174.7 L357.9 175.7 L358.1 176.7 L358.3 177.7 L358.4 178.7 L358.6 179.6 L358.7 180.6 L358.9 181.5 L359.0 182.4 L359.1 183.3 L359.2 184.2 L359.3 185.1 L359.4 186.0 L359.5 186.9 L359.5 187.8 L359.6 188.7 L359.6 189.5 L359.7 190.4 L359.7 191.3 L359.8 192.1 L359.8 193.0 L359.9 193.8 L359.9 194.6 L360.0 195.5 L360.0 196.3 L360.1 197.1 L360.1 197.9 L360.2 198.8 L360.2 199.6 L360.3 200.4 L360.3 201.2 L360.4 202.0 L360.4 202.8 L360.5 203.6 L360.6 204.4 L360.6 205.1 L360.7 205.8 L360.8 206.5 L360.9 207.1 L361.0 207.8 L361.1 208.4 L361.2 209.0 L361.3 209.6 L361.4 210.1 L361.5 210.6 L361.7 211.0 L361.8 211.4 L362.0 211.8 L362.1 212.1 L362.3 212.4 L362.4 212.7 L362.5 213.0 L362.6 213.3 L362.6 213.5 L362.6 213.6 L362.6 213.8 L362.6 213.9 L362.6 214.1 L362.8 214.3 L363.1 214.6 L363.5 214.9 L364.0 215.2 L364.6 215.6 L365.3 216.0 L366.0 216.4 L366.7 216.8 L367.4 217.2 L368.0 217.5 L368.5 217.8 L369.1 218.0 L369.6 218.3 L370.1 218.5 L370.5 218.7 L371.0 218.9 L371.5 219.1 L372.0 219.3" fill="none" stroke="#e9584f" stroke-width="2.7" stroke-linecap="round" stroke-linejoin="round"/>
<path d="M306.0 177.2 L305.5 176.8 L305.1 176.4 L304.6 176.1 L304.2 175.7 L303.7 175.3 L303.2 174.9 L302.6 174.4 L302.0 173.9 L301.3 173.3 L300.6 172.7 L299.9 172.1 L299.2 171.4 L298.3 170.7 L297.5 169.9 L296.5 169.2 L295.5 168.5 L294.4 167.7 L293.1 166.9 L291.8 166.1 L290.5 165.3 L289.1 164.5 L287.7 163.7 L286.3 163.0 L285.0 162.5 L283.7 162.1 L282.5 161.7 L281.3 161.5 L280.1 161.3 L278.9 161.1 L277.6 161.0 L276.4 160.9 L275.0 160.8 L273.6 160.7 L272.0 160.6 L270.4 160.5 L268.8 160.5 L267.1 160.5 L265.6 160.5 L264.1 160.5 L262.8 160.5 L261.6 160.5 L260.5 160.6 L259.6 160.7 L258.6 160.8 L257.7 160.9 L256.8 161.0 L255.9 161.1 L255.0 161.3 L254.0 161.5 L253.1 161.7 L252.1 161.9 L251.1 162.1 L250.2 162.4 L249.2 162.6 L248.2 162.9 L247.2 163.2 L246.2 163.5 L245.2 163.8 L244.1 164.1 L243.1 164.4 L242.0 164.8 L241.0 165.1 L240.0 165.4 L239.0 165.8 L238.1 166.2 L237.1 166.5 L236.2 166.9 L235.3 167.3 L234.5 167.7 L233.6 168.1 L232.6 168.5 L231.7 169.0 L230.7 169.5 L229.7 170.1 L228.7 170.6 L227.6 171.2 L226.6 171.8 L225.5 172.4 L224.5 173.1 L223.5 173.7 L222.5 174.3 L221.6 174.9 L220.7 175.4 L219.8 176.0 L218.9 176.6 L218.0 177.3 L217.0 178.2 L216.1 179.1 L215.1 180.2 L214.1 181.4 L213.1 182.8 L212.0 184.2 L211.0 185.7 L210.0 187.1 L209.1 188.6 L208.3 190.0 L207.6 191.4 L206.9 192.8 L206.3 194.2 L205.7 195.6 L205.2 196.9 L204.7 198.3 L204.2 199.6 L203.7 200.9 L203.2 202.1 L202.8 203.4 L202.4 204.6 L201.9 205.7 L201.6 206.9 L201.2 208.0 L200.9 209.1 L200.6 210.2 L200.3 211.2 L200.1 212.2 L199.9 213.1 L199.7 214.1 L199.6 215.0 L199.4 215.9 L199.3 216.9 L199.2 218.0 L199.1 219.1 L199.0 220.3 L199.0 221.5 L198.9 222.7 L198.9 224.0 L198.8 225.3 L198.8 226.6 L198.8 228.0 L198.8 229.4 L198.8 230.9 L198.8 232.4 L198.8 234.0 L198.8 235.6 L198.9 237.1 L198.9 238.6 L199.0 240.0 L199.1 241.4 L199.3 242.7 L199.4 243.9 L199.6 245.2 L199.8 246.4 L200.0 247.6 L200.2 248.8 L200.4 250.0 L200.6 251.2 L200.8 252.2 L201.0 253.3 L201.2 254.4 L201.4 255.4 L201.6 256.6 L201.9 257.7 L202.3 259.0 L202.7 260.4 L203.2 261.9 L203.7 263.4 L204.2 265.0 L204.8 266.6 L205.4 268.2 L206.1 269.7 L206.8 271.1 L207.5 272.4 L208.3 273.7 L209.2 274.9 L210.1 276.1 L211.0 277.3 L211.9 278.4 L212.9 279.4 L213.8 280.4 L214.8 281.3 L215.7 282.2 L216.7 283.0 L217.7 283.8 L218.8 284.5 L219.8 285.2 L220.9 285.8 L222.0 286.5 L223.1 287.1 L224.2 287.7 L225.3 288.2 L226.4 288.8 L227.6 289.3 L228.8 289.8 L230.2 290.3 L231.7 290.8 L233.4 291.4 L235.2 292.0 L237.1 292.6 L239.1 293.2 L241.1 293.8 L243.2 294.3 L245.2 294.8 L247.2 295.2 L249.2 295.5 L251.2 295.8 L253.3 296.1 L255.4 296.2 L257.4 296.4 L259.3 296.5 L261.2 296.7 L262.8 296.8 L264.2 296.9 L265.5 297.0 L266.6 297.1 L267.7 297.2 L268.7 297.2 L269.7 297.2 L270.8 297.3 L272.0 297.3 L273.3 297.3 L274.6 297.4 L276.0 297.4 L277.4 297.4 L278.8 297.5 L280.3 297.4 L281.8 297.4 L283.3 297.3 L284.9 297.2 L286.5 297.0 L288.2 296.8 L289.9 296.6 L291.6 296.4 L293.3 296.1 L295.0 295.8 L296.7 295.5 L298.4 295.1 L300.0 294.7 L301.7 294.3 L303.4 293.8 L305.0 293.3 L306.7 292.8 L308.3 292.2 L310.0 291.7 L311.7 291.2 L313.3 290.6 L315.0 290.0 L316.6 289.4 L318.3 288.8 L320.0 288.2 L321.6 287.6 L323.3 287.0 L325.0 286.4 L326.7 285.8 L328.5 285.2 L330.3 284.6 L332.0 284.0 L333.6 283.4 L335.2 282.8 L336.7 282.3 L338.1 281.8 L339.4 281.3 L340.6 280.9 L341.8 280.5 L342.9 280.1 L344.0 279.7 L345.0 279.3 L346.0 279.0 L347.0 278.7 L347.9 278.4 L348.8 278.2 L349.7 277.9 L350.5 277.7 L351.3 277.5 L352.0 277.4 L352.7 277.3 L353.4 277.2 L353.9 277.2 L354.5 277.3 L355.0 277.3 L355.5 277.4 L356.0 277.5 L356.5 277.5 L357.0 277.6" fill="none" stroke="#e9584f" stroke-width="2.7" stroke-linecap="round" stroke-linejoin="round"/>
<path d="M336.0 223.4 L335.1 223.1 L334.3 222.8 L333.5 222.5 L332.7 222.1 L331.8 221.8 L330.9 221.5 L329.9 221.2 L328.7 220.8 L327.4 220.4 L325.9 220.0 L324.3 219.6 L322.6 219.2 L320.9 218.8 L319.2 218.4 L317.6 218.0 L316.0 217.6 L314.5 217.3 L313.0 217.0 L311.6 216.7 L310.2 216.4 L308.8 216.1 L307.3 215.8 L305.9 215.6 L304.4 215.3 L302.9 215.0 L301.3 214.8 L299.8 214.5 L298.2 214.2 L296.7 214.0 L295.1 213.7 L293.5 213.5 L292.0 213.3 L290.6 213.1 L289.3 212.9 L288.0 212.7 L286.7 212.6 L285.4 212.4 L283.8 212.3 L282.1 212.1 L280.0 212.0 L277.4 211.9 L274.4 211.8 L271.1 211.7 L267.7 211.6 L264.2 211.5 L261.0 211.4 L258.1 211.4 L255.8 211.4 L254.0 211.4 L252.7 211.5 L251.6 211.6 L250.8 211.8 L250.1 211.9 L249.4 212.1 L248.7 212.2 L247.8 212.4 L246.8 212.6 L245.8 212.7 L244.8 212.9 L243.8 213.1 L242.9 213.3 L242.0 213.5 L241.2 213.6 L240.5 213.8 L239.9 213.9 L239.5 214.1 L239.1 214.2 L238.8 214.3 L238.5 214.4 L238.3 214.6 L238.0 214.7 L237.7 214.8 L237.4 215.0 L237.2 215.2 L236.9 215.3 L236.7 215.5 L236.4 215.7 L236.2 215.8 L236.0 216.0 L235.7 216.2 L235.5 216.4 L235.2 216.6 L235.0 216.7 L234.7 216.9 L234.4 217.1 L234.2 217.3 L234.0 217.5 L233.7 217.7 L233.5 217.9 L233.3 218.1 L233.1 218.3 L232.9 218.5 L232.7 218.8 L232.5 219.0 L232.3 219.2 L232.1 219.4 L231.9 219.6 L231.8 219.8 L231.6 220.1 L231.4 220.3 L231.3 220.5 L231.1 220.8 L231.0 221.0 L230.8 221.2 L230.7 221.5 L230.5 221.8 L230.4 222.0 L230.2 222.3 L230.1 222.5 L229.9 222.8 L229.8 223.1 L229.7 223.3 L229.6 223.5 L229.5 223.8 L229.4 224.0 L229.3 224.2 L229.2 224.4 L229.1 224.6 L229.0 224.8 L229.0 225.1 L228.9 225.3 L228.8 225.6 L228.7 225.8 L228.6 226.1 L228.5 226.4 L228.4 226.6 L228.4 226.9 L228.3 227.1 L228.2 227.3 L228.2 227.6 L228.1 227.7 L228.1 227.9 L228.1 228.1 L228.0 228.3 L228.0 228.5 L228.0 228.7 L227.9 228.9 L227.9 229.1 L227.9 229.3 L227.9 229.5 L227.8 229.7 L227.8 229.9 L227.8 230.1 L227.8 230.3 L227.8 230.6 L227.8 230.9 L227.8 231.2 L227.8 231.5 L227.8 231.8 L227.8 232.1 L227.8 232.4 L227.8 232.6 L227.8 232.9 L227.8 233.2 L227.9 233.5 L227.9 233.7 L227.9 234.0 L227.9 234.3 L228.0 234.5 L228.0 234.8 L228.0 235.0 L228.1 235.3 L228.1 235.5 L228.2 235.7 L228.2 235.9 L228.3 236.1 L228.3 236.3 L228.3 236.5 L228.4 236.6 L228.4 236.7 L228.4 236.8 L228.5 236.9 L228.5 237.0 L228.6 237.1 L228.6 237.2 L228.7 237.3 L228.7 237.4 L228.8 237.6 L228.9 237.7 L229.0 237.9 L229.1 238.0 L229.3 238.2 L229.4 238.3 L229.5 238.5 L229.7 238.7 L229.8 238.8 L230.0 239.0 L230.1 239.1 L230.3 239.3 L230.4 239.4 L230.6 239.6 L230.8 239.7 L230.9 239.8 L231.1 240.0 L231.2 240.1 L231.3 240.2 L231.5 240.3 L231.6 240.5 L231.8 240.6 L232.0 240.7 L232.3 240.9 L232.5 241.0 L232.7 241.1 L232.9 241.2 L233.2 241.3 L233.6 241.5 L234.0 241.7 L234.5 241.9 L235.1 242.2 L235.8 242.5 L236.7 242.9 L237.5 243.3 L238.4 243.7 L239.4 244.2 L240.3 244.5 L241.2 244.9 L242.1 245.3 L243.1 245.6 L244.0 246.0 L245.0 246.3 L245.9 246.6 L247.0 246.9 L248.0 247.2 L249.2 247.5 L250.4 247.7 L251.7 248.0 L253.0 248.2 L254.3 248.4 L255.7 248.6 L257.1 248.7 L258.6 248.9 L260.0 249.1 L261.5 249.2 L263.0 249.3 L264.5 249.4 L266.0 249.5 L267.6 249.6 L269.1 249.7 L270.6 249.8 L272.1 249.8 L273.5 249.8 L274.9 249.8 L276.3 249.8 L277.6 249.8 L278.9 249.8 L280.3 249.7 L281.7 249.7 L283.1 249.6 L284.5 249.5 L286.0 249.4 L287.4 249.3 L288.8 249.2 L290.3 249.1 L291.9 248.9 L293.5 248.7 L295.3 248.6 L297.1 248.3 L299.2 248.1 L301.3 247.8 L303.4 247.6 L305.6 247.3 L307.8 247.0 L309.9 246.7 L312.0 246.4 L314.0 246.1 L316.0 245.9 L317.9 245.6 L319.8 245.3 L321.7 245.0 L323.6 244.7 L325.5 244.4 L327.4 244.1" fill="none" stroke="#e9584f" stroke-width="2.7" stroke-linecap="round" stroke-linejoin="round"/>
<circle cx="299.2" cy="124.6" r="2.5" fill="#fff" fill-opacity="0.9"/>
<circle cx="223" cy="228" r="2.5" fill="#fff" fill-opacity="0.9"/>
<circle cx="215.5" cy="287.7" r="2.5" fill="#fff" fill-opacity="0.9"/>
<circle cx="352" cy="257.5" r="2.5" fill="#fff" fill-opacity="0.9"/>
<circle cx="399.3" cy="281.6" r="2.5" fill="#fff" fill-opacity="0.9"/>
<circle cx="430.4" cy="321.6" r="2.5" fill="#fff" fill-opacity="0.9"/>
<circle cx="417" cy="205.5" r="2.5" fill="#fff" fill-opacity="0.9"/>
<circle cx="483.5" cy="98.3" r="2.5" fill="#fff" fill-opacity="0.9"/>
<circle cx="529.4" cy="348.1" r="2.5" fill="#fff" fill-opacity="0.9"/>
<path d="M168 124.6 H299.2" fill="none" stroke="#3b4a5e" stroke-width="1.5"/>
<path d="M163.5 227.8 H223" fill="none" stroke="#3b4a5e" stroke-width="1.5"/>
<path d="M162 287.7 H215.5" fill="none" stroke="#3b4a5e" stroke-width="1.5"/>
<path d="M291 335 H352 V257.5" fill="none" stroke="#3b4a5e" stroke-width="1.5"/>
<path d="M291 380 H399.3 V281.6" fill="none" stroke="#3b4a5e" stroke-width="1.5"/>
<path d="M291 419 H430.4 V321.6" fill="none" stroke="#3b4a5e" stroke-width="1.5"/>
<path d="M537.5 34.4 H417 V205.5" fill="none" stroke="#3b4a5e" stroke-width="1.5"/>
<path d="M537.5 70.4 H483.5 V98" fill="none" stroke="#3b4a5e" stroke-width="1.5"/>
<path d="M583 413.5 H529.4 V348" fill="none" stroke="#3b4a5e" stroke-width="1.5"/>
<circle cx="299.2" cy="124.6" r="1.8" fill="#2b3c53"/>
<circle cx="223" cy="228" r="1.8" fill="#2b3c53"/>
<circle cx="215.5" cy="287.7" r="1.8" fill="#2b3c53"/>
<circle cx="352" cy="257.5" r="1.8" fill="#2b3c53"/>
<circle cx="399.3" cy="281.6" r="1.8" fill="#2b3c53"/>
<circle cx="430.4" cy="321.6" r="1.8" fill="#2b3c53"/>
<circle cx="417" cy="205.5" r="1.8" fill="#2b3c53"/>
<circle cx="483.5" cy="98.3" r="1.8" fill="#2b3c53"/>
<circle cx="529.4" cy="348.1" r="1.8" fill="#2b3c53"/>
<text x="161.5" y="131.3" text-anchor="end" font-size="22.4" class="" textLength="80.5" lengthAdjust="spacingAndGlyphs" stroke="#2b3c53" stroke-width="0.75" stroke-linejoin="round">Anterior</text>
<text x="161.5" y="154.4" text-anchor="end" font-size="22.4" class="" textLength="53.5" lengthAdjust="spacingAndGlyphs" stroke="#2b3c53" stroke-width="0.75" stroke-linejoin="round">canal</text>
<text x="156.5" y="235.3" text-anchor="end" font-size="22.4" class="" textLength="104.5" lengthAdjust="spacingAndGlyphs" stroke="#2b3c53" stroke-width="0.75" stroke-linejoin="round">Horizontal</text>
<text x="156.5" y="258" text-anchor="end" font-size="22.4" class="" textLength="53.5" lengthAdjust="spacingAndGlyphs" stroke="#2b3c53" stroke-width="0.75" stroke-linejoin="round">canal</text>
<text x="155.8" y="294.4" text-anchor="end" font-size="22.4" class="" textLength="93.5" lengthAdjust="spacingAndGlyphs" stroke="#2b3c53" stroke-width="0.75" stroke-linejoin="round">Posterior</text>
<text x="155.8" y="316.7" text-anchor="end" font-size="22.4" class="" textLength="53.5" lengthAdjust="spacingAndGlyphs" stroke="#2b3c53" stroke-width="0.75" stroke-linejoin="round">canal</text>
<text x="284.6" y="341.2" text-anchor="end" font-size="22.4" class="" textLength="65.5" lengthAdjust="spacingAndGlyphs" fill="#54637a" stroke="#54637a" stroke-width="0.75" stroke-linejoin="round">Utricle</text>
<text x="284.6" y="385.8" text-anchor="end" font-size="22.4" class="" textLength="80" lengthAdjust="spacingAndGlyphs" stroke="#2b3c53" stroke-width="0.75" stroke-linejoin="round">Saccule</text>
<text x="284.6" y="425.4" text-anchor="end" font-size="23" class="b" textLength="229" lengthAdjust="spacingAndGlyphs" stroke="#2b3c53" stroke-width="0.45" stroke-linejoin="round">Posterior vestibular a.</text>
<text x="545.7" y="42.6" text-anchor="start" font-size="23" class="b" textLength="215" lengthAdjust="spacingAndGlyphs" stroke="#2b3c53" stroke-width="0.45" stroke-linejoin="round">Anterior vestibular a.</text>
<text x="545.7" y="77.5" text-anchor="start" font-size="23" class="b" textLength="194.5" lengthAdjust="spacingAndGlyphs" stroke="#2b3c53" stroke-width="0.45" stroke-linejoin="round">Vertebral basilar a.</text>
<text x="591.3" y="420" text-anchor="start" font-size="23" class="b" textLength="115.5" lengthAdjust="spacingAndGlyphs" stroke="#2b3c53" stroke-width="0.45" stroke-linejoin="round">Cochlear a.</text>
<text x="649.6" y="434.5" font-size="22.5" textLength="137.5" stroke="#b3b3b3" stroke-width="0.55" lengthAdjust="spacingAndGlyphs" style="font-family:'DejaVu Sans Light','DejaVu Sans','Liberation Sans',sans-serif;font-weight:200;fill:#b3b3b3">MEDBRIDGE</text>
</svg>
</body></html>
